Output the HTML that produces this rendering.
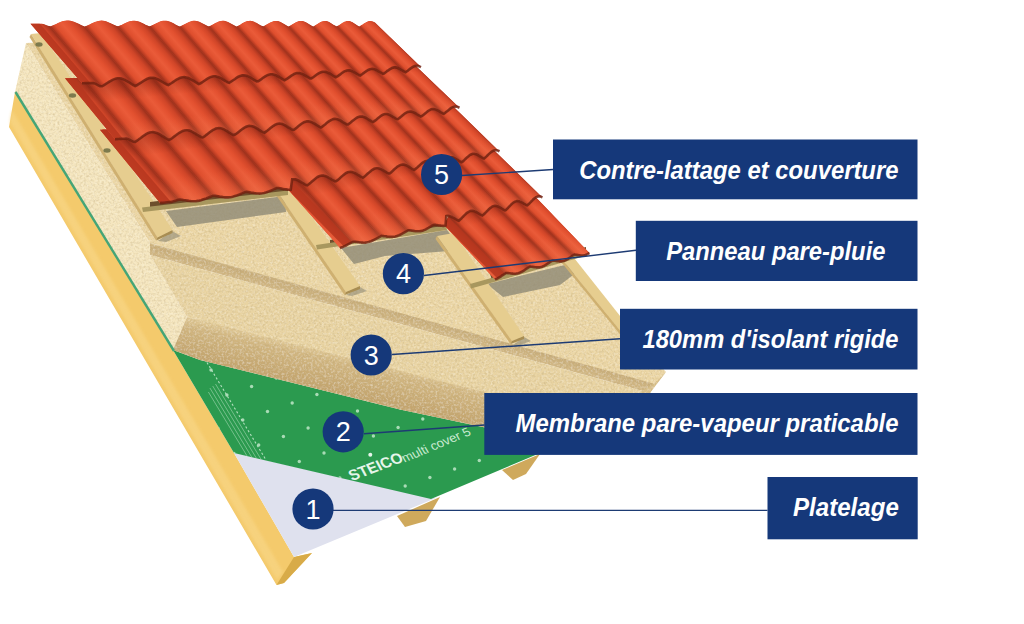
<!DOCTYPE html>
<html lang="fr"><head><meta charset="utf-8"><title>Composition de toiture</title>
<style>html,body{margin:0;padding:0;background:#fff}body{width:1024px;height:624px;overflow:hidden}svg{display:block}</style>
</head><body>
<svg width="1024" height="624" viewBox="0 0 1024 624">
<defs>
<linearGradient id="gw" x1="0" y1="0" x2="1" y2="0" gradientUnits="objectBoundingBox"><stop offset="0" stop-color="#f2c96c"/><stop offset="1" stop-color="#efc260"/></linearGradient>
<clipPath id="cg"><polygon points="173,350 234,453 431,499 545,451 545,440 485,427.5 400,409.5 200,360"/></clipPath>
<linearGradient id="gs" gradientUnits="userSpaceOnUse" x1="400" y1="311" x2="397" y2="322"><stop offset="0" stop-color="#d8c08c"/><stop offset="0.25" stop-color="#c8ad7a"/><stop offset="1" stop-color="#d2b885"/></linearGradient>
<linearGradient id="gf" gradientUnits="userSpaceOnUse" x1="300" y1="346" x2="292" y2="380"><stop offset="0" stop-color="#dfc794"/><stop offset="0.2" stop-color="#d2b782"/><stop offset="1" stop-color="#c4a56e"/></linearGradient>
<clipPath id="c4"><polygon points="444.0,225.0 458.2,197.9 458.6,198.1 459.0,198.4 459.5,198.5 459.9,198.7 460.3,198.9 460.7,199.1 461.1,199.1 461.6,198.8 462.0,198.5 462.4,198.2 462.8,197.9 463.2,197.5 463.6,197.2 464.1,196.8 464.5,196.5 464.9,196.1 465.3,195.7 465.7,195.4 466.2,195.0 466.6,194.6 467.0,194.3 467.4,193.9 467.8,193.6 468.2,193.3 468.6,193.0 469.1,192.7 469.5,192.4 469.9,192.2 470.3,191.9 470.7,191.7 471.1,191.5 471.5,191.4 472.0,191.2 472.4,191.1 472.8,191.0 473.2,190.9 473.6,190.9 474.0,190.8 474.4,190.8 474.8,190.9 475.2,190.9 475.6,191.0 476.1,191.1 476.5,191.2 476.9,191.3 477.3,191.5 477.7,191.6 478.1,191.8 478.5,192.0 478.9,192.2 479.3,192.4 479.7,192.6 480.1,192.8 480.5,193.0 481.0,193.3 481.4,193.5 481.8,193.7 482.2,193.9 482.6,194.1 483.0,194.3 483.4,194.5 483.8,194.7 484.2,194.8 484.6,195.0 485.0,194.8 485.4,194.5 485.8,194.2 486.2,193.9 486.6,193.5 487.0,193.2 487.4,192.8 487.8,192.5 488.2,192.1 488.6,191.8 489.0,191.4 489.4,191.1 489.8,190.7 490.2,190.4 490.6,190.0 491.0,189.7 491.4,189.4 491.8,189.1 492.2,188.8 492.6,188.5 493.0,188.2 493.4,188.0 493.8,187.8 494.2,187.6 494.6,187.4 495.0,187.2 495.4,187.1 495.8,187.0 496.2,186.9 496.6,186.9 497.0,186.8 497.4,186.8 497.8,186.9 498.2,186.9 498.6,187.0 498.9,187.0 499.3,187.1 499.7,187.3 500.1,187.4 500.5,187.6 500.9,187.7 501.3,187.9 501.7,188.1 502.1,188.3 502.5,188.5 502.9,188.7 503.3,189.0 503.7,189.2 504.0,189.4 504.4,189.6 504.8,189.8 505.2,190.0 505.6,190.2 506.0,190.4 506.4,190.6 506.8,190.8 507.2,190.9 507.5,190.9 507.9,190.6 508.3,190.3 508.7,190.0 509.1,189.7 509.5,189.4 509.9,189.0 510.3,188.7 510.6,188.3 511.0,188.0 511.4,187.6 511.8,187.3 512.2,186.9 512.6,186.6 513.0,186.2 513.3,185.9 513.7,185.6 514.1,185.3 514.5,185.0 514.9,184.7 515.3,184.4 515.6,184.2 516.0,184.0 516.4,183.8 516.8,183.6 517.2,183.4 517.6,183.3 517.9,183.2 518.3,183.1 518.7,183.0 519.1,183.0 519.5,183.0 519.8,183.0 520.2,183.0 520.6,183.1 521.0,183.2 521.4,183.3 521.7,183.4 522.1,183.5 522.5,183.7 522.9,183.8 523.2,184.0 589.5,253.0 589.1,253.2 588.8,253.5 588.4,253.7 588.0,253.9 587.7,254.1 587.3,254.3 587.0,254.5 586.6,254.6 586.2,254.8 585.9,254.9 585.5,255.1 585.1,255.2 584.8,255.3 584.4,255.4 584.0,255.4 583.7,255.5 583.3,255.5 582.9,255.6 582.6,255.6 582.2,255.6 581.8,255.6 581.5,255.6 581.1,255.6 580.7,255.5 580.4,255.5 580.0,255.4 579.6,255.4 579.2,255.3 578.9,255.3 578.5,255.2 578.1,255.1 577.8,255.1 577.4,255.0 577.0,254.9 576.7,254.9 576.3,254.8 575.9,254.8 575.5,254.7 575.2,254.7 574.8,254.6 574.4,254.6 574.1,254.8 573.7,255.0 573.3,255.2 572.9,255.5 572.6,255.7 572.2,256.0 571.8,256.2 571.4,256.5 571.1,256.8 570.7,257.0 570.3,257.3 569.9,257.6 569.6,257.8 569.2,258.1 568.8,258.4 568.4,258.6 568.1,258.9 567.7,259.1 567.3,259.3 566.9,259.5 566.5,259.8 566.2,260.0 565.8,260.1 565.4,260.3 565.0,260.5 564.6,260.6 564.3,260.8 563.9,260.9 563.5,261.0 563.1,261.1 562.7,261.2 562.4,261.3 562.0,261.3 561.6,261.4 561.2,261.4 560.8,261.4 560.5,261.4 560.1,261.4 559.7,261.4 559.3,261.4 558.9,261.3 558.5,261.3 558.2,261.2 557.8,261.2 557.4,261.1 557.0,261.1 556.6,261.0 556.2,260.9 555.9,260.9 555.5,260.8 555.1,260.8 554.7,260.7 554.3,260.7 553.9,260.6 553.5,260.6 553.2,260.5 552.8,260.5 552.4,260.5 552.0,260.8 551.6,261.0 551.2,261.3 550.8,261.5 550.4,261.8 550.1,262.0 549.7,262.3 549.3,262.6 548.9,262.9 548.5,263.1 548.1,263.4 547.7,263.7 547.3,263.9 546.9,264.2 546.5,264.4 546.1,264.7 545.8,264.9 545.4,265.2 545.0,265.4 544.6,265.6 544.2,265.8 543.8,266.0 543.4,266.2 543.0,266.4 542.6,266.6 542.2,266.7 541.8,266.9 541.4,267.0 541.0,267.1 540.6,267.2 540.2,267.2 539.8,267.3 539.4,267.4 539.1,267.4 538.7,267.4 538.3,267.4 537.9,267.4 537.5,267.4 537.1,267.4 536.7,267.4 536.3,267.4 535.9,267.3 535.5,267.3 535.1,267.2 534.7,267.2 534.3,267.1 533.9,267.1 533.5,267.0 533.1,266.9 532.7,266.9 532.3,266.8 531.9,266.8 531.5,266.7 531.1,266.7 530.7,266.7 530.3,266.6 529.9,266.6 529.5,266.8 529.1,267.1 528.6,267.3 528.2,267.6 527.8,267.8 527.4,268.1 527.0,268.4 526.6,268.6 526.2,268.9 525.8,269.2 525.4,269.4 525.0,269.7 524.6,270.0 524.2,270.3 523.8,270.5 523.4,270.8 523.0,271.0 522.6,271.3 522.2,271.5 521.7,271.8 521.3,272.0 520.9,272.2 520.5,272.4 520.1,272.6 519.7,272.7 519.3,272.9 518.9,273.0 518.5,273.2 518.1,273.3 517.6,273.4 517.2,273.5 516.8,273.5 516.4,273.6 516.0,273.7 515.6,273.7 515.2,273.7 514.8,273.7 514.3,273.7 513.9,273.7 513.5,273.7 513.1,273.7 512.7,273.6 512.3,273.6 511.9,273.6 511.4,273.5 511.0,273.5 510.6,273.4 510.2,273.3 509.8,273.3 509.4,273.2 508.9,273.2 508.5,273.1 508.1,273.1 507.7,273.1 507.3,273.0 506.8,273.0 506.4,273.0 506.0,273.1 505.6,273.3 505.2,273.6 504.7,273.8 504.3,274.1 503.9,274.4 503.5,274.6 503.1,274.9 502.6,275.2 502.2,275.5 501.8,275.7 501.4,276.0 501.0,276.3 500.5,276.6 500.1,276.9 499.7,277.1 499.3,277.4 498.8,277.6 498.4,277.9 498.0,278.1 497.6,278.3 497.1,278.6 496.7,278.8 496.3,279.0 495.9,279.1 495.4,279.3 495.0,279.5"/></clipPath>
<linearGradient id="t1" gradientUnits="userSpaceOnUse" x1="420.1" y1="250.4" x2="436.7" y2="234.6"><stop offset="0" stop-color="#98301b"/><stop offset="0.06" stop-color="#b83b22"/><stop offset="0.18" stop-color="#de4e2d"/><stop offset="0.42" stop-color="#ea5b39"/><stop offset="0.62" stop-color="#e2502f"/><stop offset="0.8" stop-color="#cf4528"/><stop offset="0.93" stop-color="#b03821"/><stop offset="1" stop-color="#98301b"/></linearGradient>
<linearGradient id="t2" gradientUnits="userSpaceOnUse" x1="446.2" y1="244.6" x2="462.0" y2="229.3"><stop offset="0" stop-color="#98301b"/><stop offset="0.06" stop-color="#b83b22"/><stop offset="0.18" stop-color="#de4e2d"/><stop offset="0.42" stop-color="#ea5b39"/><stop offset="0.62" stop-color="#e2502f"/><stop offset="0.8" stop-color="#cf4528"/><stop offset="0.93" stop-color="#b03821"/><stop offset="1" stop-color="#98301b"/></linearGradient>
<linearGradient id="t3" gradientUnits="userSpaceOnUse" x1="471.3" y1="239.0" x2="486.3" y2="224.3"><stop offset="0" stop-color="#98301b"/><stop offset="0.06" stop-color="#b83b22"/><stop offset="0.18" stop-color="#de4e2d"/><stop offset="0.42" stop-color="#ea5b39"/><stop offset="0.62" stop-color="#e2502f"/><stop offset="0.8" stop-color="#cf4528"/><stop offset="0.93" stop-color="#b03821"/><stop offset="1" stop-color="#98301b"/></linearGradient>
<linearGradient id="t4" gradientUnits="userSpaceOnUse" x1="495.4" y1="233.7" x2="509.6" y2="219.5"><stop offset="0" stop-color="#98301b"/><stop offset="0.06" stop-color="#b83b22"/><stop offset="0.18" stop-color="#de4e2d"/><stop offset="0.42" stop-color="#ea5b39"/><stop offset="0.62" stop-color="#e2502f"/><stop offset="0.8" stop-color="#cf4528"/><stop offset="0.93" stop-color="#b03821"/><stop offset="1" stop-color="#98301b"/></linearGradient>
<linearGradient id="t5" gradientUnits="userSpaceOnUse" x1="518.6" y1="228.5" x2="532.1" y2="214.9"><stop offset="0" stop-color="#98301b"/><stop offset="0.06" stop-color="#b83b22"/><stop offset="0.18" stop-color="#de4e2d"/><stop offset="0.42" stop-color="#ea5b39"/><stop offset="0.62" stop-color="#e2502f"/><stop offset="0.8" stop-color="#cf4528"/><stop offset="0.93" stop-color="#b03821"/><stop offset="1" stop-color="#98301b"/></linearGradient>
<linearGradient id="t6" gradientUnits="userSpaceOnUse" x1="540.9" y1="223.6" x2="553.7" y2="210.4"><stop offset="0" stop-color="#98301b"/><stop offset="0.06" stop-color="#b83b22"/><stop offset="0.18" stop-color="#de4e2d"/><stop offset="0.42" stop-color="#ea5b39"/><stop offset="0.62" stop-color="#e2502f"/><stop offset="0.8" stop-color="#cf4528"/><stop offset="0.93" stop-color="#b03821"/><stop offset="1" stop-color="#98301b"/></linearGradient>
<linearGradient id="t7" gradientUnits="userSpaceOnUse" x1="350.4" y1="218.7" x2="375.0" y2="309.9"><stop offset="0" stop-color="#5a1208" stop-opacity="0.3"/><stop offset="0.2" stop-color="#5a1208" stop-opacity="0.22"/><stop offset="0.4" stop-color="#5a1208" stop-opacity="0.0"/><stop offset="0.7" stop-color="#ff9060" stop-opacity="0.0"/><stop offset="1" stop-color="#ffa070" stop-opacity="0.16"/></linearGradient>
<clipPath id="c3"><polygon points="287.5,189.0 302.0,156.0 302.9,156.4 303.9,156.8 304.9,157.2 305.9,157.7 306.9,158.2 307.9,158.7 308.9,159.1 309.8,159.6 310.8,160.0 311.8,160.2 312.8,159.6 313.7,159.0 314.7,158.3 315.7,157.6 316.7,156.9 317.6,156.2 318.6,155.5 319.6,154.8 320.5,154.2 321.5,153.7 322.5,153.2 323.4,152.8 324.4,152.5 325.3,152.3 326.3,152.2 327.3,152.2 328.2,152.2 329.2,152.4 330.1,152.7 331.1,153.0 332.0,153.4 333.0,153.8 333.9,154.3 334.8,154.8 335.8,155.3 336.7,155.7 337.7,156.2 338.6,156.6 339.5,157.0 340.5,156.6 341.4,155.9 342.4,155.3 343.3,154.6 344.2,153.9 345.1,153.2 346.1,152.5 347.0,151.9 347.9,151.3 348.9,150.7 349.8,150.2 350.7,149.8 351.6,149.4 352.5,149.2 353.5,149.1 354.4,149.0 355.3,149.1 356.2,149.2 357.1,149.5 358.0,149.8 358.9,150.2 359.8,150.6 360.7,151.0 361.7,151.5 362.6,152.0 363.5,152.5 364.4,152.9 365.3,153.3 366.2,153.7 367.1,153.6 368.0,153.0 368.9,152.4 369.8,151.8 370.6,151.1 371.5,150.4 372.4,149.7 373.3,149.0 374.2,148.4 375.1,147.9 376.0,147.3 376.9,146.9 377.7,146.6 378.6,146.3 379.5,146.1 380.4,146.1 381.3,146.1 382.1,146.2 383.0,146.4 383.9,146.7 384.8,147.0 385.6,147.4 386.5,147.9 387.4,148.4 388.3,148.8 389.1,149.3 390.0,149.8 390.9,150.2 391.7,150.6 392.6,150.8 393.4,150.3 394.3,149.7 395.2,149.0 396.0,148.4 396.9,147.7 397.7,147.0 398.6,146.3 399.4,145.7 400.3,145.1 401.1,144.6 402.0,144.2 402.8,143.8 403.7,143.5 404.5,143.3 405.4,143.2 406.2,143.2 407.1,143.3 407.9,143.5 408.8,143.7 409.6,144.1 410.4,144.4 411.3,144.9 412.1,145.3 412.9,145.8 413.8,146.3 414.6,146.7 415.4,147.2 416.3,147.6 417.1,148.0 417.9,147.6 418.8,147.0 419.6,146.4 420.4,145.7 421.2,145.1 422.1,144.4 422.9,143.8 423.7,143.1 424.5,142.5 425.3,142.0 426.1,141.5 427.0,141.1 427.8,140.8 428.6,140.6 429.4,140.5 430.2,140.4 431.0,140.5 431.8,140.7 432.6,140.9 433.5,141.2 434.3,141.6 435.1,142.0 435.9,142.4 436.7,142.9 437.5,143.4 438.3,143.8 439.1,144.3 439.9,144.7 440.7,145.1 441.5,145.0 442.3,144.5 443.1,143.9 443.9,143.2 444.6,142.6 445.4,141.9 446.2,141.3 447.0,140.6 447.8,140.0 448.6,139.5 449.4,139.0 450.2,138.6 450.9,138.3 451.7,138.0 452.5,137.9 453.3,137.8 454.1,137.8 454.9,138.0 455.6,138.2 456.4,138.4 457.2,138.8 458.0,139.2 458.7,139.6 459.5,140.1 460.3,140.5 461.0,141.0 461.8,141.5 462.6,141.9 463.4,142.3 464.1,142.5 464.9,142.0 465.7,141.4 466.4,140.8 467.2,140.2 467.9,139.5 468.7,138.9 469.5,138.3 470.2,137.7 471.0,137.1 471.7,136.6 472.5,136.2 473.2,135.8 474.0,135.5 474.8,135.4 475.5,135.3 476.3,135.3 477.0,135.4 477.8,135.5 478.5,135.8 479.3,136.1 480.0,136.5 542.5,197.4 541.8,197.1 541.1,196.8 540.4,196.6 539.6,196.4 538.9,196.4 538.2,196.5 537.5,196.6 536.8,196.9 536.0,197.2 535.3,197.7 534.6,198.2 533.9,198.9 533.1,199.5 532.4,200.3 531.7,201.0 531.0,201.8 530.2,202.6 529.5,203.3 528.8,204.1 528.0,204.8 527.3,205.4 526.6,205.2 525.8,204.9 525.1,204.5 524.4,204.0 523.6,203.6 522.9,203.1 522.1,202.7 521.4,202.3 520.7,201.9 519.9,201.6 519.2,201.3 518.4,201.2 517.7,201.1 516.9,201.1 516.2,201.3 515.4,201.5 514.7,201.8 513.9,202.3 513.2,202.8 512.4,203.4 511.7,204.1 510.9,204.8 510.2,205.6 509.4,206.4 508.7,207.2 507.9,208.0 507.1,208.8 506.4,209.5 505.6,210.2 504.9,210.3 504.1,210.0 503.3,209.6 502.6,209.1 501.8,208.7 501.0,208.2 500.3,207.7 499.5,207.3 498.7,206.9 498.0,206.5 497.2,206.2 496.4,206.0 495.6,205.9 494.9,205.9 494.1,206.0 493.3,206.2 492.5,206.5 491.7,207.0 491.0,207.5 490.2,208.1 489.4,208.8 488.6,209.5 487.8,210.3 487.0,211.1 486.3,211.9 485.5,212.7 484.7,213.6 483.9,214.3 483.1,215.1 482.3,215.6 481.5,215.2 480.7,214.8 479.9,214.4 479.1,213.9 478.3,213.4 477.5,212.9 476.7,212.4 475.9,212.0 475.1,211.6 474.3,211.3 473.5,211.1 472.7,210.9 471.9,210.9 471.1,210.9 470.3,211.1 469.5,211.4 468.7,211.8 467.9,212.3 467.0,212.9 466.2,213.5 465.4,214.3 464.6,215.1 463.8,215.9 463.0,216.8 462.1,217.6 461.3,218.5 460.5,219.3 459.7,220.0 458.8,220.8 458.0,220.6 457.2,220.2 456.4,219.7 455.5,219.2 454.7,218.7 453.9,218.2 453.0,217.7 452.2,217.3 451.4,216.8 450.5,216.5 449.7,216.2 448.9,216.0 448.0,215.9 447.2,215.9 446.3,216.1 445.5,225.7 444.6,225.8 443.8,225.9 443.0,225.9 442.1,225.8 441.3,225.7 440.4,225.6 439.6,225.5 438.7,225.4 437.8,225.2 437.0,225.1 436.1,225.0 435.3,224.9 434.4,224.8 433.6,225.0 432.7,225.4 431.8,225.9 431.0,226.4 430.1,226.9 429.2,227.4 428.4,227.9 427.5,228.4 426.6,228.9 425.8,229.4 424.9,229.8 424.0,230.1 423.1,230.5 422.3,230.7 421.4,231.0 420.5,231.1 419.6,231.3 418.8,231.3 417.9,231.3 417.0,231.3 416.1,231.2 415.2,231.2 414.3,231.0 413.4,230.9 412.6,230.8 411.7,230.6 410.8,230.5 409.9,230.4 409.0,230.3 408.1,230.3 407.2,230.8 406.3,231.3 405.4,231.8 404.5,232.3 403.6,232.8 402.7,233.3 401.8,233.8 400.9,234.3 400.0,234.8 399.1,235.2 398.1,235.6 397.2,235.9 396.3,236.2 395.4,236.5 394.5,236.7 393.6,236.8 392.7,236.9 391.7,236.9 390.8,236.9 389.9,236.9 389.0,236.8 388.0,236.7 387.1,236.6 386.2,236.4 385.3,236.3 384.3,236.2 383.4,236.1 382.5,236.0 381.5,235.9 380.6,236.3 379.7,236.8 378.7,237.3 377.8,237.8 376.8,238.3 375.9,238.8 374.9,239.3 374.0,239.8 373.1,240.3 372.1,240.7 371.2,241.2 370.2,241.5 369.3,241.8 368.3,242.1 367.3,242.3 366.4,242.5 365.4,242.6 364.5,242.7 363.5,242.7 362.5,242.6 361.6,242.6 360.6,242.5 359.6,242.4 358.7,242.2 357.7,242.1 356.7,242.0 355.8,241.9 354.8,241.8 353.8,241.7 352.8,241.9 351.9,242.4 350.9,242.9 349.9,243.4 348.9,243.9 347.9,244.4 346.9,245.0 346.0,245.5 345.0,246.0 344.0,246.4 343.0,246.9 342.0,247.2 341.0,247.6 340.0,247.9"/></clipPath>
<linearGradient id="t8" gradientUnits="userSpaceOnUse" x1="256.5" y1="213.1" x2="276.7" y2="195.4"><stop offset="0" stop-color="#98301b"/><stop offset="0.06" stop-color="#b83b22"/><stop offset="0.18" stop-color="#de4e2d"/><stop offset="0.42" stop-color="#ea5b39"/><stop offset="0.62" stop-color="#e2502f"/><stop offset="0.8" stop-color="#cf4528"/><stop offset="0.93" stop-color="#b03821"/><stop offset="1" stop-color="#98301b"/></linearGradient>
<linearGradient id="t9" gradientUnits="userSpaceOnUse" x1="287.8" y1="208.2" x2="307.0" y2="191.2"><stop offset="0" stop-color="#98301b"/><stop offset="0.06" stop-color="#b83b22"/><stop offset="0.18" stop-color="#de4e2d"/><stop offset="0.42" stop-color="#ea5b39"/><stop offset="0.62" stop-color="#e2502f"/><stop offset="0.8" stop-color="#cf4528"/><stop offset="0.93" stop-color="#b03821"/><stop offset="1" stop-color="#98301b"/></linearGradient>
<linearGradient id="t10" gradientUnits="userSpaceOnUse" x1="317.8" y1="203.4" x2="336.1" y2="187.2"><stop offset="0" stop-color="#98301b"/><stop offset="0.06" stop-color="#b83b22"/><stop offset="0.18" stop-color="#de4e2d"/><stop offset="0.42" stop-color="#ea5b39"/><stop offset="0.62" stop-color="#e2502f"/><stop offset="0.8" stop-color="#cf4528"/><stop offset="0.93" stop-color="#b03821"/><stop offset="1" stop-color="#98301b"/></linearGradient>
<linearGradient id="t11" gradientUnits="userSpaceOnUse" x1="346.5" y1="198.9" x2="363.8" y2="183.2"><stop offset="0" stop-color="#98301b"/><stop offset="0.06" stop-color="#b83b22"/><stop offset="0.18" stop-color="#de4e2d"/><stop offset="0.42" stop-color="#ea5b39"/><stop offset="0.62" stop-color="#e2502f"/><stop offset="0.8" stop-color="#cf4528"/><stop offset="0.93" stop-color="#b03821"/><stop offset="1" stop-color="#98301b"/></linearGradient>
<linearGradient id="t12" gradientUnits="userSpaceOnUse" x1="374.0" y1="194.4" x2="390.4" y2="179.3"><stop offset="0" stop-color="#98301b"/><stop offset="0.06" stop-color="#b83b22"/><stop offset="0.18" stop-color="#de4e2d"/><stop offset="0.42" stop-color="#ea5b39"/><stop offset="0.62" stop-color="#e2502f"/><stop offset="0.8" stop-color="#cf4528"/><stop offset="0.93" stop-color="#b03821"/><stop offset="1" stop-color="#98301b"/></linearGradient>
<linearGradient id="t13" gradientUnits="userSpaceOnUse" x1="400.3" y1="190.1" x2="415.9" y2="175.5"><stop offset="0" stop-color="#98301b"/><stop offset="0.06" stop-color="#b83b22"/><stop offset="0.18" stop-color="#de4e2d"/><stop offset="0.42" stop-color="#ea5b39"/><stop offset="0.62" stop-color="#e2502f"/><stop offset="0.8" stop-color="#cf4528"/><stop offset="0.93" stop-color="#b03821"/><stop offset="1" stop-color="#98301b"/></linearGradient>
<linearGradient id="t14" gradientUnits="userSpaceOnUse" x1="425.6" y1="185.9" x2="440.4" y2="171.9"><stop offset="0" stop-color="#98301b"/><stop offset="0.06" stop-color="#b83b22"/><stop offset="0.18" stop-color="#de4e2d"/><stop offset="0.42" stop-color="#ea5b39"/><stop offset="0.62" stop-color="#e2502f"/><stop offset="0.8" stop-color="#cf4528"/><stop offset="0.93" stop-color="#b03821"/><stop offset="1" stop-color="#98301b"/></linearGradient>
<linearGradient id="t15" gradientUnits="userSpaceOnUse" x1="449.9" y1="181.8" x2="463.9" y2="168.3"><stop offset="0" stop-color="#98301b"/><stop offset="0.06" stop-color="#b83b22"/><stop offset="0.18" stop-color="#de4e2d"/><stop offset="0.42" stop-color="#ea5b39"/><stop offset="0.62" stop-color="#e2502f"/><stop offset="0.8" stop-color="#cf4528"/><stop offset="0.93" stop-color="#b03821"/><stop offset="1" stop-color="#98301b"/></linearGradient>
<linearGradient id="t16" gradientUnits="userSpaceOnUse" x1="473.2" y1="177.9" x2="486.5" y2="164.8"><stop offset="0" stop-color="#98301b"/><stop offset="0.06" stop-color="#b83b22"/><stop offset="0.18" stop-color="#de4e2d"/><stop offset="0.42" stop-color="#ea5b39"/><stop offset="0.62" stop-color="#e2502f"/><stop offset="0.8" stop-color="#cf4528"/><stop offset="0.93" stop-color="#b03821"/><stop offset="1" stop-color="#98301b"/></linearGradient>
<linearGradient id="t17" gradientUnits="userSpaceOnUse" x1="495.6" y1="174.1" x2="508.2" y2="161.4"><stop offset="0" stop-color="#98301b"/><stop offset="0.06" stop-color="#b83b22"/><stop offset="0.18" stop-color="#de4e2d"/><stop offset="0.42" stop-color="#ea5b39"/><stop offset="0.62" stop-color="#e2502f"/><stop offset="0.8" stop-color="#cf4528"/><stop offset="0.93" stop-color="#b03821"/><stop offset="1" stop-color="#98301b"/></linearGradient>
<linearGradient id="t18" gradientUnits="userSpaceOnUse" x1="305.6" y1="161.0" x2="323.5" y2="247.4"><stop offset="0" stop-color="#5a1208" stop-opacity="0.3"/><stop offset="0.2" stop-color="#5a1208" stop-opacity="0.22"/><stop offset="0.4" stop-color="#5a1208" stop-opacity="0.0"/><stop offset="0.7" stop-color="#ff9060" stop-opacity="0.0"/><stop offset="1" stop-color="#ffa070" stop-opacity="0.16"/></linearGradient>
<clipPath id="c2"><polygon points="100.0,129.8 101.6,129.7 103.2,129.6 104.8,129.5 106.4,129.4 108.0,129.3 109.5,129.2 111.1,129.1 112.7,129.1 114.3,129.6 115.8,130.2 117.4,130.7 119.0,131.3 120.5,131.3 122.1,130.6 123.6,129.7 125.2,128.8 126.7,127.9 128.3,127.0 129.8,126.1 131.3,125.4 138.7,111.8 140.5,112.5 142.3,111.9 144.1,111.0 145.9,109.9 147.6,108.9 149.4,107.9 151.2,107.0 152.9,106.2 154.7,105.5 156.4,105.1 158.2,104.9 159.9,105.0 161.6,105.3 163.4,105.7 165.1,106.4 166.8,107.1 168.5,108.0 170.2,108.8 172.0,109.6 173.7,110.4 175.4,110.6 177.1,109.8 178.8,108.8 180.4,107.8 182.1,106.8 183.8,105.8 185.5,105.0 187.2,104.2 188.8,103.7 190.5,103.4 192.2,103.3 193.8,103.5 195.5,103.8 197.1,104.4 198.8,105.1 200.4,105.9 202.1,106.7 203.7,107.5 205.3,108.3 207.0,109.0 208.6,108.6 210.2,107.7 211.8,106.7 213.5,105.7 215.1,104.8 216.7,103.8 218.3,103.1 219.9,102.4 221.5,102.0 223.1,101.8 224.7,101.8 226.2,102.0 227.8,102.5 229.4,103.1 231.0,103.8 232.5,104.6 234.1,105.5 235.7,106.3 237.2,107.0 238.8,107.5 240.3,106.7 241.9,105.7 243.4,104.8 245.0,103.8 246.5,102.8 248.1,102.0 249.6,101.3 251.1,100.7 252.6,100.4 254.2,100.3 255.7,100.4 257.2,100.7 258.7,101.2 260.2,101.9 261.7,102.7 263.2,103.5 264.7,104.3 266.2,105.1 267.7,105.8 269.2,105.6 270.7,104.8 272.2,103.8 273.7,102.9 275.1,101.9 276.6,101.0 278.1,100.2 279.5,99.6 281.0,99.1 282.5,98.9 283.9,98.9 285.4,99.1 286.8,99.5 288.3,100.1 289.7,100.8 291.2,101.6 292.6,102.4 294.0,103.2 295.5,103.9 296.9,104.6 298.3,103.8 299.7,102.9 301.2,102.0 302.6,101.0 304.0,100.1 305.4,99.3 306.8,98.5 308.2,98.0 309.6,97.6 311.0,97.5 312.4,97.6 313.8,97.9 315.2,98.4 316.6,99.0 317.9,99.7 319.3,100.5 320.7,101.3 322.1,102.1 323.5,102.8 324.8,102.9 326.2,102.1 327.6,101.2 328.9,100.2 330.3,99.3 331.6,98.4 333.0,97.6 334.3,97.0 335.7,96.5 337.0,96.3 338.4,96.2 339.7,96.4 341.0,96.8 342.4,97.3 343.7,98.0 345.0,98.7 346.3,99.5 347.7,100.3 349.0,101.1 350.3,101.7 351.6,101.2 352.9,100.4 354.2,99.4 355.5,98.5 356.8,97.6 358.1,96.8 359.4,96.1 360.7,95.5 362.0,95.1 363.3,95.0 364.6,95.0 365.9,95.3 367.2,95.7 368.4,96.3 369.7,97.0 371.0,97.8 372.3,98.6 373.5,99.4 374.8,100.1 376.0,100.4 377.3,99.6 378.6,98.7 379.8,97.8 381.1,96.9 382.3,96.0 383.6,95.2 384.8,94.6 386.1,94.1 387.3,93.8 388.5,93.8 389.8,93.9 391.0,94.2 392.2,94.7 393.5,95.4 394.7,96.1 395.9,96.9 397.1,97.7 398.3,98.4 399.6,99.1 400.8,98.8 402.0,98.0 403.2,97.1 404.4,96.2 405.6,95.3 406.8,94.5 408.0,93.8 409.2,93.2 410.4,92.8 411.6,92.6 412.8,92.6 414.0,92.9 415.1,93.3 416.3,93.8 417.5,94.5 418.7,95.3 419.9,96.1 421.0,96.8 422.2,97.5 423.4,98.0 424.5,97.3 425.7,96.4 426.9,95.6 428.0,94.7 429.2,93.8 430.3,93.0 431.5,92.4 432.6,91.9 433.8,91.6 434.9,91.5 436.1,91.6 437.2,91.9 438.4,92.4 439.5,93.0 499.5,151.4 498.4,150.8 497.3,150.4 496.2,150.2 495.1,150.2 494.0,150.5 492.9,150.9 491.8,151.6 490.7,152.4 489.6,153.4 488.5,154.4 487.4,155.5 486.3,156.6 485.2,157.6 484.1,158.6 482.9,158.2 481.8,157.5 480.7,156.8 479.6,156.1 478.4,155.4 477.3,154.7 476.2,154.2 475.0,153.9 473.9,153.7 472.8,153.8 471.6,154.2 470.5,154.7 469.3,155.5 468.2,156.4 467.0,157.4 465.9,158.5 464.7,159.7 463.6,160.8 462.4,161.8 461.3,162.3 460.1,161.6 458.9,160.9 457.8,160.2 456.6,159.4 455.4,158.7 454.2,158.1 453.1,157.6 451.9,157.4 450.7,157.3 449.5,157.5 448.3,158.0 447.1,158.6 445.9,159.5 444.7,160.5 443.5,161.6 442.3,162.7 441.1,163.9 439.9,165.0 438.7,166.0 437.5,165.8 436.3,165.1 435.1,164.3 433.9,163.6 432.7,162.8 431.4,162.1 430.2,161.5 429.0,161.1 427.8,160.9 426.5,161.0 425.3,161.3 424.1,161.8 422.8,162.6 421.6,163.5 420.3,164.6 419.1,165.8 417.8,167.0 416.6,168.1 415.3,169.2 414.1,170.0 412.8,169.3 411.5,168.6 410.3,167.8 409.0,166.9 407.7,166.2 406.5,165.5 405.2,165.0 403.9,164.6 402.6,164.5 401.4,164.7 400.1,165.1 398.8,165.8 397.5,166.6 396.2,167.7 394.9,168.8 393.6,170.0 392.3,171.3 391.0,172.4 389.7,173.5 388.4,173.5 387.1,172.8 385.7,172.0 384.4,171.2 383.1,170.3 381.8,169.6 380.4,168.9 379.1,168.5 377.8,168.2 376.4,168.2 375.1,168.5 373.8,169.0 372.4,169.8 371.1,170.8 369.7,171.9 368.4,173.1 367.0,174.3 365.6,175.6 364.3,176.8 362.9,177.8 361.6,177.1 360.2,176.3 358.8,175.4 357.4,174.6 356.0,173.7 354.7,173.0 353.3,172.4 351.9,172.0 350.5,171.8 349.1,172.0 347.7,172.3 346.3,173.0 344.9,173.9 343.5,174.9 342.1,176.1 340.7,177.4 339.3,178.7 337.8,179.9 336.4,181.1 335.0,181.4 333.6,180.6 332.1,179.8 330.7,178.9 329.2,178.0 327.8,177.1 326.4,176.4 324.9,175.9 323.5,175.6 322.0,175.5 320.6,175.7 319.1,176.3 317.6,177.0 316.2,178.0 314.7,179.2 313.2,180.4 311.7,181.7 310.3,183.1 308.8,184.3 307.3,185.4 305.8,185.0 304.3,184.1 302.8,183.2 301.3,182.3 299.8,181.3 298.3,180.5 296.8,179.8 295.3,179.4 293.7,179.2 292.2,179.2 290.7,189.7 289.2,189.7 287.6,189.6 286.1,189.4 284.6,189.2 283.0,188.9 281.5,188.6 279.9,188.3 278.4,188.1 276.8,188.1 275.3,188.8 273.7,189.4 272.1,190.1 270.6,190.8 269.0,191.4 267.4,192.0 265.8,192.6 264.2,193.0 262.6,193.3 261.0,193.5 259.4,193.6 257.8,193.5 256.2,193.4 254.6,193.2 253.0,192.9 251.4,192.7 249.8,192.4 248.2,192.1 246.5,191.9 244.9,192.3 243.3,192.9 241.6,193.6 240.0,194.3 238.3,194.9 236.7,195.6 235.0,196.1 233.4,196.6 231.7,197.0 230.1,197.3 228.4,197.4 226.7,197.4 225.0,197.4 223.4,197.2 221.7,196.9 220.0,196.7 218.3,196.4 216.6,196.1 214.9,195.9 213.2,195.8 211.5,196.4 209.7,197.0 208.0,197.7 206.3,198.4 204.6,199.0 202.8,199.6 201.1,200.2 199.4,200.6 197.6,200.9 195.9,201.2 194.1,201.2 192.4,201.2 190.6,201.1 188.8,200.9 187.1,200.6 185.3,200.3 183.5,200.1 181.7,199.8 180.0,199.6 178.2,199.8 176.4,200.4 174.6,201.0 172.8,201.6 171.0,201.9 169.1,202.1 167.3,202.3 165.5,202.5 163.7,202.7 161.8,202.9 160.0,203.1"/></clipPath>
<linearGradient id="t19" gradientUnits="userSpaceOnUse" x1="105.4" y1="160.5" x2="127.9" y2="141.2"><stop offset="0" stop-color="#98301b"/><stop offset="0.06" stop-color="#b83b22"/><stop offset="0.18" stop-color="#de4e2d"/><stop offset="0.42" stop-color="#ea5b39"/><stop offset="0.62" stop-color="#e2502f"/><stop offset="0.8" stop-color="#cf4528"/><stop offset="0.93" stop-color="#b03821"/><stop offset="1" stop-color="#98301b"/></linearGradient>
<linearGradient id="t20" gradientUnits="userSpaceOnUse" x1="142.1" y1="157.7" x2="163.7" y2="139.2"><stop offset="0" stop-color="#98301b"/><stop offset="0.06" stop-color="#b83b22"/><stop offset="0.18" stop-color="#de4e2d"/><stop offset="0.42" stop-color="#ea5b39"/><stop offset="0.62" stop-color="#e2502f"/><stop offset="0.8" stop-color="#cf4528"/><stop offset="0.93" stop-color="#b03821"/><stop offset="1" stop-color="#98301b"/></linearGradient>
<linearGradient id="t21" gradientUnits="userSpaceOnUse" x1="177.1" y1="154.9" x2="197.7" y2="137.2"><stop offset="0" stop-color="#98301b"/><stop offset="0.06" stop-color="#b83b22"/><stop offset="0.18" stop-color="#de4e2d"/><stop offset="0.42" stop-color="#ea5b39"/><stop offset="0.62" stop-color="#e2502f"/><stop offset="0.8" stop-color="#cf4528"/><stop offset="0.93" stop-color="#b03821"/><stop offset="1" stop-color="#98301b"/></linearGradient>
<linearGradient id="t22" gradientUnits="userSpaceOnUse" x1="210.5" y1="152.1" x2="230.1" y2="135.2"><stop offset="0" stop-color="#98301b"/><stop offset="0.06" stop-color="#b83b22"/><stop offset="0.18" stop-color="#de4e2d"/><stop offset="0.42" stop-color="#ea5b39"/><stop offset="0.62" stop-color="#e2502f"/><stop offset="0.8" stop-color="#cf4528"/><stop offset="0.93" stop-color="#b03821"/><stop offset="1" stop-color="#98301b"/></linearGradient>
<linearGradient id="t23" gradientUnits="userSpaceOnUse" x1="242.4" y1="149.3" x2="261.1" y2="133.1"><stop offset="0" stop-color="#98301b"/><stop offset="0.06" stop-color="#b83b22"/><stop offset="0.18" stop-color="#de4e2d"/><stop offset="0.42" stop-color="#ea5b39"/><stop offset="0.62" stop-color="#e2502f"/><stop offset="0.8" stop-color="#cf4528"/><stop offset="0.93" stop-color="#b03821"/><stop offset="1" stop-color="#98301b"/></linearGradient>
<linearGradient id="t24" gradientUnits="userSpaceOnUse" x1="272.8" y1="146.6" x2="290.7" y2="130.9"><stop offset="0" stop-color="#98301b"/><stop offset="0.06" stop-color="#b83b22"/><stop offset="0.18" stop-color="#de4e2d"/><stop offset="0.42" stop-color="#ea5b39"/><stop offset="0.62" stop-color="#e2502f"/><stop offset="0.8" stop-color="#cf4528"/><stop offset="0.93" stop-color="#b03821"/><stop offset="1" stop-color="#98301b"/></linearGradient>
<linearGradient id="t25" gradientUnits="userSpaceOnUse" x1="302.0" y1="143.9" x2="318.9" y2="128.8"><stop offset="0" stop-color="#98301b"/><stop offset="0.06" stop-color="#b83b22"/><stop offset="0.18" stop-color="#de4e2d"/><stop offset="0.42" stop-color="#ea5b39"/><stop offset="0.62" stop-color="#e2502f"/><stop offset="0.8" stop-color="#cf4528"/><stop offset="0.93" stop-color="#b03821"/><stop offset="1" stop-color="#98301b"/></linearGradient>
<linearGradient id="t26" gradientUnits="userSpaceOnUse" x1="329.9" y1="141.2" x2="346.0" y2="126.7"><stop offset="0" stop-color="#98301b"/><stop offset="0.06" stop-color="#b83b22"/><stop offset="0.18" stop-color="#de4e2d"/><stop offset="0.42" stop-color="#ea5b39"/><stop offset="0.62" stop-color="#e2502f"/><stop offset="0.8" stop-color="#cf4528"/><stop offset="0.93" stop-color="#b03821"/><stop offset="1" stop-color="#98301b"/></linearGradient>
<linearGradient id="t27" gradientUnits="userSpaceOnUse" x1="356.7" y1="138.5" x2="372.0" y2="124.6"><stop offset="0" stop-color="#98301b"/><stop offset="0.06" stop-color="#b83b22"/><stop offset="0.18" stop-color="#de4e2d"/><stop offset="0.42" stop-color="#ea5b39"/><stop offset="0.62" stop-color="#e2502f"/><stop offset="0.8" stop-color="#cf4528"/><stop offset="0.93" stop-color="#b03821"/><stop offset="1" stop-color="#98301b"/></linearGradient>
<linearGradient id="t28" gradientUnits="userSpaceOnUse" x1="382.4" y1="135.9" x2="396.9" y2="122.4"><stop offset="0" stop-color="#98301b"/><stop offset="0.06" stop-color="#b83b22"/><stop offset="0.18" stop-color="#de4e2d"/><stop offset="0.42" stop-color="#ea5b39"/><stop offset="0.62" stop-color="#e2502f"/><stop offset="0.8" stop-color="#cf4528"/><stop offset="0.93" stop-color="#b03821"/><stop offset="1" stop-color="#98301b"/></linearGradient>
<linearGradient id="t29" gradientUnits="userSpaceOnUse" x1="407.1" y1="133.4" x2="420.8" y2="120.3"><stop offset="0" stop-color="#98301b"/><stop offset="0.06" stop-color="#b83b22"/><stop offset="0.18" stop-color="#de4e2d"/><stop offset="0.42" stop-color="#ea5b39"/><stop offset="0.62" stop-color="#e2502f"/><stop offset="0.8" stop-color="#cf4528"/><stop offset="0.93" stop-color="#b03821"/><stop offset="1" stop-color="#98301b"/></linearGradient>
<linearGradient id="t30" gradientUnits="userSpaceOnUse" x1="430.8" y1="130.9" x2="443.7" y2="118.2"><stop offset="0" stop-color="#98301b"/><stop offset="0.06" stop-color="#b83b22"/><stop offset="0.18" stop-color="#de4e2d"/><stop offset="0.42" stop-color="#ea5b39"/><stop offset="0.62" stop-color="#e2502f"/><stop offset="0.8" stop-color="#cf4528"/><stop offset="0.93" stop-color="#b03821"/><stop offset="1" stop-color="#98301b"/></linearGradient>
<linearGradient id="t31" gradientUnits="userSpaceOnUse" x1="453.6" y1="128.4" x2="465.8" y2="116.2"><stop offset="0" stop-color="#98301b"/><stop offset="0.06" stop-color="#b83b22"/><stop offset="0.18" stop-color="#de4e2d"/><stop offset="0.42" stop-color="#ea5b39"/><stop offset="0.62" stop-color="#e2502f"/><stop offset="0.8" stop-color="#cf4528"/><stop offset="0.93" stop-color="#b03821"/><stop offset="1" stop-color="#98301b"/></linearGradient>
<linearGradient id="t32" gradientUnits="userSpaceOnUse" x1="262.2" y1="106.4" x2="273.5" y2="187.3"><stop offset="0" stop-color="#5a1208" stop-opacity="0.3"/><stop offset="0.2" stop-color="#5a1208" stop-opacity="0.22"/><stop offset="0.4" stop-color="#5a1208" stop-opacity="0.0"/><stop offset="0.7" stop-color="#ff9060" stop-opacity="0.0"/><stop offset="1" stop-color="#ffa070" stop-opacity="0.16"/></linearGradient>
<clipPath id="c1"><polygon points="65.0,78.3 66.6,78.3 68.2,78.2 69.7,78.2 71.3,78.1 72.9,78.0 74.4,78.0 76.0,77.9 77.5,77.9 79.1,78.5 80.6,79.1 82.2,79.7 83.7,80.3 85.3,80.4 86.8,79.6 88.3,78.8 89.9,78.0 91.4,77.1 92.9,76.3 94.5,75.4 96.0,74.7 103.5,62.7 105.3,63.6 107.0,64.3 108.8,63.7 110.5,62.8 112.3,61.8 114.0,60.8 115.8,59.8 117.5,59.0 119.2,58.2 120.9,57.6 122.6,57.2 124.4,57.1 126.1,57.2 127.8,57.5 129.5,58.0 131.2,58.7 132.9,59.5 134.6,60.4 136.2,61.3 137.9,62.1 139.6,62.9 141.3,63.2 142.9,62.3 144.6,61.4 146.3,60.5 147.9,59.5 149.6,58.5 151.2,57.7 152.9,57.0 154.5,56.6 156.2,56.3 157.8,56.2 159.4,56.4 161.0,56.8 162.7,57.4 164.3,58.1 165.9,59.0 167.5,59.8 169.1,60.7 170.7,61.5 172.3,62.3 173.9,61.9 175.5,61.0 177.1,60.1 178.7,59.1 180.3,58.2 181.8,57.3 183.4,56.6 185.0,56.0 186.6,55.6 188.1,55.4 189.7,55.5 191.2,55.7 192.8,56.2 194.4,56.8 195.9,57.6 197.4,58.5 199.0,59.3 200.5,60.2 202.0,61.0 203.6,61.5 205.1,60.7 206.6,59.8 208.1,58.8 209.7,57.9 211.2,57.0 212.7,56.2 214.2,55.5 215.7,55.0 217.2,54.7 218.7,54.6 220.2,54.7 221.7,55.1 223.2,55.7 224.6,56.3 226.1,57.1 227.6,58.0 229.1,58.9 230.5,59.7 232.0,60.4 233.5,60.3 234.9,59.5 236.4,58.6 237.8,57.6 239.3,56.7 240.7,55.8 242.2,55.1 243.6,54.5 245.0,54.1 246.5,53.9 247.9,53.9 249.3,54.1 250.8,54.6 252.2,55.2 253.6,55.9 255.0,56.7 256.4,57.6 257.8,58.4 259.2,59.2 260.6,59.9 262.0,59.1 263.4,58.3 264.8,57.4 266.2,56.4 267.6,55.6 269.0,54.7 270.4,54.1 271.8,53.5 273.1,53.2 274.5,53.1 275.9,53.2 277.3,53.5 278.6,54.1 280.0,54.7 281.3,55.5 282.7,56.3 284.1,57.2 285.4,58.0 286.8,58.7 288.1,58.8 289.4,58.0 290.8,57.1 292.1,56.2 293.4,55.3 294.8,54.5 296.1,53.7 297.4,53.1 298.8,52.7 300.1,52.4 301.4,52.4 302.7,52.6 304.0,53.0 305.3,53.6 306.6,54.3 307.9,55.1 309.2,55.9 310.5,56.8 311.8,57.5 313.1,58.2 314.4,57.7 315.7,56.9 317.0,56.0 318.3,55.1 319.5,54.2 320.8,53.4 322.1,52.7 323.4,52.2 324.6,51.9 325.9,51.7 327.2,51.8 328.4,52.1 329.7,52.6 330.9,53.2 332.2,53.9 333.4,54.8 334.7,55.6 335.9,56.4 337.2,57.1 338.4,57.4 339.7,56.7 340.9,55.8 342.1,54.9 343.4,54.1 344.6,53.2 345.8,52.5 347.0,51.8 348.3,51.4 349.5,51.1 350.7,51.1 351.9,51.3 353.1,51.6 354.3,52.2 355.5,52.9 356.7,53.6 357.9,54.4 359.1,55.2 360.3,56.0 361.5,56.7 362.7,56.4 363.9,55.6 365.1,54.8 366.3,53.9 367.5,53.0 368.6,52.2 369.8,51.5 371.0,51.0 372.2,50.6 373.3,50.5 374.5,50.5 375.7,50.8 376.8,51.2 378.0,51.8 379.1,52.5 380.3,53.3 381.5,54.1 382.6,54.9 383.8,55.6 384.9,56.2 386.1,55.4 387.2,54.6 388.3,53.8 389.5,52.9 390.6,52.1 391.8,51.3 392.9,50.7 394.0,50.2 395.1,49.9 396.3,49.9 397.4,50.0 398.5,50.3 399.6,50.9 400.8,51.5 459.5,107.7 458.4,107.2 457.3,106.8 456.2,106.6 455.1,106.5 454.0,106.7 452.8,107.1 451.7,107.6 450.6,108.4 449.5,109.2 448.4,110.2 447.2,111.2 446.1,112.1 445.0,113.0 443.8,113.9 442.7,113.5 441.6,112.8 440.4,112.1 439.3,111.4 438.1,110.7 437.0,110.1 435.8,109.6 434.7,109.2 433.5,109.0 432.4,109.1 431.2,109.3 430.1,109.8 428.9,110.5 427.7,111.3 426.6,112.2 425.4,113.2 424.2,114.2 423.0,115.2 421.9,116.1 420.7,116.5 419.5,115.9 418.3,115.2 417.1,114.5 416.0,113.7 414.8,113.0 413.6,112.4 412.4,111.9 411.2,111.6 410.0,111.5 408.8,111.7 407.6,112.0 406.4,112.6 405.1,113.3 403.9,114.2 402.7,115.2 401.5,116.3 400.3,117.3 399.1,118.3 397.8,119.2 396.6,119.0 395.4,118.3 394.1,117.5 392.9,116.8 391.7,116.0 390.4,115.3 389.2,114.7 387.9,114.3 386.7,114.0 385.5,114.0 384.2,114.3 382.9,114.7 381.7,115.4 380.4,116.3 379.2,117.2 377.9,118.3 376.6,119.4 375.4,120.4 374.1,121.4 372.8,122.1 371.5,121.4 370.3,120.6 369.0,119.8 367.7,119.0 366.4,118.2 365.1,117.5 363.8,117.0 362.5,116.6 361.2,116.5 359.9,116.6 358.6,116.9 357.3,117.5 356.0,118.3 354.7,119.2 353.4,120.2 352.0,121.3 350.7,122.5 349.4,123.5 348.1,124.5 346.7,124.5 345.4,123.7 344.1,122.9 342.7,122.1 341.4,121.2 340.0,120.4 338.7,119.8 337.3,119.3 336.0,119.0 334.6,118.9 333.3,119.1 331.9,119.6 330.5,120.3 329.2,121.1 327.8,122.1 326.4,123.3 325.1,124.4 323.7,125.5 322.3,126.6 320.9,127.5 319.5,126.8 318.1,126.0 316.7,125.1 315.3,124.2 313.9,123.4 312.5,122.6 311.1,122.0 309.7,121.5 308.3,121.3 306.9,121.4 305.5,121.7 304.0,122.2 302.6,123.0 301.2,124.0 299.8,125.1 298.3,126.3 296.9,127.5 295.5,128.6 294.0,129.7 292.6,129.9 291.1,129.1 289.7,128.2 288.2,127.3 286.7,126.3 285.3,125.5 283.8,124.7 282.3,124.1 280.9,123.8 279.4,123.6 277.9,123.8 276.4,124.2 274.9,124.9 273.5,125.8 272.0,126.9 270.5,128.0 269.0,129.3 267.5,130.5 266.0,131.6 264.5,132.7 262.9,132.1 261.4,131.3 259.9,130.3 258.4,129.3 256.9,128.3 255.3,127.5 253.8,126.7 252.3,126.2 250.7,126.0 249.2,125.9 247.6,126.2 246.1,126.8 244.5,127.6 243.0,128.6 241.4,129.7 239.8,131.0 238.3,132.2 236.7,133.5 235.1,134.6 233.5,135.1 232.0,134.3 230.4,133.3 228.8,132.3 227.2,131.2 225.6,130.3 224.0,129.4 222.4,128.7 220.8,128.3 219.2,128.1 217.5,128.2 215.9,128.6 214.3,129.3 212.7,130.2 211.0,131.3 209.4,132.5 207.8,133.8 206.1,135.1 204.5,136.4 202.8,137.5 201.2,137.2 199.5,136.2 197.8,135.2 196.2,134.1 194.5,133.0 192.8,132.1 191.1,131.2 189.5,130.6 187.8,130.3 186.1,130.2 184.4,130.4 182.7,131.0 181.0,131.8 179.3,132.8 177.6,134.0 175.9,135.3 174.1,136.6 172.4,138.0 170.7,139.2 169.0,140.0 167.2,139.1 165.5,138.1 163.7,136.9 162.0,135.8 160.2,134.7 158.5,133.7 156.7,132.9 155.0,132.4 153.2,132.1 151.4,132.2 149.6,132.6 147.8,133.2 146.1,134.2 144.3,135.3 142.5,136.6 140.7,138.0 138.9,139.3 137.1,140.7 135.2,141.9 133.4,141.8 131.6,140.8 129.8,139.9 127.9,138.9 126.1,138.6 124.3,138.7 122.4,138.8 120.6,138.9 118.7,139.0 116.9,139.1 115.0,139.2"/></clipPath>
<linearGradient id="t33" gradientUnits="userSpaceOnUse" x1="66.7" y1="105.5" x2="89.7" y2="86.9"><stop offset="0" stop-color="#98301b"/><stop offset="0.06" stop-color="#b83b22"/><stop offset="0.18" stop-color="#de4e2d"/><stop offset="0.42" stop-color="#ea5b39"/><stop offset="0.62" stop-color="#e2502f"/><stop offset="0.8" stop-color="#cf4528"/><stop offset="0.93" stop-color="#b03821"/><stop offset="1" stop-color="#98301b"/></linearGradient>
<linearGradient id="t34" gradientUnits="userSpaceOnUse" x1="103.3" y1="103.9" x2="125.2" y2="86.2"><stop offset="0" stop-color="#98301b"/><stop offset="0.06" stop-color="#b83b22"/><stop offset="0.18" stop-color="#de4e2d"/><stop offset="0.42" stop-color="#ea5b39"/><stop offset="0.62" stop-color="#e2502f"/><stop offset="0.8" stop-color="#cf4528"/><stop offset="0.93" stop-color="#b03821"/><stop offset="1" stop-color="#98301b"/></linearGradient>
<linearGradient id="t35" gradientUnits="userSpaceOnUse" x1="138.3" y1="102.3" x2="159.1" y2="85.3"><stop offset="0" stop-color="#98301b"/><stop offset="0.06" stop-color="#b83b22"/><stop offset="0.18" stop-color="#de4e2d"/><stop offset="0.42" stop-color="#ea5b39"/><stop offset="0.62" stop-color="#e2502f"/><stop offset="0.8" stop-color="#cf4528"/><stop offset="0.93" stop-color="#b03821"/><stop offset="1" stop-color="#98301b"/></linearGradient>
<linearGradient id="t36" gradientUnits="userSpaceOnUse" x1="171.6" y1="100.6" x2="191.3" y2="84.3"><stop offset="0" stop-color="#98301b"/><stop offset="0.06" stop-color="#b83b22"/><stop offset="0.18" stop-color="#de4e2d"/><stop offset="0.42" stop-color="#ea5b39"/><stop offset="0.62" stop-color="#e2502f"/><stop offset="0.8" stop-color="#cf4528"/><stop offset="0.93" stop-color="#b03821"/><stop offset="1" stop-color="#98301b"/></linearGradient>
<linearGradient id="t37" gradientUnits="userSpaceOnUse" x1="203.4" y1="98.9" x2="222.1" y2="83.2"><stop offset="0" stop-color="#98301b"/><stop offset="0.06" stop-color="#b83b22"/><stop offset="0.18" stop-color="#de4e2d"/><stop offset="0.42" stop-color="#ea5b39"/><stop offset="0.62" stop-color="#e2502f"/><stop offset="0.8" stop-color="#cf4528"/><stop offset="0.93" stop-color="#b03821"/><stop offset="1" stop-color="#98301b"/></linearGradient>
<linearGradient id="t38" gradientUnits="userSpaceOnUse" x1="233.8" y1="97.2" x2="251.5" y2="82.1"><stop offset="0" stop-color="#98301b"/><stop offset="0.06" stop-color="#b83b22"/><stop offset="0.18" stop-color="#de4e2d"/><stop offset="0.42" stop-color="#ea5b39"/><stop offset="0.62" stop-color="#e2502f"/><stop offset="0.8" stop-color="#cf4528"/><stop offset="0.93" stop-color="#b03821"/><stop offset="1" stop-color="#98301b"/></linearGradient>
<linearGradient id="t39" gradientUnits="userSpaceOnUse" x1="262.9" y1="95.4" x2="279.6" y2="80.9"><stop offset="0" stop-color="#98301b"/><stop offset="0.06" stop-color="#b83b22"/><stop offset="0.18" stop-color="#de4e2d"/><stop offset="0.42" stop-color="#ea5b39"/><stop offset="0.62" stop-color="#e2502f"/><stop offset="0.8" stop-color="#cf4528"/><stop offset="0.93" stop-color="#b03821"/><stop offset="1" stop-color="#98301b"/></linearGradient>
<linearGradient id="t40" gradientUnits="userSpaceOnUse" x1="290.8" y1="93.7" x2="306.6" y2="79.7"><stop offset="0" stop-color="#98301b"/><stop offset="0.06" stop-color="#b83b22"/><stop offset="0.18" stop-color="#de4e2d"/><stop offset="0.42" stop-color="#ea5b39"/><stop offset="0.62" stop-color="#e2502f"/><stop offset="0.8" stop-color="#cf4528"/><stop offset="0.93" stop-color="#b03821"/><stop offset="1" stop-color="#98301b"/></linearGradient>
<linearGradient id="t41" gradientUnits="userSpaceOnUse" x1="317.5" y1="92.0" x2="332.4" y2="78.4"><stop offset="0" stop-color="#98301b"/><stop offset="0.06" stop-color="#b83b22"/><stop offset="0.18" stop-color="#de4e2d"/><stop offset="0.42" stop-color="#ea5b39"/><stop offset="0.62" stop-color="#e2502f"/><stop offset="0.8" stop-color="#cf4528"/><stop offset="0.93" stop-color="#b03821"/><stop offset="1" stop-color="#98301b"/></linearGradient>
<linearGradient id="t42" gradientUnits="userSpaceOnUse" x1="343.2" y1="90.2" x2="357.2" y2="77.1"><stop offset="0" stop-color="#98301b"/><stop offset="0.06" stop-color="#b83b22"/><stop offset="0.18" stop-color="#de4e2d"/><stop offset="0.42" stop-color="#ea5b39"/><stop offset="0.62" stop-color="#e2502f"/><stop offset="0.8" stop-color="#cf4528"/><stop offset="0.93" stop-color="#b03821"/><stop offset="1" stop-color="#98301b"/></linearGradient>
<linearGradient id="t43" gradientUnits="userSpaceOnUse" x1="367.8" y1="88.5" x2="381.0" y2="75.9"><stop offset="0" stop-color="#98301b"/><stop offset="0.06" stop-color="#b83b22"/><stop offset="0.18" stop-color="#de4e2d"/><stop offset="0.42" stop-color="#ea5b39"/><stop offset="0.62" stop-color="#e2502f"/><stop offset="0.8" stop-color="#cf4528"/><stop offset="0.93" stop-color="#b03821"/><stop offset="1" stop-color="#98301b"/></linearGradient>
<linearGradient id="t44" gradientUnits="userSpaceOnUse" x1="391.5" y1="86.8" x2="403.9" y2="74.6"><stop offset="0" stop-color="#98301b"/><stop offset="0.06" stop-color="#b83b22"/><stop offset="0.18" stop-color="#de4e2d"/><stop offset="0.42" stop-color="#ea5b39"/><stop offset="0.62" stop-color="#e2502f"/><stop offset="0.8" stop-color="#cf4528"/><stop offset="0.93" stop-color="#b03821"/><stop offset="1" stop-color="#98301b"/></linearGradient>
<linearGradient id="t45" gradientUnits="userSpaceOnUse" x1="414.3" y1="85.1" x2="425.8" y2="73.3"><stop offset="0" stop-color="#98301b"/><stop offset="0.06" stop-color="#b83b22"/><stop offset="0.18" stop-color="#de4e2d"/><stop offset="0.42" stop-color="#ea5b39"/><stop offset="0.62" stop-color="#e2502f"/><stop offset="0.8" stop-color="#cf4528"/><stop offset="0.93" stop-color="#b03821"/><stop offset="1" stop-color="#98301b"/></linearGradient>
<linearGradient id="t46" gradientUnits="userSpaceOnUse" x1="226.6" y1="60.9" x2="233.2" y2="132.7"><stop offset="0" stop-color="#5a1208" stop-opacity="0.3"/><stop offset="0.2" stop-color="#5a1208" stop-opacity="0.22"/><stop offset="0.4" stop-color="#5a1208" stop-opacity="0.0"/><stop offset="0.7" stop-color="#ff9060" stop-opacity="0.0"/><stop offset="1" stop-color="#ffa070" stop-opacity="0.16"/></linearGradient>
<clipPath id="c0"><polygon points="30.5,23.8 32.4,23.8 34.2,23.8 36.1,23.8 37.9,23.8 39.8,23.8 41.6,23.8 43.4,24.0 45.3,24.7 47.1,25.4 48.9,26.1 50.7,26.2 52.6,25.5 54.4,24.7 56.2,23.9 58.0,23.1 59.8,22.3 61.6,21.6 63.3,21.1 65.1,20.7 66.9,20.6 68.7,20.6 70.5,20.8 72.2,21.3 74.0,21.8 75.7,22.5 77.5,23.3 79.2,24.1 81.0,25.0 82.7,25.7 84.5,26.4 86.2,25.9 87.9,25.2 89.6,24.4 91.4,23.6 93.1,22.8 94.8,22.1 96.5,21.4 98.2,21.0 99.9,20.7 101.6,20.6 103.3,20.7 105.0,21.0 106.6,21.5 108.3,22.2 110.0,22.9 111.7,23.7 113.3,24.5 115.0,25.3 116.7,26.0 118.3,26.3 120.0,25.6 121.6,24.9 123.3,24.1 124.9,23.3 126.5,22.5 128.2,21.8 129.8,21.3 131.4,20.9 133.0,20.7 134.7,20.7 136.3,20.9 137.9,21.3 139.5,21.8 141.1,22.5 142.7,23.3 144.3,24.1 145.9,24.9 147.5,25.6 149.0,26.3 150.6,26.0 152.2,25.3 153.8,24.6 155.3,23.7 156.9,23.0 158.5,22.2 160.0,21.6 161.6,21.1 163.1,20.8 164.7,20.7 166.2,20.8 167.8,21.1 169.3,21.5 170.8,22.1 172.4,22.8 173.9,23.6 175.4,24.4 176.9,25.2 178.4,25.9 180.0,26.4 181.5,25.8 183.0,25.0 184.5,24.2 186.0,23.4 187.5,22.7 189.0,22.0 190.4,21.4 191.9,21.0 193.4,20.8 194.9,20.8 196.4,20.9 197.8,21.3 199.3,21.8 200.8,22.4 202.2,23.2 203.7,24.0 205.2,24.8 206.6,25.5 208.1,26.2 209.5,26.2 211.0,25.5 212.4,24.7 213.8,23.9 215.3,23.1 216.7,22.4 218.1,21.8 219.5,21.3 221.0,20.9 222.4,20.8 223.8,20.8 225.2,21.1 226.6,21.5 228.0,22.1 229.4,22.8 230.8,23.5 232.2,24.3 233.6,25.1 235.0,25.8 236.4,26.5 237.8,25.9 239.2,25.2 240.6,24.4 241.9,23.6 243.3,22.8 244.7,22.1 246.0,21.6 247.4,21.1 248.8,20.9 250.1,20.8 251.5,21.0 252.8,21.3 254.2,21.8 255.5,22.4 256.9,23.1 258.2,23.9 259.6,24.7 260.9,25.4 262.2,26.1 263.6,26.3 264.9,25.6 266.2,24.8 267.5,24.1 268.9,23.3 270.2,22.6 271.5,21.9 272.8,21.4 274.1,21.0 275.4,20.9 276.7,20.9 278.0,21.1 279.3,21.5 280.6,22.1 281.9,22.7 283.2,23.5 284.5,24.2 285.8,25.0 287.0,25.7 288.3,26.4 289.6,26.0 290.9,25.3 292.1,24.5 293.4,23.7 294.7,23.0 295.9,22.3 297.2,21.7 298.4,21.3 299.7,21.0 301.0,20.9 302.2,21.0 303.4,21.3 304.7,21.8 305.9,22.3 307.2,23.0 308.4,23.8 309.6,24.6 310.9,25.3 312.1,26.0 313.3,26.4 314.6,25.7 315.8,25.0 317.0,24.2 318.2,23.4 319.4,22.7 320.6,22.1 321.9,21.5 323.1,21.2 324.3,21.0 325.5,20.9 326.7,21.1 327.9,21.5 329.1,22.0 330.3,22.7 331.5,23.4 332.6,24.2 333.8,24.9 335.0,25.6 336.2,26.3 337.4,26.1 338.5,25.4 339.7,24.7 340.9,23.9 342.1,23.1 343.2,22.4 344.4,21.8 345.6,21.4 346.7,21.1 347.9,21.0 349.0,21.0 350.2,21.3 351.3,21.7 352.5,22.3 353.6,23.0 354.8,23.7 355.9,24.5 357.1,25.2 358.2,25.9 359.3,26.4 360.5,25.8 361.6,25.1 362.7,24.4 363.9,23.6 365.0,22.9 366.1,22.2 367.2,21.7 368.3,21.3 369.5,21.0 370.6,21.0 371.7,21.2 372.8,21.5 373.9,22.0 375.0,22.6 421.0,67.1 419.9,66.6 418.8,66.2 417.7,65.9 416.6,65.8 415.5,65.9 414.4,66.3 413.3,66.7 412.2,67.4 411.1,68.1 410.0,68.9 408.9,69.8 407.8,70.7 406.7,71.5 405.6,72.2 404.5,71.8 403.3,71.1 402.2,70.5 401.1,69.8 400.0,69.1 398.8,68.5 397.7,67.9 396.6,67.6 395.4,67.4 394.3,67.4 393.2,67.6 392.0,68.0 390.9,68.6 389.7,69.3 388.6,70.1 387.4,70.9 386.3,71.8 385.1,72.7 384.0,73.5 382.8,73.8 381.6,73.2 380.5,72.5 379.3,71.8 378.1,71.1 377.0,70.4 375.8,69.8 374.6,69.3 373.4,69.0 372.3,68.9 371.1,69.0 369.9,69.2 368.7,69.7 367.5,70.4 366.3,71.1 365.1,72.0 363.9,72.9 362.7,73.8 361.5,74.7 360.3,75.5 359.1,75.2 357.9,74.5 356.7,73.8 355.5,73.0 354.3,72.3 353.0,71.6 351.8,71.0 350.6,70.6 349.4,70.4 348.1,70.3 346.9,70.5 345.7,70.9 344.4,71.4 343.2,72.2 341.9,73.0 340.7,73.9 339.5,74.9 338.2,75.8 337.0,76.6 335.7,77.2 334.4,76.5 333.2,75.8 331.9,75.0 330.6,74.2 329.4,73.5 328.1,72.8 326.8,72.2 325.6,71.9 324.3,71.7 323.0,71.7 321.7,72.0 320.4,72.5 319.1,73.1 317.8,73.9 316.5,74.8 315.2,75.8 313.9,76.8 312.6,77.7 311.3,78.5 310.0,78.5 308.7,77.7 307.4,76.9 306.1,76.1 304.8,75.3 303.4,74.5 302.1,73.9 300.8,73.4 299.5,73.1 298.1,73.0 296.8,73.1 295.4,73.5 294.1,74.0 292.8,74.8 291.4,75.7 290.1,76.6 288.7,77.6 287.3,78.6 286.0,79.5 284.6,80.3 283.3,79.6 281.9,78.8 280.5,78.0 279.1,77.1 277.8,76.3 276.4,75.5 275.0,74.9 273.6,74.5 272.2,74.2 270.8,74.2 269.4,74.5 268.0,74.9 266.6,75.6 265.2,76.4 263.8,77.3 262.4,78.3 261.0,79.4 259.6,80.4 258.2,81.3 256.7,81.4 255.3,80.6 253.9,79.8 252.4,78.9 251.0,78.0 249.6,77.1 248.1,76.4 246.7,75.8 245.2,75.5 243.8,75.3 242.3,75.4 240.9,75.7 239.4,76.3 237.9,77.0 236.5,77.9 235.0,79.0 233.5,80.0 232.0,81.0 230.6,82.0 229.1,82.9 227.6,82.4 226.1,81.5 224.6,80.6 223.1,79.7 221.6,78.7 220.1,77.9 218.6,77.2 217.1,76.7 215.5,76.3 214.0,76.3 212.5,76.5 211.0,76.9 209.4,77.6 207.9,78.4 206.4,79.4 204.8,80.5 203.3,81.5 201.7,82.6 200.2,83.6 198.6,84.0 197.1,83.1 195.5,82.2 194.0,81.2 192.4,80.2 190.8,79.3 189.2,78.5 187.7,77.8 186.1,77.4 184.5,77.1 182.9,77.2 181.3,77.5 179.7,78.0 178.1,78.8 176.5,79.7 174.9,80.8 173.3,81.9 171.7,83.0 170.0,84.0 168.4,85.0 166.8,84.6 165.2,83.7 163.5,82.7 161.9,81.7 160.2,80.7 158.6,79.7 156.9,78.9 155.3,78.3 153.6,77.9 152.0,77.8 150.3,77.9 148.6,78.3 146.9,79.0 145.3,79.9 143.6,80.9 141.9,82.0 140.2,83.1 138.5,84.2 136.8,85.3 135.1,86.0 133.4,85.1 131.7,84.1 130.0,83.0 128.2,81.9 126.5,80.9 124.8,79.9 123.1,79.2 121.3,78.6 119.6,78.3 117.8,78.3 116.1,78.5 114.3,79.1 112.6,79.8 110.8,80.8 109.0,81.9 107.3,83.0 105.5,84.2 103.7,85.3 101.9,86.3 100.1,86.2 98.3,85.3 96.5,84.3 94.7,83.4 92.9,83.1 91.1,83.1 89.3,83.1 87.5,83.1 85.7,83.1 83.8,83.2 82.0,83.2"/></clipPath>
<linearGradient id="t47" gradientUnits="userSpaceOnUse" x1="39.4" y1="56.8" x2="60.4" y2="38.9"><stop offset="0" stop-color="#98301b"/><stop offset="0.06" stop-color="#b83b22"/><stop offset="0.18" stop-color="#de4e2d"/><stop offset="0.42" stop-color="#ea5b39"/><stop offset="0.62" stop-color="#e2502f"/><stop offset="0.8" stop-color="#cf4528"/><stop offset="0.93" stop-color="#b03821"/><stop offset="1" stop-color="#98301b"/></linearGradient>
<linearGradient id="t48" gradientUnits="userSpaceOnUse" x1="75.6" y1="56.6" x2="95.7" y2="39.5"><stop offset="0" stop-color="#98301b"/><stop offset="0.06" stop-color="#b83b22"/><stop offset="0.18" stop-color="#de4e2d"/><stop offset="0.42" stop-color="#ea5b39"/><stop offset="0.62" stop-color="#e2502f"/><stop offset="0.8" stop-color="#cf4528"/><stop offset="0.93" stop-color="#b03821"/><stop offset="1" stop-color="#98301b"/></linearGradient>
<linearGradient id="t49" gradientUnits="userSpaceOnUse" x1="110.0" y1="56.3" x2="129.3" y2="39.9"><stop offset="0" stop-color="#98301b"/><stop offset="0.06" stop-color="#b83b22"/><stop offset="0.18" stop-color="#de4e2d"/><stop offset="0.42" stop-color="#ea5b39"/><stop offset="0.62" stop-color="#e2502f"/><stop offset="0.8" stop-color="#cf4528"/><stop offset="0.93" stop-color="#b03821"/><stop offset="1" stop-color="#98301b"/></linearGradient>
<linearGradient id="t50" gradientUnits="userSpaceOnUse" x1="142.9" y1="55.9" x2="161.3" y2="40.1"><stop offset="0" stop-color="#98301b"/><stop offset="0.06" stop-color="#b83b22"/><stop offset="0.18" stop-color="#de4e2d"/><stop offset="0.42" stop-color="#ea5b39"/><stop offset="0.62" stop-color="#e2502f"/><stop offset="0.8" stop-color="#cf4528"/><stop offset="0.93" stop-color="#b03821"/><stop offset="1" stop-color="#98301b"/></linearGradient>
<linearGradient id="t51" gradientUnits="userSpaceOnUse" x1="174.3" y1="55.3" x2="191.9" y2="40.3"><stop offset="0" stop-color="#98301b"/><stop offset="0.06" stop-color="#b83b22"/><stop offset="0.18" stop-color="#de4e2d"/><stop offset="0.42" stop-color="#ea5b39"/><stop offset="0.62" stop-color="#e2502f"/><stop offset="0.8" stop-color="#cf4528"/><stop offset="0.93" stop-color="#b03821"/><stop offset="1" stop-color="#98301b"/></linearGradient>
<linearGradient id="t52" gradientUnits="userSpaceOnUse" x1="204.3" y1="54.8" x2="221.0" y2="40.3"><stop offset="0" stop-color="#98301b"/><stop offset="0.06" stop-color="#b83b22"/><stop offset="0.18" stop-color="#de4e2d"/><stop offset="0.42" stop-color="#ea5b39"/><stop offset="0.62" stop-color="#e2502f"/><stop offset="0.8" stop-color="#cf4528"/><stop offset="0.93" stop-color="#b03821"/><stop offset="1" stop-color="#98301b"/></linearGradient>
<linearGradient id="t53" gradientUnits="userSpaceOnUse" x1="233.0" y1="54.1" x2="248.9" y2="40.2"><stop offset="0" stop-color="#98301b"/><stop offset="0.06" stop-color="#b83b22"/><stop offset="0.18" stop-color="#de4e2d"/><stop offset="0.42" stop-color="#ea5b39"/><stop offset="0.62" stop-color="#e2502f"/><stop offset="0.8" stop-color="#cf4528"/><stop offset="0.93" stop-color="#b03821"/><stop offset="1" stop-color="#98301b"/></linearGradient>
<linearGradient id="t54" gradientUnits="userSpaceOnUse" x1="260.6" y1="53.4" x2="275.6" y2="40.0"><stop offset="0" stop-color="#98301b"/><stop offset="0.06" stop-color="#b83b22"/><stop offset="0.18" stop-color="#de4e2d"/><stop offset="0.42" stop-color="#ea5b39"/><stop offset="0.62" stop-color="#e2502f"/><stop offset="0.8" stop-color="#cf4528"/><stop offset="0.93" stop-color="#b03821"/><stop offset="1" stop-color="#98301b"/></linearGradient>
<linearGradient id="t55" gradientUnits="userSpaceOnUse" x1="286.9" y1="52.7" x2="301.1" y2="39.7"><stop offset="0" stop-color="#98301b"/><stop offset="0.06" stop-color="#b83b22"/><stop offset="0.18" stop-color="#de4e2d"/><stop offset="0.42" stop-color="#ea5b39"/><stop offset="0.62" stop-color="#e2502f"/><stop offset="0.8" stop-color="#cf4528"/><stop offset="0.93" stop-color="#b03821"/><stop offset="1" stop-color="#98301b"/></linearGradient>
<linearGradient id="t56" gradientUnits="userSpaceOnUse" x1="312.2" y1="51.9" x2="325.6" y2="39.4"><stop offset="0" stop-color="#98301b"/><stop offset="0.06" stop-color="#b83b22"/><stop offset="0.18" stop-color="#de4e2d"/><stop offset="0.42" stop-color="#ea5b39"/><stop offset="0.62" stop-color="#e2502f"/><stop offset="0.8" stop-color="#cf4528"/><stop offset="0.93" stop-color="#b03821"/><stop offset="1" stop-color="#98301b"/></linearGradient>
<linearGradient id="t57" gradientUnits="userSpaceOnUse" x1="336.5" y1="51.1" x2="349.1" y2="39.0"><stop offset="0" stop-color="#98301b"/><stop offset="0.06" stop-color="#b83b22"/><stop offset="0.18" stop-color="#de4e2d"/><stop offset="0.42" stop-color="#ea5b39"/><stop offset="0.62" stop-color="#e2502f"/><stop offset="0.8" stop-color="#cf4528"/><stop offset="0.93" stop-color="#b03821"/><stop offset="1" stop-color="#98301b"/></linearGradient>
<linearGradient id="t58" gradientUnits="userSpaceOnUse" x1="359.9" y1="50.2" x2="371.8" y2="38.6"><stop offset="0" stop-color="#98301b"/><stop offset="0.06" stop-color="#b83b22"/><stop offset="0.18" stop-color="#de4e2d"/><stop offset="0.42" stop-color="#ea5b39"/><stop offset="0.62" stop-color="#e2502f"/><stop offset="0.8" stop-color="#cf4528"/><stop offset="0.93" stop-color="#b03821"/><stop offset="1" stop-color="#98301b"/></linearGradient>
<linearGradient id="t59" gradientUnits="userSpaceOnUse" x1="382.3" y1="49.4" x2="393.5" y2="38.1"><stop offset="0" stop-color="#98301b"/><stop offset="0.06" stop-color="#b83b22"/><stop offset="0.18" stop-color="#de4e2d"/><stop offset="0.42" stop-color="#ea5b39"/><stop offset="0.62" stop-color="#e2502f"/><stop offset="0.8" stop-color="#cf4528"/><stop offset="0.93" stop-color="#b03821"/><stop offset="1" stop-color="#98301b"/></linearGradient>
<linearGradient id="t60" gradientUnits="userSpaceOnUse" x1="202.8" y1="26.5" x2="205.3" y2="81.2"><stop offset="0" stop-color="#5a1208" stop-opacity="0.3"/><stop offset="0.2" stop-color="#5a1208" stop-opacity="0.22"/><stop offset="0.4" stop-color="#5a1208" stop-opacity="0.0"/><stop offset="0.7" stop-color="#ff9060" stop-opacity="0.0"/><stop offset="1" stop-color="#ffa070" stop-opacity="0.16"/></linearGradient>
<filter id="tx" filterUnits="userSpaceOnUse" x="0" y="0" width="1024" height="624"><feTurbulence type="fractalNoise" baseFrequency="0.45" numOctaves="2" seed="7" result="n"/><feColorMatrix in="n" type="matrix" values="0 0 0 0 0.50  0 0 0 0 0.38  0 0 0 0 0.18  1.0 0 0 0 -0.42" result="c"/><feGaussianBlur in="c" stdDeviation="0.7" result="cb"/><feComposite in="cb" in2="SourceGraphic" operator="in" result="m"/><feColorMatrix in="n" type="matrix" values="0 0 0 0 1  0 0 0 0 0.97  0 0 0 0 0.85  0 0.8 0 0 -0.36" result="l"/><feGaussianBlur in="l" stdDeviation="0.7" result="lb"/><feComposite in="lb" in2="SourceGraphic" operator="in" result="m2"/><feMerge><feMergeNode in="SourceGraphic"/><feMergeNode in="m"/><feMergeNode in="m2"/></feMerge></filter>
<filter id="b1" x="-5%" y="-5%" width="110%" height="110%"><feGaussianBlur stdDeviation="0.7"/></filter>
<filter id="b2" x="-10%" y="-10%" width="120%" height="120%"><feGaussianBlur stdDeviation="1.5"/></filter>
</defs>
<g id="base">
<polygon points="15.0,92.0 9.0,127.0 276.5,585.0 284.0,583.0 312.0,553.0 294.0,557.0 234.0,453.0 173.0,350.0" fill="#f4ca6c" />
<polygon points="12.0,110.0 10.0,122.0 277.0,580.0 283.0,572.0" fill="#f8d685" opacity="0.7" filter="url(#b2)"/>
<polygon points="294.0,557.0 312.0,553.0 284.0,583.0 276.5,585.0" fill="#d8ab48" />
<polygon points="234.0,453.0 294.0,557.0 437.0,497.5 430.0,498.0" fill="#dfe1ee" />
<polygon points="397.0,516.0 440.0,497.0 426.0,521.0 405.0,527.0" fill="#cfa95c" />
<polygon points="502.0,470.0 540.0,454.0 526.0,474.0 513.0,480.0" fill="#cfa95c" />
<polygon points="173.0,350.0 234.0,453.0 431.0,499.0 545.0,451.0 545.0,440.0 485.0,427.5 400.0,409.5 200.0,360.0" fill="#2b9a4f" />
<g clip-path="url(#cg)">
<circle cx="184.6" cy="470.5" r="1.7" fill="#bfe6c8" opacity="0.85"/>
<circle cx="200.5" cy="495.5" r="1.7" fill="#bfe6c8" opacity="0.85"/>
<circle cx="177.5" cy="412.0" r="1.7" fill="#bfe6c8" opacity="0.85"/>
<circle cx="193.4" cy="437.0" r="1.7" fill="#bfe6c8" opacity="0.85"/>
<circle cx="209.3" cy="462.0" r="1.7" fill="#bfe6c8" opacity="0.85"/>
<circle cx="225.2" cy="487.0" r="1.7" fill="#bfe6c8" opacity="0.85"/>
<circle cx="170.4" cy="353.5" r="1.7" fill="#bfe6c8" opacity="0.85"/>
<circle cx="186.3" cy="378.5" r="1.7" fill="#bfe6c8" opacity="0.85"/>
<circle cx="202.2" cy="403.5" r="1.7" fill="#bfe6c8" opacity="0.85"/>
<circle cx="218.1" cy="428.5" r="1.7" fill="#bfe6c8" opacity="0.85"/>
<circle cx="234.0" cy="453.5" r="1.7" fill="#bfe6c8" opacity="0.85"/>
<circle cx="249.9" cy="478.5" r="1.7" fill="#bfe6c8" opacity="0.85"/>
<circle cx="265.8" cy="503.5" r="1.7" fill="#bfe6c8" opacity="0.85"/>
<circle cx="211.0" cy="370.0" r="1.7" fill="#bfe6c8" opacity="0.85"/>
<circle cx="226.9" cy="395.0" r="1.7" fill="#bfe6c8" opacity="0.85"/>
<circle cx="242.8" cy="420.0" r="1.7" fill="#bfe6c8" opacity="0.85"/>
<circle cx="258.7" cy="445.0" r="1.7" fill="#bfe6c8" opacity="0.85"/>
<circle cx="274.6" cy="470.0" r="1.7" fill="#bfe6c8" opacity="0.85"/>
<circle cx="290.5" cy="495.0" r="1.7" fill="#bfe6c8" opacity="0.85"/>
<circle cx="235.7" cy="361.5" r="1.7" fill="#bfe6c8" opacity="0.85"/>
<circle cx="251.6" cy="386.5" r="1.7" fill="#bfe6c8" opacity="0.85"/>
<circle cx="267.5" cy="411.5" r="1.7" fill="#bfe6c8" opacity="0.85"/>
<circle cx="283.4" cy="436.5" r="1.7" fill="#bfe6c8" opacity="0.85"/>
<circle cx="299.3" cy="461.5" r="1.7" fill="#bfe6c8" opacity="0.85"/>
<circle cx="315.2" cy="486.5" r="1.7" fill="#bfe6c8" opacity="0.85"/>
<circle cx="260.4" cy="353.0" r="1.7" fill="#bfe6c8" opacity="0.85"/>
<circle cx="276.3" cy="378.0" r="1.7" fill="#bfe6c8" opacity="0.85"/>
<circle cx="292.2" cy="403.0" r="1.7" fill="#bfe6c8" opacity="0.85"/>
<circle cx="308.1" cy="428.0" r="1.7" fill="#bfe6c8" opacity="0.85"/>
<circle cx="324.0" cy="453.0" r="1.7" fill="#bfe6c8" opacity="0.85"/>
<circle cx="339.9" cy="478.0" r="1.7" fill="#bfe6c8" opacity="0.85"/>
<circle cx="355.8" cy="503.0" r="1.7" fill="#bfe6c8" opacity="0.85"/>
<circle cx="301.0" cy="369.5" r="1.7" fill="#bfe6c8" opacity="0.85"/>
<circle cx="316.9" cy="394.5" r="1.7" fill="#bfe6c8" opacity="0.85"/>
<circle cx="332.8" cy="419.5" r="1.7" fill="#bfe6c8" opacity="0.85"/>
<circle cx="348.7" cy="444.5" r="1.7" fill="#bfe6c8" opacity="0.85"/>
<circle cx="380.5" cy="494.5" r="1.7" fill="#bfe6c8" opacity="0.85"/>
<circle cx="325.7" cy="361.0" r="1.7" fill="#bfe6c8" opacity="0.85"/>
<circle cx="341.6" cy="386.0" r="1.7" fill="#bfe6c8" opacity="0.85"/>
<circle cx="357.5" cy="411.0" r="1.7" fill="#bfe6c8" opacity="0.85"/>
<circle cx="373.4" cy="436.0" r="1.7" fill="#bfe6c8" opacity="0.85"/>
<circle cx="405.2" cy="486.0" r="1.7" fill="#bfe6c8" opacity="0.85"/>
<circle cx="350.4" cy="352.5" r="1.7" fill="#bfe6c8" opacity="0.85"/>
<circle cx="366.3" cy="377.5" r="1.7" fill="#bfe6c8" opacity="0.85"/>
<circle cx="382.2" cy="402.5" r="1.7" fill="#bfe6c8" opacity="0.85"/>
<circle cx="398.1" cy="427.5" r="1.7" fill="#bfe6c8" opacity="0.85"/>
<circle cx="429.9" cy="477.5" r="1.7" fill="#bfe6c8" opacity="0.85"/>
<circle cx="445.8" cy="502.5" r="1.7" fill="#bfe6c8" opacity="0.85"/>
<circle cx="391.0" cy="369.0" r="1.7" fill="#bfe6c8" opacity="0.85"/>
<circle cx="406.9" cy="394.0" r="1.7" fill="#bfe6c8" opacity="0.85"/>
<circle cx="422.8" cy="419.0" r="1.7" fill="#bfe6c8" opacity="0.85"/>
<circle cx="454.6" cy="469.0" r="1.7" fill="#bfe6c8" opacity="0.85"/>
<circle cx="470.5" cy="494.0" r="1.7" fill="#bfe6c8" opacity="0.85"/>
<circle cx="415.7" cy="360.5" r="1.7" fill="#bfe6c8" opacity="0.85"/>
<circle cx="431.6" cy="385.5" r="1.7" fill="#bfe6c8" opacity="0.85"/>
<circle cx="447.5" cy="410.5" r="1.7" fill="#bfe6c8" opacity="0.85"/>
<circle cx="479.3" cy="460.5" r="1.7" fill="#bfe6c8" opacity="0.85"/>
<circle cx="495.2" cy="485.5" r="1.7" fill="#bfe6c8" opacity="0.85"/>
<circle cx="440.4" cy="352.0" r="1.7" fill="#bfe6c8" opacity="0.85"/>
<circle cx="456.3" cy="377.0" r="1.7" fill="#bfe6c8" opacity="0.85"/>
<circle cx="472.2" cy="402.0" r="1.7" fill="#bfe6c8" opacity="0.85"/>
<circle cx="488.1" cy="427.0" r="1.7" fill="#bfe6c8" opacity="0.85"/>
<circle cx="504.0" cy="452.0" r="1.7" fill="#bfe6c8" opacity="0.85"/>
<circle cx="519.9" cy="477.0" r="1.7" fill="#bfe6c8" opacity="0.85"/>
<circle cx="535.8" cy="502.0" r="1.7" fill="#bfe6c8" opacity="0.85"/>
<circle cx="481.0" cy="368.5" r="1.7" fill="#bfe6c8" opacity="0.85"/>
<circle cx="496.9" cy="393.5" r="1.7" fill="#bfe6c8" opacity="0.85"/>
<circle cx="512.8" cy="418.5" r="1.7" fill="#bfe6c8" opacity="0.85"/>
<circle cx="528.7" cy="443.5" r="1.7" fill="#bfe6c8" opacity="0.85"/>
<circle cx="544.6" cy="468.5" r="1.7" fill="#bfe6c8" opacity="0.85"/>
<circle cx="521.6" cy="385.0" r="1.7" fill="#bfe6c8" opacity="0.85"/>
<circle cx="537.5" cy="410.0" r="1.7" fill="#bfe6c8" opacity="0.85"/>
<circle cx="553.4" cy="435.0" r="1.7" fill="#bfe6c8" opacity="0.85"/>
<line x1="204.7" y1="358.7" x2="266" y2="460" stroke="#bfe6c8" stroke-width="1.1" stroke-dasharray="2.2 2.2" opacity="0.9"/>
<line x1="215.5" y1="384" x2="262.7" y2="462" stroke="#bfe6c8" stroke-width="0.9" opacity="0.55"/>
<line x1="212.7" y1="386" x2="258.7" y2="462" stroke="#bfe6c8" stroke-width="0.9" opacity="0.55"/>
<line x1="209.9" y1="388" x2="254.7" y2="462" stroke="#bfe6c8" stroke-width="0.9" opacity="0.55"/>
<line x1="208.4" y1="392" x2="250.7" y2="462" stroke="#bfe6c8" stroke-width="0.9" opacity="0.55"/>
<text transform="translate(352,481) rotate(-20.5) skewX(8)" font-family="'Liberation Sans', sans-serif" font-weight="700" font-size="15.5" fill="#e6f5ea" textLength="56" lengthAdjust="spacingAndGlyphs">STEICO</text>
<circle cx="370.3" cy="454.8" r="2" fill="#e6f5ea"/>
<text transform="translate(404.5,462.5) rotate(-22.5) skewX(8)" font-family="'Liberation Sans', sans-serif" font-size="12.5" fill="#c9ead2" textLength="73" lengthAdjust="spacingAndGlyphs">multi cover 5</text>
</g>
<g filter="url(#tx)">
<polygon points="26.0,43.0 15.0,92.0 173.0,350.0 187.0,317.0 150.0,255.0 150.0,243.0" fill="#f5e6bf" />
<polygon points="26.0,43.0 100.0,40.0 380.0,40.0 572.0,267.0 666.0,372.0 655.0,385.0 150.0,243.0" fill="#ecd7a6" />
<polygon points="150.0,243.0 655.0,384.0 650.0,393.0 150.0,255.0" fill="url(#gs)" />
<polygon points="150.0,255.0 650.0,393.0 648.0,396.0 560.0,420.0 187.0,317.0" fill="#e9d4a3" />
<polygon points="187.0,317.0 560.0,411.0 560.0,448.0 485.0,427.5 400.0,409.5 200.0,360.0 173.0,350.0" fill="url(#gf)" />
<polygon points="666.0,372.0 650.0,393.0 640.0,393.0 657.0,381.0" fill="#d9c08a" />
</g>
</g>
<g id="mid">
<line x1="15.5" y1="92" x2="174" y2="351" stroke="#45a577" stroke-width="2.4"/>
<polygon points="166.0,211.0 285.0,196.0 286.0,212.0 177.0,227.0" fill="#8f8a76" opacity="0.8" filter="url(#b1)"/>
<polygon points="341.0,248.0 447.0,230.0 462.0,250.0 385.0,256.0 354.0,264.0" fill="#8f8a76" opacity="0.8" filter="url(#b1)"/>
<polygon points="487.0,284.0 577.0,262.0 577.0,272.0 560.0,285.0 503.0,297.0" fill="#8f8a76" opacity="0.8" filter="url(#b1)"/>
<polygon points="172.0,231.0 181.0,236.0 166.0,242.0 158.0,241.0" fill="#8f8a76" opacity="0.6" filter="url(#b1)"/>
<polygon points="360.0,287.0 367.0,291.0 352.0,296.0 346.0,295.0" fill="#8f8a76" opacity="0.6" filter="url(#b1)"/>
<polygon points="524.0,337.0 531.0,341.0 518.0,346.0 513.0,345.0" fill="#8f8a76" opacity="0.6" filter="url(#b1)"/>
<polygon points="31.0,34.0 41.0,33.0 172.5,230.0 157.5,237.5" fill="#e6cd8f" />
<polygon points="31.0,34.0 29.5,37.0 156.0,240.5 157.5,237.5" fill="#cfb070" />
<polygon points="157.5,237.5 172.5,230.0 172.5,233.0 156.0,240.5" fill="#a88d52" />
<polygon points="270.0,181.0 285.0,179.0 360.0,286.0 346.0,292.0" fill="#e6cd8f" />
<polygon points="270.0,181.0 268.5,184.0 344.5,295.0 346.0,292.0" fill="#cfb070" />
<polygon points="346.0,292.0 360.0,286.0 360.0,289.0 344.5,295.0" fill="#a88d52" />
<polygon points="437.0,236.0 454.0,233.0 524.0,336.0 512.0,341.0" fill="#e6cd8f" />
<polygon points="437.0,236.0 435.5,239.0 510.5,344.0 512.0,341.0" fill="#cfb070" />
<polygon points="512.0,341.0 524.0,336.0 524.0,339.0 510.5,344.0" fill="#a88d52" />
<polygon points="552.0,247.0 563.0,244.0 651.0,355.0 640.0,355.0" fill="#e6cd8f" />
<polygon points="552.0,247.0 550.5,249.0 638.5,357.0 640.0,355.0" fill="#cfb070" />
<polygon points="640.0,355.0 651.0,355.0 651.0,355.0 638.5,357.0" fill="#a88d52" />
<ellipse cx="39" cy="44.5" rx="3.6" ry="2.2" fill="#7d7a4e" filter="url(#b1)"/>
<ellipse cx="72.5" cy="95.5" rx="3.6" ry="2.2" fill="#7d7a4e" filter="url(#b1)"/>
<ellipse cx="107" cy="150.5" rx="3.6" ry="2.2" fill="#7d7a4e" filter="url(#b1)"/>
<polygon points="150.0,202.0 288.0,185.0 288.0,192.0 150.0,208.0" fill="#6d4f2c" />
<polygon points="330.0,240.0 446.0,221.0 447.0,228.0 330.0,247.0" fill="#6d4f2c" />
<polygon points="490.0,274.0 586.0,247.0 586.0,253.0 492.0,280.0" fill="#6d4f2c" />
<polygon points="142.0,207.5 288.0,190.5 288.0,195.0 143.0,212.0" fill="#a8975e" />
<polygon points="316.0,245.0 446.0,225.5 447.0,230.0 317.0,249.5" fill="#a8975e" />
<polygon points="470.0,284.0 587.0,251.0 587.0,255.5 471.0,288.5" fill="#a8975e" />
</g>
<g id="tiles">
<g clip-path="url(#c4)">
<polygon points="444.0,225.0 458.2,197.9 458.6,198.1 459.0,198.4 459.5,198.5 459.9,198.7 460.3,198.9 460.7,199.1 461.1,199.1 461.6,198.8 462.0,198.5 462.4,198.2 462.8,197.9 463.2,197.5 463.6,197.2 464.1,196.8 464.5,196.5 464.9,196.1 465.3,195.7 465.7,195.4 466.2,195.0 466.6,194.6 467.0,194.3 467.4,193.9 467.8,193.6 468.2,193.3 468.6,193.0 469.1,192.7 469.5,192.4 469.9,192.2 470.3,191.9 470.7,191.7 471.1,191.5 471.5,191.4 472.0,191.2 472.4,191.1 472.8,191.0 473.2,190.9 473.6,190.9 474.0,190.8 474.4,190.8 474.8,190.9 475.2,190.9 475.6,191.0 476.1,191.1 476.5,191.2 476.9,191.3 477.3,191.5 477.7,191.6 478.1,191.8 478.5,192.0 478.9,192.2 479.3,192.4 479.7,192.6 480.1,192.8 480.5,193.0 481.0,193.3 481.4,193.5 481.8,193.7 482.2,193.9 482.6,194.1 483.0,194.3 483.4,194.5 483.8,194.7 484.2,194.8 484.6,195.0 485.0,194.8 485.4,194.5 485.8,194.2 486.2,193.9 486.6,193.5 487.0,193.2 487.4,192.8 487.8,192.5 488.2,192.1 488.6,191.8 489.0,191.4 489.4,191.1 489.8,190.7 490.2,190.4 490.6,190.0 491.0,189.7 491.4,189.4 491.8,189.1 492.2,188.8 492.6,188.5 493.0,188.2 493.4,188.0 493.8,187.8 494.2,187.6 494.6,187.4 495.0,187.2 495.4,187.1 495.8,187.0 496.2,186.9 496.6,186.9 497.0,186.8 497.4,186.8 497.8,186.9 498.2,186.9 498.6,187.0 498.9,187.0 499.3,187.1 499.7,187.3 500.1,187.4 500.5,187.6 500.9,187.7 501.3,187.9 501.7,188.1 502.1,188.3 502.5,188.5 502.9,188.7 503.3,189.0 503.7,189.2 504.0,189.4 504.4,189.6 504.8,189.8 505.2,190.0 505.6,190.2 506.0,190.4 506.4,190.6 506.8,190.8 507.2,190.9 507.5,190.9 507.9,190.6 508.3,190.3 508.7,190.0 509.1,189.7 509.5,189.4 509.9,189.0 510.3,188.7 510.6,188.3 511.0,188.0 511.4,187.6 511.8,187.3 512.2,186.9 512.6,186.6 513.0,186.2 513.3,185.9 513.7,185.6 514.1,185.3 514.5,185.0 514.9,184.7 515.3,184.4 515.6,184.2 516.0,184.0 516.4,183.8 516.8,183.6 517.2,183.4 517.6,183.3 517.9,183.2 518.3,183.1 518.7,183.0 519.1,183.0 519.5,183.0 519.8,183.0 520.2,183.0 520.6,183.1 521.0,183.2 521.4,183.3 521.7,183.4 522.1,183.5 522.5,183.7 522.9,183.8 523.2,184.0 589.5,253.0 589.1,253.2 588.8,253.5 588.4,253.7 588.0,253.9 587.7,254.1 587.3,254.3 587.0,254.5 586.6,254.6 586.2,254.8 585.9,254.9 585.5,255.1 585.1,255.2 584.8,255.3 584.4,255.4 584.0,255.4 583.7,255.5 583.3,255.5 582.9,255.6 582.6,255.6 582.2,255.6 581.8,255.6 581.5,255.6 581.1,255.6 580.7,255.5 580.4,255.5 580.0,255.4 579.6,255.4 579.2,255.3 578.9,255.3 578.5,255.2 578.1,255.1 577.8,255.1 577.4,255.0 577.0,254.9 576.7,254.9 576.3,254.8 575.9,254.8 575.5,254.7 575.2,254.7 574.8,254.6 574.4,254.6 574.1,254.8 573.7,255.0 573.3,255.2 572.9,255.5 572.6,255.7 572.2,256.0 571.8,256.2 571.4,256.5 571.1,256.8 570.7,257.0 570.3,257.3 569.9,257.6 569.6,257.8 569.2,258.1 568.8,258.4 568.4,258.6 568.1,258.9 567.7,259.1 567.3,259.3 566.9,259.5 566.5,259.8 566.2,260.0 565.8,260.1 565.4,260.3 565.0,260.5 564.6,260.6 564.3,260.8 563.9,260.9 563.5,261.0 563.1,261.1 562.7,261.2 562.4,261.3 562.0,261.3 561.6,261.4 561.2,261.4 560.8,261.4 560.5,261.4 560.1,261.4 559.7,261.4 559.3,261.4 558.9,261.3 558.5,261.3 558.2,261.2 557.8,261.2 557.4,261.1 557.0,261.1 556.6,261.0 556.2,260.9 555.9,260.9 555.5,260.8 555.1,260.8 554.7,260.7 554.3,260.7 553.9,260.6 553.5,260.6 553.2,260.5 552.8,260.5 552.4,260.5 552.0,260.8 551.6,261.0 551.2,261.3 550.8,261.5 550.4,261.8 550.1,262.0 549.7,262.3 549.3,262.6 548.9,262.9 548.5,263.1 548.1,263.4 547.7,263.7 547.3,263.9 546.9,264.2 546.5,264.4 546.1,264.7 545.8,264.9 545.4,265.2 545.0,265.4 544.6,265.6 544.2,265.8 543.8,266.0 543.4,266.2 543.0,266.4 542.6,266.6 542.2,266.7 541.8,266.9 541.4,267.0 541.0,267.1 540.6,267.2 540.2,267.2 539.8,267.3 539.4,267.4 539.1,267.4 538.7,267.4 538.3,267.4 537.9,267.4 537.5,267.4 537.1,267.4 536.7,267.4 536.3,267.4 535.9,267.3 535.5,267.3 535.1,267.2 534.7,267.2 534.3,267.1 533.9,267.1 533.5,267.0 533.1,266.9 532.7,266.9 532.3,266.8 531.9,266.8 531.5,266.7 531.1,266.7 530.7,266.7 530.3,266.6 529.9,266.6 529.5,266.8 529.1,267.1 528.6,267.3 528.2,267.6 527.8,267.8 527.4,268.1 527.0,268.4 526.6,268.6 526.2,268.9 525.8,269.2 525.4,269.4 525.0,269.7 524.6,270.0 524.2,270.3 523.8,270.5 523.4,270.8 523.0,271.0 522.6,271.3 522.2,271.5 521.7,271.8 521.3,272.0 520.9,272.2 520.5,272.4 520.1,272.6 519.7,272.7 519.3,272.9 518.9,273.0 518.5,273.2 518.1,273.3 517.6,273.4 517.2,273.5 516.8,273.5 516.4,273.6 516.0,273.7 515.6,273.7 515.2,273.7 514.8,273.7 514.3,273.7 513.9,273.7 513.5,273.7 513.1,273.7 512.7,273.6 512.3,273.6 511.9,273.6 511.4,273.5 511.0,273.5 510.6,273.4 510.2,273.3 509.8,273.3 509.4,273.2 508.9,273.2 508.5,273.1 508.1,273.1 507.7,273.1 507.3,273.0 506.8,273.0 506.4,273.0 506.0,273.1 505.6,273.3 505.2,273.6 504.7,273.8 504.3,274.1 503.9,274.4 503.5,274.6 503.1,274.9 502.6,275.2 502.2,275.5 501.8,275.7 501.4,276.0 501.0,276.3 500.5,276.6 500.1,276.9 499.7,277.1 499.3,277.4 498.8,277.6 498.4,277.9 498.0,278.1 497.6,278.3 497.1,278.6 496.7,278.8 496.3,279.0 495.9,279.1 495.4,279.3 495.0,279.5" fill="#d8462a"/>
<polygon points="366.3,193.9 393.2,189.7 499.3,299.4 473.9,306.9" fill="url(#t1)"/>
<polygon points="393.2,189.7 419.1,185.8 523.6,292.2 499.3,299.4" fill="url(#t2)"/>
<polygon points="419.1,185.8 443.9,182.0 547.0,285.3 523.6,292.2" fill="url(#t3)"/>
<polygon points="443.9,182.0 467.7,178.3 569.4,278.7 547.0,285.3" fill="url(#t4)"/>
<polygon points="467.7,178.3 490.7,174.8 591.0,272.4 569.4,278.7" fill="url(#t5)"/>
<polygon points="490.7,174.8 512.8,171.4 611.8,266.2 591.0,272.4" fill="url(#t6)"/>
<polygon points="444.0,225.0 458.2,197.9 458.6,198.1 459.0,198.4 459.5,198.5 459.9,198.7 460.3,198.9 460.7,199.1 461.1,199.1 461.6,198.8 462.0,198.5 462.4,198.2 462.8,197.9 463.2,197.5 463.6,197.2 464.1,196.8 464.5,196.5 464.9,196.1 465.3,195.7 465.7,195.4 466.2,195.0 466.6,194.6 467.0,194.3 467.4,193.9 467.8,193.6 468.2,193.3 468.6,193.0 469.1,192.7 469.5,192.4 469.9,192.2 470.3,191.9 470.7,191.7 471.1,191.5 471.5,191.4 472.0,191.2 472.4,191.1 472.8,191.0 473.2,190.9 473.6,190.9 474.0,190.8 474.4,190.8 474.8,190.9 475.2,190.9 475.6,191.0 476.1,191.1 476.5,191.2 476.9,191.3 477.3,191.5 477.7,191.6 478.1,191.8 478.5,192.0 478.9,192.2 479.3,192.4 479.7,192.6 480.1,192.8 480.5,193.0 481.0,193.3 481.4,193.5 481.8,193.7 482.2,193.9 482.6,194.1 483.0,194.3 483.4,194.5 483.8,194.7 484.2,194.8 484.6,195.0 485.0,194.8 485.4,194.5 485.8,194.2 486.2,193.9 486.6,193.5 487.0,193.2 487.4,192.8 487.8,192.5 488.2,192.1 488.6,191.8 489.0,191.4 489.4,191.1 489.8,190.7 490.2,190.4 490.6,190.0 491.0,189.7 491.4,189.4 491.8,189.1 492.2,188.8 492.6,188.5 493.0,188.2 493.4,188.0 493.8,187.8 494.2,187.6 494.6,187.4 495.0,187.2 495.4,187.1 495.8,187.0 496.2,186.9 496.6,186.9 497.0,186.8 497.4,186.8 497.8,186.9 498.2,186.9 498.6,187.0 498.9,187.0 499.3,187.1 499.7,187.3 500.1,187.4 500.5,187.6 500.9,187.7 501.3,187.9 501.7,188.1 502.1,188.3 502.5,188.5 502.9,188.7 503.3,189.0 503.7,189.2 504.0,189.4 504.4,189.6 504.8,189.8 505.2,190.0 505.6,190.2 506.0,190.4 506.4,190.6 506.8,190.8 507.2,190.9 507.5,190.9 507.9,190.6 508.3,190.3 508.7,190.0 509.1,189.7 509.5,189.4 509.9,189.0 510.3,188.7 510.6,188.3 511.0,188.0 511.4,187.6 511.8,187.3 512.2,186.9 512.6,186.6 513.0,186.2 513.3,185.9 513.7,185.6 514.1,185.3 514.5,185.0 514.9,184.7 515.3,184.4 515.6,184.2 516.0,184.0 516.4,183.8 516.8,183.6 517.2,183.4 517.6,183.3 517.9,183.2 518.3,183.1 518.7,183.0 519.1,183.0 519.5,183.0 519.8,183.0 520.2,183.0 520.6,183.1 521.0,183.2 521.4,183.3 521.7,183.4 522.1,183.5 522.5,183.7 522.9,183.8 523.2,184.0 589.5,253.0 589.1,253.2 588.8,253.5 588.4,253.7 588.0,253.9 587.7,254.1 587.3,254.3 587.0,254.5 586.6,254.6 586.2,254.8 585.9,254.9 585.5,255.1 585.1,255.2 584.8,255.3 584.4,255.4 584.0,255.4 583.7,255.5 583.3,255.5 582.9,255.6 582.6,255.6 582.2,255.6 581.8,255.6 581.5,255.6 581.1,255.6 580.7,255.5 580.4,255.5 580.0,255.4 579.6,255.4 579.2,255.3 578.9,255.3 578.5,255.2 578.1,255.1 577.8,255.1 577.4,255.0 577.0,254.9 576.7,254.9 576.3,254.8 575.9,254.8 575.5,254.7 575.2,254.7 574.8,254.6 574.4,254.6 574.1,254.8 573.7,255.0 573.3,255.2 572.9,255.5 572.6,255.7 572.2,256.0 571.8,256.2 571.4,256.5 571.1,256.8 570.7,257.0 570.3,257.3 569.9,257.6 569.6,257.8 569.2,258.1 568.8,258.4 568.4,258.6 568.1,258.9 567.7,259.1 567.3,259.3 566.9,259.5 566.5,259.8 566.2,260.0 565.8,260.1 565.4,260.3 565.0,260.5 564.6,260.6 564.3,260.8 563.9,260.9 563.5,261.0 563.1,261.1 562.7,261.2 562.4,261.3 562.0,261.3 561.6,261.4 561.2,261.4 560.8,261.4 560.5,261.4 560.1,261.4 559.7,261.4 559.3,261.4 558.9,261.3 558.5,261.3 558.2,261.2 557.8,261.2 557.4,261.1 557.0,261.1 556.6,261.0 556.2,260.9 555.9,260.9 555.5,260.8 555.1,260.8 554.7,260.7 554.3,260.7 553.9,260.6 553.5,260.6 553.2,260.5 552.8,260.5 552.4,260.5 552.0,260.8 551.6,261.0 551.2,261.3 550.8,261.5 550.4,261.8 550.1,262.0 549.7,262.3 549.3,262.6 548.9,262.9 548.5,263.1 548.1,263.4 547.7,263.7 547.3,263.9 546.9,264.2 546.5,264.4 546.1,264.7 545.8,264.9 545.4,265.2 545.0,265.4 544.6,265.6 544.2,265.8 543.8,266.0 543.4,266.2 543.0,266.4 542.6,266.6 542.2,266.7 541.8,266.9 541.4,267.0 541.0,267.1 540.6,267.2 540.2,267.2 539.8,267.3 539.4,267.4 539.1,267.4 538.7,267.4 538.3,267.4 537.9,267.4 537.5,267.4 537.1,267.4 536.7,267.4 536.3,267.4 535.9,267.3 535.5,267.3 535.1,267.2 534.7,267.2 534.3,267.1 533.9,267.1 533.5,267.0 533.1,266.9 532.7,266.9 532.3,266.8 531.9,266.8 531.5,266.7 531.1,266.7 530.7,266.7 530.3,266.6 529.9,266.6 529.5,266.8 529.1,267.1 528.6,267.3 528.2,267.6 527.8,267.8 527.4,268.1 527.0,268.4 526.6,268.6 526.2,268.9 525.8,269.2 525.4,269.4 525.0,269.7 524.6,270.0 524.2,270.3 523.8,270.5 523.4,270.8 523.0,271.0 522.6,271.3 522.2,271.5 521.7,271.8 521.3,272.0 520.9,272.2 520.5,272.4 520.1,272.6 519.7,272.7 519.3,272.9 518.9,273.0 518.5,273.2 518.1,273.3 517.6,273.4 517.2,273.5 516.8,273.5 516.4,273.6 516.0,273.7 515.6,273.7 515.2,273.7 514.8,273.7 514.3,273.7 513.9,273.7 513.5,273.7 513.1,273.7 512.7,273.6 512.3,273.6 511.9,273.6 511.4,273.5 511.0,273.5 510.6,273.4 510.2,273.3 509.8,273.3 509.4,273.2 508.9,273.2 508.5,273.1 508.1,273.1 507.7,273.1 507.3,273.0 506.8,273.0 506.4,273.0 506.0,273.1 505.6,273.3 505.2,273.6 504.7,273.8 504.3,274.1 503.9,274.4 503.5,274.6 503.1,274.9 502.6,275.2 502.2,275.5 501.8,275.7 501.4,276.0 501.0,276.3 500.5,276.6 500.1,276.9 499.7,277.1 499.3,277.4 498.8,277.6 498.4,277.9 498.0,278.1 497.6,278.3 497.1,278.6 496.7,278.8 496.3,279.0 495.9,279.1 495.4,279.3 495.0,279.5" fill="url(#t7)"/>
<polygon points="428.7,209.7 439.7,208.7 521.3,290.3 510.3,291.3" fill="#b5361f" opacity="0.85"/>
</g>
<polyline points="495.0,279.5 495.4,279.3 495.9,279.1 496.3,279.0 496.7,278.8 497.1,278.6 497.6,278.3 498.0,278.1 498.4,277.9 498.8,277.6 499.3,277.4 499.7,277.1 500.1,276.9 500.5,276.6 501.0,276.3 501.4,276.0 501.8,275.7 502.2,275.5 502.6,275.2 503.1,274.9 503.5,274.6 503.9,274.4 504.3,274.1 504.7,273.8 505.2,273.6 505.6,273.3 506.0,273.1 506.4,273.0 506.8,273.0 507.3,273.0 507.7,273.1 508.1,273.1 508.5,273.1 508.9,273.2 509.4,273.2 509.8,273.3 510.2,273.3 510.6,273.4 511.0,273.5 511.4,273.5 511.9,273.6 512.3,273.6 512.7,273.6 513.1,273.7 513.5,273.7 513.9,273.7 514.3,273.7 514.8,273.7 515.2,273.7 515.6,273.7 516.0,273.7 516.4,273.6 516.8,273.5 517.2,273.5 517.6,273.4 518.1,273.3 518.5,273.2 518.9,273.0 519.3,272.9 519.7,272.7 520.1,272.6 520.5,272.4 520.9,272.2 521.3,272.0 521.7,271.8 522.2,271.5 522.6,271.3 523.0,271.0 523.4,270.8 523.8,270.5 524.2,270.3 524.6,270.0 525.0,269.7 525.4,269.4 525.8,269.2 526.2,268.9 526.6,268.6 527.0,268.4 527.4,268.1 527.8,267.8 528.2,267.6 528.6,267.3 529.1,267.1 529.5,266.8 529.9,266.6 530.3,266.6 530.7,266.7 531.1,266.7 531.5,266.7 531.9,266.8 532.3,266.8 532.7,266.9 533.1,266.9 533.5,267.0 533.9,267.1 534.3,267.1 534.7,267.2 535.1,267.2 535.5,267.3 535.9,267.3 536.3,267.4 536.7,267.4 537.1,267.4 537.5,267.4 537.9,267.4 538.3,267.4 538.7,267.4 539.1,267.4 539.4,267.4 539.8,267.3 540.2,267.2 540.6,267.2 541.0,267.1 541.4,267.0 541.8,266.9 542.2,266.7 542.6,266.6 543.0,266.4 543.4,266.2 543.8,266.0 544.2,265.8 544.6,265.6 545.0,265.4 545.4,265.2 545.8,264.9 546.1,264.7 546.5,264.4 546.9,264.2 547.3,263.9 547.7,263.7 548.1,263.4 548.5,263.1 548.9,262.9 549.3,262.6 549.7,262.3 550.1,262.0 550.4,261.8 550.8,261.5 551.2,261.3 551.6,261.0 552.0,260.8 552.4,260.5 552.8,260.5 553.2,260.5 553.5,260.6 553.9,260.6 554.3,260.7 554.7,260.7 555.1,260.8 555.5,260.8 555.9,260.9 556.2,260.9 556.6,261.0 557.0,261.1 557.4,261.1 557.8,261.2 558.2,261.2 558.5,261.3 558.9,261.3 559.3,261.4 559.7,261.4 560.1,261.4 560.5,261.4 560.8,261.4 561.2,261.4 561.6,261.4 562.0,261.3 562.4,261.3 562.7,261.2 563.1,261.1 563.5,261.0 563.9,260.9 564.3,260.8 564.6,260.6 565.0,260.5 565.4,260.3 565.8,260.1 566.2,260.0 566.5,259.8 566.9,259.5 567.3,259.3 567.7,259.1 568.1,258.9 568.4,258.6 568.8,258.4 569.2,258.1 569.6,257.8 569.9,257.6 570.3,257.3 570.7,257.0 571.1,256.8 571.4,256.5 571.8,256.2 572.2,256.0 572.6,255.7 572.9,255.5 573.3,255.2 573.7,255.0 574.1,254.8 574.4,254.6 574.8,254.6 575.2,254.7 575.5,254.7 575.9,254.8 576.3,254.8 576.7,254.9 577.0,254.9 577.4,255.0 577.8,255.1 578.1,255.1 578.5,255.2 578.9,255.3 579.2,255.3 579.6,255.4 580.0,255.4 580.4,255.5 580.7,255.5 581.1,255.6 581.5,255.6 581.8,255.6 582.2,255.6 582.6,255.6 582.9,255.6 583.3,255.5 583.7,255.5 584.0,255.4 584.4,255.4 584.8,255.3 585.1,255.2 585.5,255.1 585.9,254.9 586.2,254.8 586.6,254.6 587.0,254.5 587.3,254.3 587.7,254.1 588.0,253.9 588.4,253.7 588.8,253.5 589.1,253.2 589.5,253.0" fill="none" stroke="#6e2214" stroke-width="2.6" stroke-opacity="0.8" filter="url(#b1)"/>
<g clip-path="url(#c3)">
<polygon points="287.5,189.0 302.0,156.0 302.9,156.4 303.9,156.8 304.9,157.2 305.9,157.7 306.9,158.2 307.9,158.7 308.9,159.1 309.8,159.6 310.8,160.0 311.8,160.2 312.8,159.6 313.7,159.0 314.7,158.3 315.7,157.6 316.7,156.9 317.6,156.2 318.6,155.5 319.6,154.8 320.5,154.2 321.5,153.7 322.5,153.2 323.4,152.8 324.4,152.5 325.3,152.3 326.3,152.2 327.3,152.2 328.2,152.2 329.2,152.4 330.1,152.7 331.1,153.0 332.0,153.4 333.0,153.8 333.9,154.3 334.8,154.8 335.8,155.3 336.7,155.7 337.7,156.2 338.6,156.6 339.5,157.0 340.5,156.6 341.4,155.9 342.4,155.3 343.3,154.6 344.2,153.9 345.1,153.2 346.1,152.5 347.0,151.9 347.9,151.3 348.9,150.7 349.8,150.2 350.7,149.8 351.6,149.4 352.5,149.2 353.5,149.1 354.4,149.0 355.3,149.1 356.2,149.2 357.1,149.5 358.0,149.8 358.9,150.2 359.8,150.6 360.7,151.0 361.7,151.5 362.6,152.0 363.5,152.5 364.4,152.9 365.3,153.3 366.2,153.7 367.1,153.6 368.0,153.0 368.9,152.4 369.8,151.8 370.6,151.1 371.5,150.4 372.4,149.7 373.3,149.0 374.2,148.4 375.1,147.9 376.0,147.3 376.9,146.9 377.7,146.6 378.6,146.3 379.5,146.1 380.4,146.1 381.3,146.1 382.1,146.2 383.0,146.4 383.9,146.7 384.8,147.0 385.6,147.4 386.5,147.9 387.4,148.4 388.3,148.8 389.1,149.3 390.0,149.8 390.9,150.2 391.7,150.6 392.6,150.8 393.4,150.3 394.3,149.7 395.2,149.0 396.0,148.4 396.9,147.7 397.7,147.0 398.6,146.3 399.4,145.7 400.3,145.1 401.1,144.6 402.0,144.2 402.8,143.8 403.7,143.5 404.5,143.3 405.4,143.2 406.2,143.2 407.1,143.3 407.9,143.5 408.8,143.7 409.6,144.1 410.4,144.4 411.3,144.9 412.1,145.3 412.9,145.8 413.8,146.3 414.6,146.7 415.4,147.2 416.3,147.6 417.1,148.0 417.9,147.6 418.8,147.0 419.6,146.4 420.4,145.7 421.2,145.1 422.1,144.4 422.9,143.8 423.7,143.1 424.5,142.5 425.3,142.0 426.1,141.5 427.0,141.1 427.8,140.8 428.6,140.6 429.4,140.5 430.2,140.4 431.0,140.5 431.8,140.7 432.6,140.9 433.5,141.2 434.3,141.6 435.1,142.0 435.9,142.4 436.7,142.9 437.5,143.4 438.3,143.8 439.1,144.3 439.9,144.7 440.7,145.1 441.5,145.0 442.3,144.5 443.1,143.9 443.9,143.2 444.6,142.6 445.4,141.9 446.2,141.3 447.0,140.6 447.8,140.0 448.6,139.5 449.4,139.0 450.2,138.6 450.9,138.3 451.7,138.0 452.5,137.9 453.3,137.8 454.1,137.8 454.9,138.0 455.6,138.2 456.4,138.4 457.2,138.8 458.0,139.2 458.7,139.6 459.5,140.1 460.3,140.5 461.0,141.0 461.8,141.5 462.6,141.9 463.4,142.3 464.1,142.5 464.9,142.0 465.7,141.4 466.4,140.8 467.2,140.2 467.9,139.5 468.7,138.9 469.5,138.3 470.2,137.7 471.0,137.1 471.7,136.6 472.5,136.2 473.2,135.8 474.0,135.5 474.8,135.4 475.5,135.3 476.3,135.3 477.0,135.4 477.8,135.5 478.5,135.8 479.3,136.1 480.0,136.5 542.5,197.4 541.8,197.1 541.1,196.8 540.4,196.6 539.6,196.4 538.9,196.4 538.2,196.5 537.5,196.6 536.8,196.9 536.0,197.2 535.3,197.7 534.6,198.2 533.9,198.9 533.1,199.5 532.4,200.3 531.7,201.0 531.0,201.8 530.2,202.6 529.5,203.3 528.8,204.1 528.0,204.8 527.3,205.4 526.6,205.2 525.8,204.9 525.1,204.5 524.4,204.0 523.6,203.6 522.9,203.1 522.1,202.7 521.4,202.3 520.7,201.9 519.9,201.6 519.2,201.3 518.4,201.2 517.7,201.1 516.9,201.1 516.2,201.3 515.4,201.5 514.7,201.8 513.9,202.3 513.2,202.8 512.4,203.4 511.7,204.1 510.9,204.8 510.2,205.6 509.4,206.4 508.7,207.2 507.9,208.0 507.1,208.8 506.4,209.5 505.6,210.2 504.9,210.3 504.1,210.0 503.3,209.6 502.6,209.1 501.8,208.7 501.0,208.2 500.3,207.7 499.5,207.3 498.7,206.9 498.0,206.5 497.2,206.2 496.4,206.0 495.6,205.9 494.9,205.9 494.1,206.0 493.3,206.2 492.5,206.5 491.7,207.0 491.0,207.5 490.2,208.1 489.4,208.8 488.6,209.5 487.8,210.3 487.0,211.1 486.3,211.9 485.5,212.7 484.7,213.6 483.9,214.3 483.1,215.1 482.3,215.6 481.5,215.2 480.7,214.8 479.9,214.4 479.1,213.9 478.3,213.4 477.5,212.9 476.7,212.4 475.9,212.0 475.1,211.6 474.3,211.3 473.5,211.1 472.7,210.9 471.9,210.9 471.1,210.9 470.3,211.1 469.5,211.4 468.7,211.8 467.9,212.3 467.0,212.9 466.2,213.5 465.4,214.3 464.6,215.1 463.8,215.9 463.0,216.8 462.1,217.6 461.3,218.5 460.5,219.3 459.7,220.0 458.8,220.8 458.0,220.6 457.2,220.2 456.4,219.7 455.5,219.2 454.7,218.7 453.9,218.2 453.0,217.7 452.2,217.3 451.4,216.8 450.5,216.5 449.7,216.2 448.9,216.0 448.0,215.9 447.2,215.9 446.3,216.1 445.5,225.7 444.6,225.8 443.8,225.9 443.0,225.9 442.1,225.8 441.3,225.7 440.4,225.6 439.6,225.5 438.7,225.4 437.8,225.2 437.0,225.1 436.1,225.0 435.3,224.9 434.4,224.8 433.6,225.0 432.7,225.4 431.8,225.9 431.0,226.4 430.1,226.9 429.2,227.4 428.4,227.9 427.5,228.4 426.6,228.9 425.8,229.4 424.9,229.8 424.0,230.1 423.1,230.5 422.3,230.7 421.4,231.0 420.5,231.1 419.6,231.3 418.8,231.3 417.9,231.3 417.0,231.3 416.1,231.2 415.2,231.2 414.3,231.0 413.4,230.9 412.6,230.8 411.7,230.6 410.8,230.5 409.9,230.4 409.0,230.3 408.1,230.3 407.2,230.8 406.3,231.3 405.4,231.8 404.5,232.3 403.6,232.8 402.7,233.3 401.8,233.8 400.9,234.3 400.0,234.8 399.1,235.2 398.1,235.6 397.2,235.9 396.3,236.2 395.4,236.5 394.5,236.7 393.6,236.8 392.7,236.9 391.7,236.9 390.8,236.9 389.9,236.9 389.0,236.8 388.0,236.7 387.1,236.6 386.2,236.4 385.3,236.3 384.3,236.2 383.4,236.1 382.5,236.0 381.5,235.9 380.6,236.3 379.7,236.8 378.7,237.3 377.8,237.8 376.8,238.3 375.9,238.8 374.9,239.3 374.0,239.8 373.1,240.3 372.1,240.7 371.2,241.2 370.2,241.5 369.3,241.8 368.3,242.1 367.3,242.3 366.4,242.5 365.4,242.6 364.5,242.7 363.5,242.7 362.5,242.6 361.6,242.6 360.6,242.5 359.6,242.4 358.7,242.2 357.7,242.1 356.7,242.0 355.8,241.9 354.8,241.8 353.8,241.7 352.8,241.9 351.9,242.4 350.9,242.9 349.9,243.4 348.9,243.9 347.9,244.4 346.9,245.0 346.0,245.5 345.0,246.0 344.0,246.4 343.0,246.9 342.0,247.2 341.0,247.6 340.0,247.9" fill="#d8462a"/>
<polygon points="201.2,149.9 233.6,146.8 342.1,269.6 311.8,276.2" fill="url(#t8)"/>
<polygon points="233.6,146.8 264.6,143.8 371.1,263.1 342.1,269.6" fill="url(#t9)"/>
<polygon points="264.6,143.8 294.2,141.0 398.8,256.7 371.1,263.1" fill="url(#t10)"/>
<polygon points="294.2,141.0 322.6,138.3 425.4,250.5 398.8,256.7" fill="url(#t11)"/>
<polygon points="322.6,138.3 349.8,135.8 450.8,244.3 425.4,250.5" fill="url(#t12)"/>
<polygon points="349.8,135.8 375.9,133.4 475.3,238.4 450.8,244.3" fill="url(#t13)"/>
<polygon points="375.9,133.4 401.0,131.1 498.8,232.5 475.3,238.4" fill="url(#t14)"/>
<polygon points="401.0,131.1 425.1,129.0 521.3,226.8 498.8,232.5" fill="url(#t15)"/>
<polygon points="425.1,129.0 448.2,126.9 543.0,221.2 521.3,226.8" fill="url(#t16)"/>
<polygon points="448.2,126.9 470.5,124.9 563.9,215.8 543.0,221.2" fill="url(#t17)"/>
<polygon points="287.5,189.0 302.0,156.0 302.9,156.4 303.9,156.8 304.9,157.2 305.9,157.7 306.9,158.2 307.9,158.7 308.9,159.1 309.8,159.6 310.8,160.0 311.8,160.2 312.8,159.6 313.7,159.0 314.7,158.3 315.7,157.6 316.7,156.9 317.6,156.2 318.6,155.5 319.6,154.8 320.5,154.2 321.5,153.7 322.5,153.2 323.4,152.8 324.4,152.5 325.3,152.3 326.3,152.2 327.3,152.2 328.2,152.2 329.2,152.4 330.1,152.7 331.1,153.0 332.0,153.4 333.0,153.8 333.9,154.3 334.8,154.8 335.8,155.3 336.7,155.7 337.7,156.2 338.6,156.6 339.5,157.0 340.5,156.6 341.4,155.9 342.4,155.3 343.3,154.6 344.2,153.9 345.1,153.2 346.1,152.5 347.0,151.9 347.9,151.3 348.9,150.7 349.8,150.2 350.7,149.8 351.6,149.4 352.5,149.2 353.5,149.1 354.4,149.0 355.3,149.1 356.2,149.2 357.1,149.5 358.0,149.8 358.9,150.2 359.8,150.6 360.7,151.0 361.7,151.5 362.6,152.0 363.5,152.5 364.4,152.9 365.3,153.3 366.2,153.7 367.1,153.6 368.0,153.0 368.9,152.4 369.8,151.8 370.6,151.1 371.5,150.4 372.4,149.7 373.3,149.0 374.2,148.4 375.1,147.9 376.0,147.3 376.9,146.9 377.7,146.6 378.6,146.3 379.5,146.1 380.4,146.1 381.3,146.1 382.1,146.2 383.0,146.4 383.9,146.7 384.8,147.0 385.6,147.4 386.5,147.9 387.4,148.4 388.3,148.8 389.1,149.3 390.0,149.8 390.9,150.2 391.7,150.6 392.6,150.8 393.4,150.3 394.3,149.7 395.2,149.0 396.0,148.4 396.9,147.7 397.7,147.0 398.6,146.3 399.4,145.7 400.3,145.1 401.1,144.6 402.0,144.2 402.8,143.8 403.7,143.5 404.5,143.3 405.4,143.2 406.2,143.2 407.1,143.3 407.9,143.5 408.8,143.7 409.6,144.1 410.4,144.4 411.3,144.9 412.1,145.3 412.9,145.8 413.8,146.3 414.6,146.7 415.4,147.2 416.3,147.6 417.1,148.0 417.9,147.6 418.8,147.0 419.6,146.4 420.4,145.7 421.2,145.1 422.1,144.4 422.9,143.8 423.7,143.1 424.5,142.5 425.3,142.0 426.1,141.5 427.0,141.1 427.8,140.8 428.6,140.6 429.4,140.5 430.2,140.4 431.0,140.5 431.8,140.7 432.6,140.9 433.5,141.2 434.3,141.6 435.1,142.0 435.9,142.4 436.7,142.9 437.5,143.4 438.3,143.8 439.1,144.3 439.9,144.7 440.7,145.1 441.5,145.0 442.3,144.5 443.1,143.9 443.9,143.2 444.6,142.6 445.4,141.9 446.2,141.3 447.0,140.6 447.8,140.0 448.6,139.5 449.4,139.0 450.2,138.6 450.9,138.3 451.7,138.0 452.5,137.9 453.3,137.8 454.1,137.8 454.9,138.0 455.6,138.2 456.4,138.4 457.2,138.8 458.0,139.2 458.7,139.6 459.5,140.1 460.3,140.5 461.0,141.0 461.8,141.5 462.6,141.9 463.4,142.3 464.1,142.5 464.9,142.0 465.7,141.4 466.4,140.8 467.2,140.2 467.9,139.5 468.7,138.9 469.5,138.3 470.2,137.7 471.0,137.1 471.7,136.6 472.5,136.2 473.2,135.8 474.0,135.5 474.8,135.4 475.5,135.3 476.3,135.3 477.0,135.4 477.8,135.5 478.5,135.8 479.3,136.1 480.0,136.5 542.5,197.4 541.8,197.1 541.1,196.8 540.4,196.6 539.6,196.4 538.9,196.4 538.2,196.5 537.5,196.6 536.8,196.9 536.0,197.2 535.3,197.7 534.6,198.2 533.9,198.9 533.1,199.5 532.4,200.3 531.7,201.0 531.0,201.8 530.2,202.6 529.5,203.3 528.8,204.1 528.0,204.8 527.3,205.4 526.6,205.2 525.8,204.9 525.1,204.5 524.4,204.0 523.6,203.6 522.9,203.1 522.1,202.7 521.4,202.3 520.7,201.9 519.9,201.6 519.2,201.3 518.4,201.2 517.7,201.1 516.9,201.1 516.2,201.3 515.4,201.5 514.7,201.8 513.9,202.3 513.2,202.8 512.4,203.4 511.7,204.1 510.9,204.8 510.2,205.6 509.4,206.4 508.7,207.2 507.9,208.0 507.1,208.8 506.4,209.5 505.6,210.2 504.9,210.3 504.1,210.0 503.3,209.6 502.6,209.1 501.8,208.7 501.0,208.2 500.3,207.7 499.5,207.3 498.7,206.9 498.0,206.5 497.2,206.2 496.4,206.0 495.6,205.9 494.9,205.9 494.1,206.0 493.3,206.2 492.5,206.5 491.7,207.0 491.0,207.5 490.2,208.1 489.4,208.8 488.6,209.5 487.8,210.3 487.0,211.1 486.3,211.9 485.5,212.7 484.7,213.6 483.9,214.3 483.1,215.1 482.3,215.6 481.5,215.2 480.7,214.8 479.9,214.4 479.1,213.9 478.3,213.4 477.5,212.9 476.7,212.4 475.9,212.0 475.1,211.6 474.3,211.3 473.5,211.1 472.7,210.9 471.9,210.9 471.1,210.9 470.3,211.1 469.5,211.4 468.7,211.8 467.9,212.3 467.0,212.9 466.2,213.5 465.4,214.3 464.6,215.1 463.8,215.9 463.0,216.8 462.1,217.6 461.3,218.5 460.5,219.3 459.7,220.0 458.8,220.8 458.0,220.6 457.2,220.2 456.4,219.7 455.5,219.2 454.7,218.7 453.9,218.2 453.0,217.7 452.2,217.3 451.4,216.8 450.5,216.5 449.7,216.2 448.9,216.0 448.0,215.9 447.2,215.9 446.3,216.1 445.5,225.7 444.6,225.8 443.8,225.9 443.0,225.9 442.1,225.8 441.3,225.7 440.4,225.6 439.6,225.5 438.7,225.4 437.8,225.2 437.0,225.1 436.1,225.0 435.3,224.9 434.4,224.8 433.6,225.0 432.7,225.4 431.8,225.9 431.0,226.4 430.1,226.9 429.2,227.4 428.4,227.9 427.5,228.4 426.6,228.9 425.8,229.4 424.9,229.8 424.0,230.1 423.1,230.5 422.3,230.7 421.4,231.0 420.5,231.1 419.6,231.3 418.8,231.3 417.9,231.3 417.0,231.3 416.1,231.2 415.2,231.2 414.3,231.0 413.4,230.9 412.6,230.8 411.7,230.6 410.8,230.5 409.9,230.4 409.0,230.3 408.1,230.3 407.2,230.8 406.3,231.3 405.4,231.8 404.5,232.3 403.6,232.8 402.7,233.3 401.8,233.8 400.9,234.3 400.0,234.8 399.1,235.2 398.1,235.6 397.2,235.9 396.3,236.2 395.4,236.5 394.5,236.7 393.6,236.8 392.7,236.9 391.7,236.9 390.8,236.9 389.9,236.9 389.0,236.8 388.0,236.7 387.1,236.6 386.2,236.4 385.3,236.3 384.3,236.2 383.4,236.1 382.5,236.0 381.5,235.9 380.6,236.3 379.7,236.8 378.7,237.3 377.8,237.8 376.8,238.3 375.9,238.8 374.9,239.3 374.0,239.8 373.1,240.3 372.1,240.7 371.2,241.2 370.2,241.5 369.3,241.8 368.3,242.1 367.3,242.3 366.4,242.5 365.4,242.6 364.5,242.7 363.5,242.7 362.5,242.6 361.6,242.6 360.6,242.5 359.6,242.4 358.7,242.2 357.7,242.1 356.7,242.0 355.8,241.9 354.8,241.8 353.8,241.7 352.8,241.9 351.9,242.4 350.9,242.9 349.9,243.4 348.9,243.9 347.9,244.4 346.9,245.0 346.0,245.5 345.0,246.0 344.0,246.4 343.0,246.9 342.0,247.2 341.0,247.6 340.0,247.9" fill="url(#t18)"/>
<polygon points="271.8,172.9 282.8,171.9 366.8,257.6 355.8,258.6" fill="#b5361f" opacity="0.85"/>
</g>
<polyline points="340.0,247.9 341.0,247.6 342.0,247.2 343.0,246.9 344.0,246.4 345.0,246.0 346.0,245.5 346.9,245.0 347.9,244.4 348.9,243.9 349.9,243.4 350.9,242.9 351.9,242.4 352.8,241.9 353.8,241.7 354.8,241.8 355.8,241.9 356.7,242.0 357.7,242.1 358.7,242.2 359.6,242.4 360.6,242.5 361.6,242.6 362.5,242.6 363.5,242.7 364.5,242.7 365.4,242.6 366.4,242.5 367.3,242.3 368.3,242.1 369.3,241.8 370.2,241.5 371.2,241.2 372.1,240.7 373.1,240.3 374.0,239.8 374.9,239.3 375.9,238.8 376.8,238.3 377.8,237.8 378.7,237.3 379.7,236.8 380.6,236.3 381.5,235.9 382.5,236.0 383.4,236.1 384.3,236.2 385.3,236.3 386.2,236.4 387.1,236.6 388.0,236.7 389.0,236.8 389.9,236.9 390.8,236.9 391.7,236.9 392.7,236.9 393.6,236.8 394.5,236.7 395.4,236.5 396.3,236.2 397.2,235.9 398.1,235.6 399.1,235.2 400.0,234.8 400.9,234.3 401.8,233.8 402.7,233.3 403.6,232.8 404.5,232.3 405.4,231.8 406.3,231.3 407.2,230.8 408.1,230.3 409.0,230.3 409.9,230.4 410.8,230.5 411.7,230.6 412.6,230.8 413.4,230.9 414.3,231.0 415.2,231.2 416.1,231.2 417.0,231.3 417.9,231.3 418.8,231.3 419.6,231.3 420.5,231.1 421.4,231.0 422.3,230.7 423.1,230.5 424.0,230.1 424.9,229.8 425.8,229.4 426.6,228.9 427.5,228.4 428.4,227.9 429.2,227.4 430.1,226.9 431.0,226.4 431.8,225.9 432.7,225.4 433.6,225.0 434.4,224.8 435.3,224.9 436.1,225.0 437.0,225.1 437.8,225.2 438.7,225.4 439.6,225.5 440.4,225.6 441.3,225.7 442.1,225.8 443.0,225.9 443.8,225.9 444.6,225.8 445.5,225.7 446.3,216.1 447.2,215.9 448.0,215.9 448.9,216.0 449.7,216.2 450.5,216.5 451.4,216.8 452.2,217.3 453.0,217.7 453.9,218.2 454.7,218.7 455.5,219.2 456.4,219.7 457.2,220.2 458.0,220.6 458.8,220.8 459.7,220.0 460.5,219.3 461.3,218.5 462.1,217.6 463.0,216.8 463.8,215.9 464.6,215.1 465.4,214.3 466.2,213.5 467.0,212.9 467.9,212.3 468.7,211.8 469.5,211.4 470.3,211.1 471.1,210.9 471.9,210.9 472.7,210.9 473.5,211.1 474.3,211.3 475.1,211.6 475.9,212.0 476.7,212.4 477.5,212.9 478.3,213.4 479.1,213.9 479.9,214.4 480.7,214.8 481.5,215.2 482.3,215.6 483.1,215.1 483.9,214.3 484.7,213.6 485.5,212.7 486.3,211.9 487.0,211.1 487.8,210.3 488.6,209.5 489.4,208.8 490.2,208.1 491.0,207.5 491.7,207.0 492.5,206.5 493.3,206.2 494.1,206.0 494.9,205.9 495.6,205.9 496.4,206.0 497.2,206.2 498.0,206.5 498.7,206.9 499.5,207.3 500.3,207.7 501.0,208.2 501.8,208.7 502.6,209.1 503.3,209.6 504.1,210.0 504.9,210.3 505.6,210.2 506.4,209.5 507.1,208.8 507.9,208.0 508.7,207.2 509.4,206.4 510.2,205.6 510.9,204.8 511.7,204.1 512.4,203.4 513.2,202.8 513.9,202.3 514.7,201.8 515.4,201.5 516.2,201.3 516.9,201.1 517.7,201.1 518.4,201.2 519.2,201.3 519.9,201.6 520.7,201.9 521.4,202.3 522.1,202.7 522.9,203.1 523.6,203.6 524.4,204.0 525.1,204.5 525.8,204.9 526.6,205.2 527.3,205.4 528.0,204.8 528.8,204.1 529.5,203.3 530.2,202.6 531.0,201.8 531.7,201.0 532.4,200.3 533.1,199.5 533.9,198.9 534.6,198.2 535.3,197.7 536.0,197.2 536.8,196.9 537.5,196.6 538.2,196.5 538.9,196.4 539.6,196.4 540.4,196.6 541.1,196.8 541.8,197.1 542.5,197.4" fill="none" stroke="#6e2214" stroke-width="2.6" stroke-opacity="0.8" filter="url(#b1)"/>
<g clip-path="url(#c2)">
<polygon points="100.0,129.8 101.6,129.7 103.2,129.6 104.8,129.5 106.4,129.4 108.0,129.3 109.5,129.2 111.1,129.1 112.7,129.1 114.3,129.6 115.8,130.2 117.4,130.7 119.0,131.3 120.5,131.3 122.1,130.6 123.6,129.7 125.2,128.8 126.7,127.9 128.3,127.0 129.8,126.1 131.3,125.4 138.7,111.8 140.5,112.5 142.3,111.9 144.1,111.0 145.9,109.9 147.6,108.9 149.4,107.9 151.2,107.0 152.9,106.2 154.7,105.5 156.4,105.1 158.2,104.9 159.9,105.0 161.6,105.3 163.4,105.7 165.1,106.4 166.8,107.1 168.5,108.0 170.2,108.8 172.0,109.6 173.7,110.4 175.4,110.6 177.1,109.8 178.8,108.8 180.4,107.8 182.1,106.8 183.8,105.8 185.5,105.0 187.2,104.2 188.8,103.7 190.5,103.4 192.2,103.3 193.8,103.5 195.5,103.8 197.1,104.4 198.8,105.1 200.4,105.9 202.1,106.7 203.7,107.5 205.3,108.3 207.0,109.0 208.6,108.6 210.2,107.7 211.8,106.7 213.5,105.7 215.1,104.8 216.7,103.8 218.3,103.1 219.9,102.4 221.5,102.0 223.1,101.8 224.7,101.8 226.2,102.0 227.8,102.5 229.4,103.1 231.0,103.8 232.5,104.6 234.1,105.5 235.7,106.3 237.2,107.0 238.8,107.5 240.3,106.7 241.9,105.7 243.4,104.8 245.0,103.8 246.5,102.8 248.1,102.0 249.6,101.3 251.1,100.7 252.6,100.4 254.2,100.3 255.7,100.4 257.2,100.7 258.7,101.2 260.2,101.9 261.7,102.7 263.2,103.5 264.7,104.3 266.2,105.1 267.7,105.8 269.2,105.6 270.7,104.8 272.2,103.8 273.7,102.9 275.1,101.9 276.6,101.0 278.1,100.2 279.5,99.6 281.0,99.1 282.5,98.9 283.9,98.9 285.4,99.1 286.8,99.5 288.3,100.1 289.7,100.8 291.2,101.6 292.6,102.4 294.0,103.2 295.5,103.9 296.9,104.6 298.3,103.8 299.7,102.9 301.2,102.0 302.6,101.0 304.0,100.1 305.4,99.3 306.8,98.5 308.2,98.0 309.6,97.6 311.0,97.5 312.4,97.6 313.8,97.9 315.2,98.4 316.6,99.0 317.9,99.7 319.3,100.5 320.7,101.3 322.1,102.1 323.5,102.8 324.8,102.9 326.2,102.1 327.6,101.2 328.9,100.2 330.3,99.3 331.6,98.4 333.0,97.6 334.3,97.0 335.7,96.5 337.0,96.3 338.4,96.2 339.7,96.4 341.0,96.8 342.4,97.3 343.7,98.0 345.0,98.7 346.3,99.5 347.7,100.3 349.0,101.1 350.3,101.7 351.6,101.2 352.9,100.4 354.2,99.4 355.5,98.5 356.8,97.6 358.1,96.8 359.4,96.1 360.7,95.5 362.0,95.1 363.3,95.0 364.6,95.0 365.9,95.3 367.2,95.7 368.4,96.3 369.7,97.0 371.0,97.8 372.3,98.6 373.5,99.4 374.8,100.1 376.0,100.4 377.3,99.6 378.6,98.7 379.8,97.8 381.1,96.9 382.3,96.0 383.6,95.2 384.8,94.6 386.1,94.1 387.3,93.8 388.5,93.8 389.8,93.9 391.0,94.2 392.2,94.7 393.5,95.4 394.7,96.1 395.9,96.9 397.1,97.7 398.3,98.4 399.6,99.1 400.8,98.8 402.0,98.0 403.2,97.1 404.4,96.2 405.6,95.3 406.8,94.5 408.0,93.8 409.2,93.2 410.4,92.8 411.6,92.6 412.8,92.6 414.0,92.9 415.1,93.3 416.3,93.8 417.5,94.5 418.7,95.3 419.9,96.1 421.0,96.8 422.2,97.5 423.4,98.0 424.5,97.3 425.7,96.4 426.9,95.6 428.0,94.7 429.2,93.8 430.3,93.0 431.5,92.4 432.6,91.9 433.8,91.6 434.9,91.5 436.1,91.6 437.2,91.9 438.4,92.4 439.5,93.0 499.5,151.4 498.4,150.8 497.3,150.4 496.2,150.2 495.1,150.2 494.0,150.5 492.9,150.9 491.8,151.6 490.7,152.4 489.6,153.4 488.5,154.4 487.4,155.5 486.3,156.6 485.2,157.6 484.1,158.6 482.9,158.2 481.8,157.5 480.7,156.8 479.6,156.1 478.4,155.4 477.3,154.7 476.2,154.2 475.0,153.9 473.9,153.7 472.8,153.8 471.6,154.2 470.5,154.7 469.3,155.5 468.2,156.4 467.0,157.4 465.9,158.5 464.7,159.7 463.6,160.8 462.4,161.8 461.3,162.3 460.1,161.6 458.9,160.9 457.8,160.2 456.6,159.4 455.4,158.7 454.2,158.1 453.1,157.6 451.9,157.4 450.7,157.3 449.5,157.5 448.3,158.0 447.1,158.6 445.9,159.5 444.7,160.5 443.5,161.6 442.3,162.7 441.1,163.9 439.9,165.0 438.7,166.0 437.5,165.8 436.3,165.1 435.1,164.3 433.9,163.6 432.7,162.8 431.4,162.1 430.2,161.5 429.0,161.1 427.8,160.9 426.5,161.0 425.3,161.3 424.1,161.8 422.8,162.6 421.6,163.5 420.3,164.6 419.1,165.8 417.8,167.0 416.6,168.1 415.3,169.2 414.1,170.0 412.8,169.3 411.5,168.6 410.3,167.8 409.0,166.9 407.7,166.2 406.5,165.5 405.2,165.0 403.9,164.6 402.6,164.5 401.4,164.7 400.1,165.1 398.8,165.8 397.5,166.6 396.2,167.7 394.9,168.8 393.6,170.0 392.3,171.3 391.0,172.4 389.7,173.5 388.4,173.5 387.1,172.8 385.7,172.0 384.4,171.2 383.1,170.3 381.8,169.6 380.4,168.9 379.1,168.5 377.8,168.2 376.4,168.2 375.1,168.5 373.8,169.0 372.4,169.8 371.1,170.8 369.7,171.9 368.4,173.1 367.0,174.3 365.6,175.6 364.3,176.8 362.9,177.8 361.6,177.1 360.2,176.3 358.8,175.4 357.4,174.6 356.0,173.7 354.7,173.0 353.3,172.4 351.9,172.0 350.5,171.8 349.1,172.0 347.7,172.3 346.3,173.0 344.9,173.9 343.5,174.9 342.1,176.1 340.7,177.4 339.3,178.7 337.8,179.9 336.4,181.1 335.0,181.4 333.6,180.6 332.1,179.8 330.7,178.9 329.2,178.0 327.8,177.1 326.4,176.4 324.9,175.9 323.5,175.6 322.0,175.5 320.6,175.7 319.1,176.3 317.6,177.0 316.2,178.0 314.7,179.2 313.2,180.4 311.7,181.7 310.3,183.1 308.8,184.3 307.3,185.4 305.8,185.0 304.3,184.1 302.8,183.2 301.3,182.3 299.8,181.3 298.3,180.5 296.8,179.8 295.3,179.4 293.7,179.2 292.2,179.2 290.7,189.7 289.2,189.7 287.6,189.6 286.1,189.4 284.6,189.2 283.0,188.9 281.5,188.6 279.9,188.3 278.4,188.1 276.8,188.1 275.3,188.8 273.7,189.4 272.1,190.1 270.6,190.8 269.0,191.4 267.4,192.0 265.8,192.6 264.2,193.0 262.6,193.3 261.0,193.5 259.4,193.6 257.8,193.5 256.2,193.4 254.6,193.2 253.0,192.9 251.4,192.7 249.8,192.4 248.2,192.1 246.5,191.9 244.9,192.3 243.3,192.9 241.6,193.6 240.0,194.3 238.3,194.9 236.7,195.6 235.0,196.1 233.4,196.6 231.7,197.0 230.1,197.3 228.4,197.4 226.7,197.4 225.0,197.4 223.4,197.2 221.7,196.9 220.0,196.7 218.3,196.4 216.6,196.1 214.9,195.9 213.2,195.8 211.5,196.4 209.7,197.0 208.0,197.7 206.3,198.4 204.6,199.0 202.8,199.6 201.1,200.2 199.4,200.6 197.6,200.9 195.9,201.2 194.1,201.2 192.4,201.2 190.6,201.1 188.8,200.9 187.1,200.6 185.3,200.3 183.5,200.1 181.7,199.8 180.0,199.6 178.2,199.8 176.4,200.4 174.6,201.0 172.8,201.6 171.0,201.9 169.1,202.1 167.3,202.3 165.5,202.5 163.7,202.7 161.8,202.9 160.0,203.1" fill="#d8462a"/>
<polygon points="48.6,94.3 86.5,92.8 197.7,222.6 162.2,226.8" fill="url(#t19)"/>
<polygon points="86.5,92.8 122.6,91.5 231.6,218.3 197.7,222.6" fill="url(#t20)"/>
<polygon points="122.6,91.5 157.1,90.3 263.9,214.0 231.6,218.3" fill="url(#t21)"/>
<polygon points="157.1,90.3 190.0,89.1 294.7,209.5 263.9,214.0" fill="url(#t22)"/>
<polygon points="190.0,89.1 221.5,88.1 324.2,205.1 294.7,209.5" fill="url(#t23)"/>
<polygon points="221.5,88.1 251.6,87.2 352.4,200.6 324.2,205.1" fill="url(#t24)"/>
<polygon points="251.6,87.2 280.4,86.3 379.5,196.1 352.4,200.6" fill="url(#t25)"/>
<polygon points="280.4,86.3 308.1,85.5 405.4,191.6 379.5,196.1" fill="url(#t26)"/>
<polygon points="308.1,85.5 334.6,84.8 430.2,187.1 405.4,191.6" fill="url(#t27)"/>
<polygon points="334.6,84.8 360.1,84.1 454.1,182.6 430.2,187.1" fill="url(#t28)"/>
<polygon points="360.1,84.1 384.5,83.5 477.1,178.2 454.1,182.6" fill="url(#t29)"/>
<polygon points="384.5,83.5 408.1,82.9 499.1,173.8 477.1,178.2" fill="url(#t30)"/>
<polygon points="408.1,82.9 430.8,82.4 520.4,169.5 499.1,173.8" fill="url(#t31)"/>
<polygon points="100.0,129.8 101.6,129.7 103.2,129.6 104.8,129.5 106.4,129.4 108.0,129.3 109.5,129.2 111.1,129.1 112.7,129.1 114.3,129.6 115.8,130.2 117.4,130.7 119.0,131.3 120.5,131.3 122.1,130.6 123.6,129.7 125.2,128.8 126.7,127.9 128.3,127.0 129.8,126.1 131.3,125.4 138.7,111.8 140.5,112.5 142.3,111.9 144.1,111.0 145.9,109.9 147.6,108.9 149.4,107.9 151.2,107.0 152.9,106.2 154.7,105.5 156.4,105.1 158.2,104.9 159.9,105.0 161.6,105.3 163.4,105.7 165.1,106.4 166.8,107.1 168.5,108.0 170.2,108.8 172.0,109.6 173.7,110.4 175.4,110.6 177.1,109.8 178.8,108.8 180.4,107.8 182.1,106.8 183.8,105.8 185.5,105.0 187.2,104.2 188.8,103.7 190.5,103.4 192.2,103.3 193.8,103.5 195.5,103.8 197.1,104.4 198.8,105.1 200.4,105.9 202.1,106.7 203.7,107.5 205.3,108.3 207.0,109.0 208.6,108.6 210.2,107.7 211.8,106.7 213.5,105.7 215.1,104.8 216.7,103.8 218.3,103.1 219.9,102.4 221.5,102.0 223.1,101.8 224.7,101.8 226.2,102.0 227.8,102.5 229.4,103.1 231.0,103.8 232.5,104.6 234.1,105.5 235.7,106.3 237.2,107.0 238.8,107.5 240.3,106.7 241.9,105.7 243.4,104.8 245.0,103.8 246.5,102.8 248.1,102.0 249.6,101.3 251.1,100.7 252.6,100.4 254.2,100.3 255.7,100.4 257.2,100.7 258.7,101.2 260.2,101.9 261.7,102.7 263.2,103.5 264.7,104.3 266.2,105.1 267.7,105.8 269.2,105.6 270.7,104.8 272.2,103.8 273.7,102.9 275.1,101.9 276.6,101.0 278.1,100.2 279.5,99.6 281.0,99.1 282.5,98.9 283.9,98.9 285.4,99.1 286.8,99.5 288.3,100.1 289.7,100.8 291.2,101.6 292.6,102.4 294.0,103.2 295.5,103.9 296.9,104.6 298.3,103.8 299.7,102.9 301.2,102.0 302.6,101.0 304.0,100.1 305.4,99.3 306.8,98.5 308.2,98.0 309.6,97.6 311.0,97.5 312.4,97.6 313.8,97.9 315.2,98.4 316.6,99.0 317.9,99.7 319.3,100.5 320.7,101.3 322.1,102.1 323.5,102.8 324.8,102.9 326.2,102.1 327.6,101.2 328.9,100.2 330.3,99.3 331.6,98.4 333.0,97.6 334.3,97.0 335.7,96.5 337.0,96.3 338.4,96.2 339.7,96.4 341.0,96.8 342.4,97.3 343.7,98.0 345.0,98.7 346.3,99.5 347.7,100.3 349.0,101.1 350.3,101.7 351.6,101.2 352.9,100.4 354.2,99.4 355.5,98.5 356.8,97.6 358.1,96.8 359.4,96.1 360.7,95.5 362.0,95.1 363.3,95.0 364.6,95.0 365.9,95.3 367.2,95.7 368.4,96.3 369.7,97.0 371.0,97.8 372.3,98.6 373.5,99.4 374.8,100.1 376.0,100.4 377.3,99.6 378.6,98.7 379.8,97.8 381.1,96.9 382.3,96.0 383.6,95.2 384.8,94.6 386.1,94.1 387.3,93.8 388.5,93.8 389.8,93.9 391.0,94.2 392.2,94.7 393.5,95.4 394.7,96.1 395.9,96.9 397.1,97.7 398.3,98.4 399.6,99.1 400.8,98.8 402.0,98.0 403.2,97.1 404.4,96.2 405.6,95.3 406.8,94.5 408.0,93.8 409.2,93.2 410.4,92.8 411.6,92.6 412.8,92.6 414.0,92.9 415.1,93.3 416.3,93.8 417.5,94.5 418.7,95.3 419.9,96.1 421.0,96.8 422.2,97.5 423.4,98.0 424.5,97.3 425.7,96.4 426.9,95.6 428.0,94.7 429.2,93.8 430.3,93.0 431.5,92.4 432.6,91.9 433.8,91.6 434.9,91.5 436.1,91.6 437.2,91.9 438.4,92.4 439.5,93.0 499.5,151.4 498.4,150.8 497.3,150.4 496.2,150.2 495.1,150.2 494.0,150.5 492.9,150.9 491.8,151.6 490.7,152.4 489.6,153.4 488.5,154.4 487.4,155.5 486.3,156.6 485.2,157.6 484.1,158.6 482.9,158.2 481.8,157.5 480.7,156.8 479.6,156.1 478.4,155.4 477.3,154.7 476.2,154.2 475.0,153.9 473.9,153.7 472.8,153.8 471.6,154.2 470.5,154.7 469.3,155.5 468.2,156.4 467.0,157.4 465.9,158.5 464.7,159.7 463.6,160.8 462.4,161.8 461.3,162.3 460.1,161.6 458.9,160.9 457.8,160.2 456.6,159.4 455.4,158.7 454.2,158.1 453.1,157.6 451.9,157.4 450.7,157.3 449.5,157.5 448.3,158.0 447.1,158.6 445.9,159.5 444.7,160.5 443.5,161.6 442.3,162.7 441.1,163.9 439.9,165.0 438.7,166.0 437.5,165.8 436.3,165.1 435.1,164.3 433.9,163.6 432.7,162.8 431.4,162.1 430.2,161.5 429.0,161.1 427.8,160.9 426.5,161.0 425.3,161.3 424.1,161.8 422.8,162.6 421.6,163.5 420.3,164.6 419.1,165.8 417.8,167.0 416.6,168.1 415.3,169.2 414.1,170.0 412.8,169.3 411.5,168.6 410.3,167.8 409.0,166.9 407.7,166.2 406.5,165.5 405.2,165.0 403.9,164.6 402.6,164.5 401.4,164.7 400.1,165.1 398.8,165.8 397.5,166.6 396.2,167.7 394.9,168.8 393.6,170.0 392.3,171.3 391.0,172.4 389.7,173.5 388.4,173.5 387.1,172.8 385.7,172.0 384.4,171.2 383.1,170.3 381.8,169.6 380.4,168.9 379.1,168.5 377.8,168.2 376.4,168.2 375.1,168.5 373.8,169.0 372.4,169.8 371.1,170.8 369.7,171.9 368.4,173.1 367.0,174.3 365.6,175.6 364.3,176.8 362.9,177.8 361.6,177.1 360.2,176.3 358.8,175.4 357.4,174.6 356.0,173.7 354.7,173.0 353.3,172.4 351.9,172.0 350.5,171.8 349.1,172.0 347.7,172.3 346.3,173.0 344.9,173.9 343.5,174.9 342.1,176.1 340.7,177.4 339.3,178.7 337.8,179.9 336.4,181.1 335.0,181.4 333.6,180.6 332.1,179.8 330.7,178.9 329.2,178.0 327.8,177.1 326.4,176.4 324.9,175.9 323.5,175.6 322.0,175.5 320.6,175.7 319.1,176.3 317.6,177.0 316.2,178.0 314.7,179.2 313.2,180.4 311.7,181.7 310.3,183.1 308.8,184.3 307.3,185.4 305.8,185.0 304.3,184.1 302.8,183.2 301.3,182.3 299.8,181.3 298.3,180.5 296.8,179.8 295.3,179.4 293.7,179.2 292.2,179.2 290.7,189.7 289.2,189.7 287.6,189.6 286.1,189.4 284.6,189.2 283.0,188.9 281.5,188.6 279.9,188.3 278.4,188.1 276.8,188.1 275.3,188.8 273.7,189.4 272.1,190.1 270.6,190.8 269.0,191.4 267.4,192.0 265.8,192.6 264.2,193.0 262.6,193.3 261.0,193.5 259.4,193.6 257.8,193.5 256.2,193.4 254.6,193.2 253.0,192.9 251.4,192.7 249.8,192.4 248.2,192.1 246.5,191.9 244.9,192.3 243.3,192.9 241.6,193.6 240.0,194.3 238.3,194.9 236.7,195.6 235.0,196.1 233.4,196.6 231.7,197.0 230.1,197.3 228.4,197.4 226.7,197.4 225.0,197.4 223.4,197.2 221.7,196.9 220.0,196.7 218.3,196.4 216.6,196.1 214.9,195.9 213.2,195.8 211.5,196.4 209.7,197.0 208.0,197.7 206.3,198.4 204.6,199.0 202.8,199.6 201.1,200.2 199.4,200.6 197.6,200.9 195.9,201.2 194.1,201.2 192.4,201.2 190.6,201.1 188.8,200.9 187.1,200.6 185.3,200.3 183.5,200.1 181.7,199.8 180.0,199.6 178.2,199.8 176.4,200.4 174.6,201.0 172.8,201.6 171.0,201.9 169.1,202.1 167.3,202.3 165.5,202.5 163.7,202.7 161.8,202.9 160.0,203.1" fill="url(#t32)"/>
<polygon points="62.5,89.2 73.5,88.2 193.5,228.2 182.5,229.2" fill="#b5361f" opacity="0.85"/>
</g>
<polyline points="160.0,203.1 161.8,202.9 163.7,202.7 165.5,202.5 167.3,202.3 169.1,202.1 171.0,201.9 172.8,201.6 174.6,201.0 176.4,200.4 178.2,199.8 180.0,199.6 181.7,199.8 183.5,200.1 185.3,200.3 187.1,200.6 188.8,200.9 190.6,201.1 192.4,201.2 194.1,201.2 195.9,201.2 197.6,200.9 199.4,200.6 201.1,200.2 202.8,199.6 204.6,199.0 206.3,198.4 208.0,197.7 209.7,197.0 211.5,196.4 213.2,195.8 214.9,195.9 216.6,196.1 218.3,196.4 220.0,196.7 221.7,196.9 223.4,197.2 225.0,197.4 226.7,197.4 228.4,197.4 230.1,197.3 231.7,197.0 233.4,196.6 235.0,196.1 236.7,195.6 238.3,194.9 240.0,194.3 241.6,193.6 243.3,192.9 244.9,192.3 246.5,191.9 248.2,192.1 249.8,192.4 251.4,192.7 253.0,192.9 254.6,193.2 256.2,193.4 257.8,193.5 259.4,193.6 261.0,193.5 262.6,193.3 264.2,193.0 265.8,192.6 267.4,192.0 269.0,191.4 270.6,190.8 272.1,190.1 273.7,189.4 275.3,188.8 276.8,188.1 278.4,188.1 279.9,188.3 281.5,188.6 283.0,188.9 284.6,189.2 286.1,189.4 287.6,189.6 289.2,189.7 290.7,189.7 292.2,179.2 293.7,179.2 295.3,179.4 296.8,179.8 298.3,180.5 299.8,181.3 301.3,182.3 302.8,183.2 304.3,184.1 305.8,185.0 307.3,185.4 308.8,184.3 310.3,183.1 311.7,181.7 313.2,180.4 314.7,179.2 316.2,178.0 317.6,177.0 319.1,176.3 320.6,175.7 322.0,175.5 323.5,175.6 324.9,175.9 326.4,176.4 327.8,177.1 329.2,178.0 330.7,178.9 332.1,179.8 333.6,180.6 335.0,181.4 336.4,181.1 337.8,179.9 339.3,178.7 340.7,177.4 342.1,176.1 343.5,174.9 344.9,173.9 346.3,173.0 347.7,172.3 349.1,172.0 350.5,171.8 351.9,172.0 353.3,172.4 354.7,173.0 356.0,173.7 357.4,174.6 358.8,175.4 360.2,176.3 361.6,177.1 362.9,177.8 364.3,176.8 365.6,175.6 367.0,174.3 368.4,173.1 369.7,171.9 371.1,170.8 372.4,169.8 373.8,169.0 375.1,168.5 376.4,168.2 377.8,168.2 379.1,168.5 380.4,168.9 381.8,169.6 383.1,170.3 384.4,171.2 385.7,172.0 387.1,172.8 388.4,173.5 389.7,173.5 391.0,172.4 392.3,171.3 393.6,170.0 394.9,168.8 396.2,167.7 397.5,166.6 398.8,165.8 400.1,165.1 401.4,164.7 402.6,164.5 403.9,164.6 405.2,165.0 406.5,165.5 407.7,166.2 409.0,166.9 410.3,167.8 411.5,168.6 412.8,169.3 414.1,170.0 415.3,169.2 416.6,168.1 417.8,167.0 419.1,165.8 420.3,164.6 421.6,163.5 422.8,162.6 424.1,161.8 425.3,161.3 426.5,161.0 427.8,160.9 429.0,161.1 430.2,161.5 431.4,162.1 432.7,162.8 433.9,163.6 435.1,164.3 436.3,165.1 437.5,165.8 438.7,166.0 439.9,165.0 441.1,163.9 442.3,162.7 443.5,161.6 444.7,160.5 445.9,159.5 447.1,158.6 448.3,158.0 449.5,157.5 450.7,157.3 451.9,157.4 453.1,157.6 454.2,158.1 455.4,158.7 456.6,159.4 457.8,160.2 458.9,160.9 460.1,161.6 461.3,162.3 462.4,161.8 463.6,160.8 464.7,159.7 465.9,158.5 467.0,157.4 468.2,156.4 469.3,155.5 470.5,154.7 471.6,154.2 472.8,153.8 473.9,153.7 475.0,153.9 476.2,154.2 477.3,154.7 478.4,155.4 479.6,156.1 480.7,156.8 481.8,157.5 482.9,158.2 484.1,158.6 485.2,157.6 486.3,156.6 487.4,155.5 488.5,154.4 489.6,153.4 490.7,152.4 491.8,151.6 492.9,150.9 494.0,150.5 495.1,150.2 496.2,150.2 497.3,150.4 498.4,150.8 499.5,151.4" fill="none" stroke="#6e2214" stroke-width="2.6" stroke-opacity="0.8" filter="url(#b1)"/>
<g clip-path="url(#c1)">
<polygon points="65.0,78.3 66.6,78.3 68.2,78.2 69.7,78.2 71.3,78.1 72.9,78.0 74.4,78.0 76.0,77.9 77.5,77.9 79.1,78.5 80.6,79.1 82.2,79.7 83.7,80.3 85.3,80.4 86.8,79.6 88.3,78.8 89.9,78.0 91.4,77.1 92.9,76.3 94.5,75.4 96.0,74.7 103.5,62.7 105.3,63.6 107.0,64.3 108.8,63.7 110.5,62.8 112.3,61.8 114.0,60.8 115.8,59.8 117.5,59.0 119.2,58.2 120.9,57.6 122.6,57.2 124.4,57.1 126.1,57.2 127.8,57.5 129.5,58.0 131.2,58.7 132.9,59.5 134.6,60.4 136.2,61.3 137.9,62.1 139.6,62.9 141.3,63.2 142.9,62.3 144.6,61.4 146.3,60.5 147.9,59.5 149.6,58.5 151.2,57.7 152.9,57.0 154.5,56.6 156.2,56.3 157.8,56.2 159.4,56.4 161.0,56.8 162.7,57.4 164.3,58.1 165.9,59.0 167.5,59.8 169.1,60.7 170.7,61.5 172.3,62.3 173.9,61.9 175.5,61.0 177.1,60.1 178.7,59.1 180.3,58.2 181.8,57.3 183.4,56.6 185.0,56.0 186.6,55.6 188.1,55.4 189.7,55.5 191.2,55.7 192.8,56.2 194.4,56.8 195.9,57.6 197.4,58.5 199.0,59.3 200.5,60.2 202.0,61.0 203.6,61.5 205.1,60.7 206.6,59.8 208.1,58.8 209.7,57.9 211.2,57.0 212.7,56.2 214.2,55.5 215.7,55.0 217.2,54.7 218.7,54.6 220.2,54.7 221.7,55.1 223.2,55.7 224.6,56.3 226.1,57.1 227.6,58.0 229.1,58.9 230.5,59.7 232.0,60.4 233.5,60.3 234.9,59.5 236.4,58.6 237.8,57.6 239.3,56.7 240.7,55.8 242.2,55.1 243.6,54.5 245.0,54.1 246.5,53.9 247.9,53.9 249.3,54.1 250.8,54.6 252.2,55.2 253.6,55.9 255.0,56.7 256.4,57.6 257.8,58.4 259.2,59.2 260.6,59.9 262.0,59.1 263.4,58.3 264.8,57.4 266.2,56.4 267.6,55.6 269.0,54.7 270.4,54.1 271.8,53.5 273.1,53.2 274.5,53.1 275.9,53.2 277.3,53.5 278.6,54.1 280.0,54.7 281.3,55.5 282.7,56.3 284.1,57.2 285.4,58.0 286.8,58.7 288.1,58.8 289.4,58.0 290.8,57.1 292.1,56.2 293.4,55.3 294.8,54.5 296.1,53.7 297.4,53.1 298.8,52.7 300.1,52.4 301.4,52.4 302.7,52.6 304.0,53.0 305.3,53.6 306.6,54.3 307.9,55.1 309.2,55.9 310.5,56.8 311.8,57.5 313.1,58.2 314.4,57.7 315.7,56.9 317.0,56.0 318.3,55.1 319.5,54.2 320.8,53.4 322.1,52.7 323.4,52.2 324.6,51.9 325.9,51.7 327.2,51.8 328.4,52.1 329.7,52.6 330.9,53.2 332.2,53.9 333.4,54.8 334.7,55.6 335.9,56.4 337.2,57.1 338.4,57.4 339.7,56.7 340.9,55.8 342.1,54.9 343.4,54.1 344.6,53.2 345.8,52.5 347.0,51.8 348.3,51.4 349.5,51.1 350.7,51.1 351.9,51.3 353.1,51.6 354.3,52.2 355.5,52.9 356.7,53.6 357.9,54.4 359.1,55.2 360.3,56.0 361.5,56.7 362.7,56.4 363.9,55.6 365.1,54.8 366.3,53.9 367.5,53.0 368.6,52.2 369.8,51.5 371.0,51.0 372.2,50.6 373.3,50.5 374.5,50.5 375.7,50.8 376.8,51.2 378.0,51.8 379.1,52.5 380.3,53.3 381.5,54.1 382.6,54.9 383.8,55.6 384.9,56.2 386.1,55.4 387.2,54.6 388.3,53.8 389.5,52.9 390.6,52.1 391.8,51.3 392.9,50.7 394.0,50.2 395.1,49.9 396.3,49.9 397.4,50.0 398.5,50.3 399.6,50.9 400.8,51.5 459.5,107.7 458.4,107.2 457.3,106.8 456.2,106.6 455.1,106.5 454.0,106.7 452.8,107.1 451.7,107.6 450.6,108.4 449.5,109.2 448.4,110.2 447.2,111.2 446.1,112.1 445.0,113.0 443.8,113.9 442.7,113.5 441.6,112.8 440.4,112.1 439.3,111.4 438.1,110.7 437.0,110.1 435.8,109.6 434.7,109.2 433.5,109.0 432.4,109.1 431.2,109.3 430.1,109.8 428.9,110.5 427.7,111.3 426.6,112.2 425.4,113.2 424.2,114.2 423.0,115.2 421.9,116.1 420.7,116.5 419.5,115.9 418.3,115.2 417.1,114.5 416.0,113.7 414.8,113.0 413.6,112.4 412.4,111.9 411.2,111.6 410.0,111.5 408.8,111.7 407.6,112.0 406.4,112.6 405.1,113.3 403.9,114.2 402.7,115.2 401.5,116.3 400.3,117.3 399.1,118.3 397.8,119.2 396.6,119.0 395.4,118.3 394.1,117.5 392.9,116.8 391.7,116.0 390.4,115.3 389.2,114.7 387.9,114.3 386.7,114.0 385.5,114.0 384.2,114.3 382.9,114.7 381.7,115.4 380.4,116.3 379.2,117.2 377.9,118.3 376.6,119.4 375.4,120.4 374.1,121.4 372.8,122.1 371.5,121.4 370.3,120.6 369.0,119.8 367.7,119.0 366.4,118.2 365.1,117.5 363.8,117.0 362.5,116.6 361.2,116.5 359.9,116.6 358.6,116.9 357.3,117.5 356.0,118.3 354.7,119.2 353.4,120.2 352.0,121.3 350.7,122.5 349.4,123.5 348.1,124.5 346.7,124.5 345.4,123.7 344.1,122.9 342.7,122.1 341.4,121.2 340.0,120.4 338.7,119.8 337.3,119.3 336.0,119.0 334.6,118.9 333.3,119.1 331.9,119.6 330.5,120.3 329.2,121.1 327.8,122.1 326.4,123.3 325.1,124.4 323.7,125.5 322.3,126.6 320.9,127.5 319.5,126.8 318.1,126.0 316.7,125.1 315.3,124.2 313.9,123.4 312.5,122.6 311.1,122.0 309.7,121.5 308.3,121.3 306.9,121.4 305.5,121.7 304.0,122.2 302.6,123.0 301.2,124.0 299.8,125.1 298.3,126.3 296.9,127.5 295.5,128.6 294.0,129.7 292.6,129.9 291.1,129.1 289.7,128.2 288.2,127.3 286.7,126.3 285.3,125.5 283.8,124.7 282.3,124.1 280.9,123.8 279.4,123.6 277.9,123.8 276.4,124.2 274.9,124.9 273.5,125.8 272.0,126.9 270.5,128.0 269.0,129.3 267.5,130.5 266.0,131.6 264.5,132.7 262.9,132.1 261.4,131.3 259.9,130.3 258.4,129.3 256.9,128.3 255.3,127.5 253.8,126.7 252.3,126.2 250.7,126.0 249.2,125.9 247.6,126.2 246.1,126.8 244.5,127.6 243.0,128.6 241.4,129.7 239.8,131.0 238.3,132.2 236.7,133.5 235.1,134.6 233.5,135.1 232.0,134.3 230.4,133.3 228.8,132.3 227.2,131.2 225.6,130.3 224.0,129.4 222.4,128.7 220.8,128.3 219.2,128.1 217.5,128.2 215.9,128.6 214.3,129.3 212.7,130.2 211.0,131.3 209.4,132.5 207.8,133.8 206.1,135.1 204.5,136.4 202.8,137.5 201.2,137.2 199.5,136.2 197.8,135.2 196.2,134.1 194.5,133.0 192.8,132.1 191.1,131.2 189.5,130.6 187.8,130.3 186.1,130.2 184.4,130.4 182.7,131.0 181.0,131.8 179.3,132.8 177.6,134.0 175.9,135.3 174.1,136.6 172.4,138.0 170.7,139.2 169.0,140.0 167.2,139.1 165.5,138.1 163.7,136.9 162.0,135.8 160.2,134.7 158.5,133.7 156.7,132.9 155.0,132.4 153.2,132.1 151.4,132.2 149.6,132.6 147.8,133.2 146.1,134.2 144.3,135.3 142.5,136.6 140.7,138.0 138.9,139.3 137.1,140.7 135.2,141.9 133.4,141.8 131.6,140.8 129.8,139.9 127.9,138.9 126.1,138.6 124.3,138.7 122.4,138.8 120.6,138.9 118.7,139.0 116.9,139.1 115.0,139.2" fill="#d8462a"/>
<polygon points="19.6,47.0 56.6,46.2 150.0,161.6 113.7,163.9" fill="url(#t33)"/>
<polygon points="56.6,46.2 91.8,45.5 184.7,159.1 150.0,161.6" fill="url(#t34)"/>
<polygon points="91.8,45.5 125.4,44.8 217.7,156.4 184.7,159.1" fill="url(#t35)"/>
<polygon points="125.4,44.8 157.5,44.2 249.3,153.6 217.7,156.4" fill="url(#t36)"/>
<polygon points="157.5,44.2 188.2,43.7 279.5,150.6 249.3,153.6" fill="url(#t37)"/>
<polygon points="188.2,43.7 217.5,43.3 308.4,147.6 279.5,150.6" fill="url(#t38)"/>
<polygon points="217.5,43.3 245.6,43.0 336.0,144.5 308.4,147.6" fill="url(#t39)"/>
<polygon points="245.6,43.0 272.6,42.6 362.5,141.3 336.0,144.5" fill="url(#t40)"/>
<polygon points="272.6,42.6 298.4,42.4 388.0,138.1 362.5,141.3" fill="url(#t41)"/>
<polygon points="298.4,42.4 323.3,42.1 412.4,134.9 388.0,138.1" fill="url(#t42)"/>
<polygon points="323.3,42.1 347.1,41.9 435.9,131.7 412.4,134.9" fill="url(#t43)"/>
<polygon points="347.1,41.9 370.1,41.8 458.5,128.4 435.9,131.7" fill="url(#t44)"/>
<polygon points="370.1,41.8 392.2,41.7 480.2,125.2 458.5,128.4" fill="url(#t45)"/>
<polygon points="65.0,78.3 66.6,78.3 68.2,78.2 69.7,78.2 71.3,78.1 72.9,78.0 74.4,78.0 76.0,77.9 77.5,77.9 79.1,78.5 80.6,79.1 82.2,79.7 83.7,80.3 85.3,80.4 86.8,79.6 88.3,78.8 89.9,78.0 91.4,77.1 92.9,76.3 94.5,75.4 96.0,74.7 103.5,62.7 105.3,63.6 107.0,64.3 108.8,63.7 110.5,62.8 112.3,61.8 114.0,60.8 115.8,59.8 117.5,59.0 119.2,58.2 120.9,57.6 122.6,57.2 124.4,57.1 126.1,57.2 127.8,57.5 129.5,58.0 131.2,58.7 132.9,59.5 134.6,60.4 136.2,61.3 137.9,62.1 139.6,62.9 141.3,63.2 142.9,62.3 144.6,61.4 146.3,60.5 147.9,59.5 149.6,58.5 151.2,57.7 152.9,57.0 154.5,56.6 156.2,56.3 157.8,56.2 159.4,56.4 161.0,56.8 162.7,57.4 164.3,58.1 165.9,59.0 167.5,59.8 169.1,60.7 170.7,61.5 172.3,62.3 173.9,61.9 175.5,61.0 177.1,60.1 178.7,59.1 180.3,58.2 181.8,57.3 183.4,56.6 185.0,56.0 186.6,55.6 188.1,55.4 189.7,55.5 191.2,55.7 192.8,56.2 194.4,56.8 195.9,57.6 197.4,58.5 199.0,59.3 200.5,60.2 202.0,61.0 203.6,61.5 205.1,60.7 206.6,59.8 208.1,58.8 209.7,57.9 211.2,57.0 212.7,56.2 214.2,55.5 215.7,55.0 217.2,54.7 218.7,54.6 220.2,54.7 221.7,55.1 223.2,55.7 224.6,56.3 226.1,57.1 227.6,58.0 229.1,58.9 230.5,59.7 232.0,60.4 233.5,60.3 234.9,59.5 236.4,58.6 237.8,57.6 239.3,56.7 240.7,55.8 242.2,55.1 243.6,54.5 245.0,54.1 246.5,53.9 247.9,53.9 249.3,54.1 250.8,54.6 252.2,55.2 253.6,55.9 255.0,56.7 256.4,57.6 257.8,58.4 259.2,59.2 260.6,59.9 262.0,59.1 263.4,58.3 264.8,57.4 266.2,56.4 267.6,55.6 269.0,54.7 270.4,54.1 271.8,53.5 273.1,53.2 274.5,53.1 275.9,53.2 277.3,53.5 278.6,54.1 280.0,54.7 281.3,55.5 282.7,56.3 284.1,57.2 285.4,58.0 286.8,58.7 288.1,58.8 289.4,58.0 290.8,57.1 292.1,56.2 293.4,55.3 294.8,54.5 296.1,53.7 297.4,53.1 298.8,52.7 300.1,52.4 301.4,52.4 302.7,52.6 304.0,53.0 305.3,53.6 306.6,54.3 307.9,55.1 309.2,55.9 310.5,56.8 311.8,57.5 313.1,58.2 314.4,57.7 315.7,56.9 317.0,56.0 318.3,55.1 319.5,54.2 320.8,53.4 322.1,52.7 323.4,52.2 324.6,51.9 325.9,51.7 327.2,51.8 328.4,52.1 329.7,52.6 330.9,53.2 332.2,53.9 333.4,54.8 334.7,55.6 335.9,56.4 337.2,57.1 338.4,57.4 339.7,56.7 340.9,55.8 342.1,54.9 343.4,54.1 344.6,53.2 345.8,52.5 347.0,51.8 348.3,51.4 349.5,51.1 350.7,51.1 351.9,51.3 353.1,51.6 354.3,52.2 355.5,52.9 356.7,53.6 357.9,54.4 359.1,55.2 360.3,56.0 361.5,56.7 362.7,56.4 363.9,55.6 365.1,54.8 366.3,53.9 367.5,53.0 368.6,52.2 369.8,51.5 371.0,51.0 372.2,50.6 373.3,50.5 374.5,50.5 375.7,50.8 376.8,51.2 378.0,51.8 379.1,52.5 380.3,53.3 381.5,54.1 382.6,54.9 383.8,55.6 384.9,56.2 386.1,55.4 387.2,54.6 388.3,53.8 389.5,52.9 390.6,52.1 391.8,51.3 392.9,50.7 394.0,50.2 395.1,49.9 396.3,49.9 397.4,50.0 398.5,50.3 399.6,50.9 400.8,51.5 459.5,107.7 458.4,107.2 457.3,106.8 456.2,106.6 455.1,106.5 454.0,106.7 452.8,107.1 451.7,107.6 450.6,108.4 449.5,109.2 448.4,110.2 447.2,111.2 446.1,112.1 445.0,113.0 443.8,113.9 442.7,113.5 441.6,112.8 440.4,112.1 439.3,111.4 438.1,110.7 437.0,110.1 435.8,109.6 434.7,109.2 433.5,109.0 432.4,109.1 431.2,109.3 430.1,109.8 428.9,110.5 427.7,111.3 426.6,112.2 425.4,113.2 424.2,114.2 423.0,115.2 421.9,116.1 420.7,116.5 419.5,115.9 418.3,115.2 417.1,114.5 416.0,113.7 414.8,113.0 413.6,112.4 412.4,111.9 411.2,111.6 410.0,111.5 408.8,111.7 407.6,112.0 406.4,112.6 405.1,113.3 403.9,114.2 402.7,115.2 401.5,116.3 400.3,117.3 399.1,118.3 397.8,119.2 396.6,119.0 395.4,118.3 394.1,117.5 392.9,116.8 391.7,116.0 390.4,115.3 389.2,114.7 387.9,114.3 386.7,114.0 385.5,114.0 384.2,114.3 382.9,114.7 381.7,115.4 380.4,116.3 379.2,117.2 377.9,118.3 376.6,119.4 375.4,120.4 374.1,121.4 372.8,122.1 371.5,121.4 370.3,120.6 369.0,119.8 367.7,119.0 366.4,118.2 365.1,117.5 363.8,117.0 362.5,116.6 361.2,116.5 359.9,116.6 358.6,116.9 357.3,117.5 356.0,118.3 354.7,119.2 353.4,120.2 352.0,121.3 350.7,122.5 349.4,123.5 348.1,124.5 346.7,124.5 345.4,123.7 344.1,122.9 342.7,122.1 341.4,121.2 340.0,120.4 338.7,119.8 337.3,119.3 336.0,119.0 334.6,118.9 333.3,119.1 331.9,119.6 330.5,120.3 329.2,121.1 327.8,122.1 326.4,123.3 325.1,124.4 323.7,125.5 322.3,126.6 320.9,127.5 319.5,126.8 318.1,126.0 316.7,125.1 315.3,124.2 313.9,123.4 312.5,122.6 311.1,122.0 309.7,121.5 308.3,121.3 306.9,121.4 305.5,121.7 304.0,122.2 302.6,123.0 301.2,124.0 299.8,125.1 298.3,126.3 296.9,127.5 295.5,128.6 294.0,129.7 292.6,129.9 291.1,129.1 289.7,128.2 288.2,127.3 286.7,126.3 285.3,125.5 283.8,124.7 282.3,124.1 280.9,123.8 279.4,123.6 277.9,123.8 276.4,124.2 274.9,124.9 273.5,125.8 272.0,126.9 270.5,128.0 269.0,129.3 267.5,130.5 266.0,131.6 264.5,132.7 262.9,132.1 261.4,131.3 259.9,130.3 258.4,129.3 256.9,128.3 255.3,127.5 253.8,126.7 252.3,126.2 250.7,126.0 249.2,125.9 247.6,126.2 246.1,126.8 244.5,127.6 243.0,128.6 241.4,129.7 239.8,131.0 238.3,132.2 236.7,133.5 235.1,134.6 233.5,135.1 232.0,134.3 230.4,133.3 228.8,132.3 227.2,131.2 225.6,130.3 224.0,129.4 222.4,128.7 220.8,128.3 219.2,128.1 217.5,128.2 215.9,128.6 214.3,129.3 212.7,130.2 211.0,131.3 209.4,132.5 207.8,133.8 206.1,135.1 204.5,136.4 202.8,137.5 201.2,137.2 199.5,136.2 197.8,135.2 196.2,134.1 194.5,133.0 192.8,132.1 191.1,131.2 189.5,130.6 187.8,130.3 186.1,130.2 184.4,130.4 182.7,131.0 181.0,131.8 179.3,132.8 177.6,134.0 175.9,135.3 174.1,136.6 172.4,138.0 170.7,139.2 169.0,140.0 167.2,139.1 165.5,138.1 163.7,136.9 162.0,135.8 160.2,134.7 158.5,133.7 156.7,132.9 155.0,132.4 153.2,132.1 151.4,132.2 149.6,132.6 147.8,133.2 146.1,134.2 144.3,135.3 142.5,136.6 140.7,138.0 138.9,139.3 137.1,140.7 135.2,141.9 133.4,141.8 131.6,140.8 129.8,139.9 127.9,138.9 126.1,138.6 124.3,138.7 122.4,138.8 120.6,138.9 118.7,139.0 116.9,139.1 115.0,139.2" fill="url(#t46)"/>
<polygon points="33.8,42.8 44.8,41.8 144.8,165.8 133.8,166.8" fill="#b5361f" opacity="0.85"/>
</g>
<polyline points="115.0,139.2 116.9,139.1 118.7,139.0 120.6,138.9 122.4,138.8 124.3,138.7 126.1,138.6 127.9,138.9 129.8,139.9 131.6,140.8 133.4,141.8 135.2,141.9 137.1,140.7 138.9,139.3 140.7,138.0 142.5,136.6 144.3,135.3 146.1,134.2 147.8,133.2 149.6,132.6 151.4,132.2 153.2,132.1 155.0,132.4 156.7,132.9 158.5,133.7 160.2,134.7 162.0,135.8 163.7,136.9 165.5,138.1 167.2,139.1 169.0,140.0 170.7,139.2 172.4,138.0 174.1,136.6 175.9,135.3 177.6,134.0 179.3,132.8 181.0,131.8 182.7,131.0 184.4,130.4 186.1,130.2 187.8,130.3 189.5,130.6 191.1,131.2 192.8,132.1 194.5,133.0 196.2,134.1 197.8,135.2 199.5,136.2 201.2,137.2 202.8,137.5 204.5,136.4 206.1,135.1 207.8,133.8 209.4,132.5 211.0,131.3 212.7,130.2 214.3,129.3 215.9,128.6 217.5,128.2 219.2,128.1 220.8,128.3 222.4,128.7 224.0,129.4 225.6,130.3 227.2,131.2 228.8,132.3 230.4,133.3 232.0,134.3 233.5,135.1 235.1,134.6 236.7,133.5 238.3,132.2 239.8,131.0 241.4,129.7 243.0,128.6 244.5,127.6 246.1,126.8 247.6,126.2 249.2,125.9 250.7,126.0 252.3,126.2 253.8,126.7 255.3,127.5 256.9,128.3 258.4,129.3 259.9,130.3 261.4,131.3 262.9,132.1 264.5,132.7 266.0,131.6 267.5,130.5 269.0,129.3 270.5,128.0 272.0,126.9 273.5,125.8 274.9,124.9 276.4,124.2 277.9,123.8 279.4,123.6 280.9,123.8 282.3,124.1 283.8,124.7 285.3,125.5 286.7,126.3 288.2,127.3 289.7,128.2 291.1,129.1 292.6,129.9 294.0,129.7 295.5,128.6 296.9,127.5 298.3,126.3 299.8,125.1 301.2,124.0 302.6,123.0 304.0,122.2 305.5,121.7 306.9,121.4 308.3,121.3 309.7,121.5 311.1,122.0 312.5,122.6 313.9,123.4 315.3,124.2 316.7,125.1 318.1,126.0 319.5,126.8 320.9,127.5 322.3,126.6 323.7,125.5 325.1,124.4 326.4,123.3 327.8,122.1 329.2,121.1 330.5,120.3 331.9,119.6 333.3,119.1 334.6,118.9 336.0,119.0 337.3,119.3 338.7,119.8 340.0,120.4 341.4,121.2 342.7,122.1 344.1,122.9 345.4,123.7 346.7,124.5 348.1,124.5 349.4,123.5 350.7,122.5 352.0,121.3 353.4,120.2 354.7,119.2 356.0,118.3 357.3,117.5 358.6,116.9 359.9,116.6 361.2,116.5 362.5,116.6 363.8,117.0 365.1,117.5 366.4,118.2 367.7,119.0 369.0,119.8 370.3,120.6 371.5,121.4 372.8,122.1 374.1,121.4 375.4,120.4 376.6,119.4 377.9,118.3 379.2,117.2 380.4,116.3 381.7,115.4 382.9,114.7 384.2,114.3 385.5,114.0 386.7,114.0 387.9,114.3 389.2,114.7 390.4,115.3 391.7,116.0 392.9,116.8 394.1,117.5 395.4,118.3 396.6,119.0 397.8,119.2 399.1,118.3 400.3,117.3 401.5,116.3 402.7,115.2 403.9,114.2 405.1,113.3 406.4,112.6 407.6,112.0 408.8,111.7 410.0,111.5 411.2,111.6 412.4,111.9 413.6,112.4 414.8,113.0 416.0,113.7 417.1,114.5 418.3,115.2 419.5,115.9 420.7,116.5 421.9,116.1 423.0,115.2 424.2,114.2 425.4,113.2 426.6,112.2 427.7,111.3 428.9,110.5 430.1,109.8 431.2,109.3 432.4,109.1 433.5,109.0 434.7,109.2 435.8,109.6 437.0,110.1 438.1,110.7 439.3,111.4 440.4,112.1 441.6,112.8 442.7,113.5 443.8,113.9 445.0,113.0 446.1,112.1 447.2,111.2 448.4,110.2 449.5,109.2 450.6,108.4 451.7,107.6 452.8,107.1 454.0,106.7 455.1,106.5 456.2,106.6 457.3,106.8 458.4,107.2 459.5,107.7" fill="none" stroke="#6e2214" stroke-width="2.6" stroke-opacity="0.8" filter="url(#b1)"/>
<g clip-path="url(#c0)">
<polygon points="30.5,23.8 32.4,23.8 34.2,23.8 36.1,23.8 37.9,23.8 39.8,23.8 41.6,23.8 43.4,24.0 45.3,24.7 47.1,25.4 48.9,26.1 50.7,26.2 52.6,25.5 54.4,24.7 56.2,23.9 58.0,23.1 59.8,22.3 61.6,21.6 63.3,21.1 65.1,20.7 66.9,20.6 68.7,20.6 70.5,20.8 72.2,21.3 74.0,21.8 75.7,22.5 77.5,23.3 79.2,24.1 81.0,25.0 82.7,25.7 84.5,26.4 86.2,25.9 87.9,25.2 89.6,24.4 91.4,23.6 93.1,22.8 94.8,22.1 96.5,21.4 98.2,21.0 99.9,20.7 101.6,20.6 103.3,20.7 105.0,21.0 106.6,21.5 108.3,22.2 110.0,22.9 111.7,23.7 113.3,24.5 115.0,25.3 116.7,26.0 118.3,26.3 120.0,25.6 121.6,24.9 123.3,24.1 124.9,23.3 126.5,22.5 128.2,21.8 129.8,21.3 131.4,20.9 133.0,20.7 134.7,20.7 136.3,20.9 137.9,21.3 139.5,21.8 141.1,22.5 142.7,23.3 144.3,24.1 145.9,24.9 147.5,25.6 149.0,26.3 150.6,26.0 152.2,25.3 153.8,24.6 155.3,23.7 156.9,23.0 158.5,22.2 160.0,21.6 161.6,21.1 163.1,20.8 164.7,20.7 166.2,20.8 167.8,21.1 169.3,21.5 170.8,22.1 172.4,22.8 173.9,23.6 175.4,24.4 176.9,25.2 178.4,25.9 180.0,26.4 181.5,25.8 183.0,25.0 184.5,24.2 186.0,23.4 187.5,22.7 189.0,22.0 190.4,21.4 191.9,21.0 193.4,20.8 194.9,20.8 196.4,20.9 197.8,21.3 199.3,21.8 200.8,22.4 202.2,23.2 203.7,24.0 205.2,24.8 206.6,25.5 208.1,26.2 209.5,26.2 211.0,25.5 212.4,24.7 213.8,23.9 215.3,23.1 216.7,22.4 218.1,21.8 219.5,21.3 221.0,20.9 222.4,20.8 223.8,20.8 225.2,21.1 226.6,21.5 228.0,22.1 229.4,22.8 230.8,23.5 232.2,24.3 233.6,25.1 235.0,25.8 236.4,26.5 237.8,25.9 239.2,25.2 240.6,24.4 241.9,23.6 243.3,22.8 244.7,22.1 246.0,21.6 247.4,21.1 248.8,20.9 250.1,20.8 251.5,21.0 252.8,21.3 254.2,21.8 255.5,22.4 256.9,23.1 258.2,23.9 259.6,24.7 260.9,25.4 262.2,26.1 263.6,26.3 264.9,25.6 266.2,24.8 267.5,24.1 268.9,23.3 270.2,22.6 271.5,21.9 272.8,21.4 274.1,21.0 275.4,20.9 276.7,20.9 278.0,21.1 279.3,21.5 280.6,22.1 281.9,22.7 283.2,23.5 284.5,24.2 285.8,25.0 287.0,25.7 288.3,26.4 289.6,26.0 290.9,25.3 292.1,24.5 293.4,23.7 294.7,23.0 295.9,22.3 297.2,21.7 298.4,21.3 299.7,21.0 301.0,20.9 302.2,21.0 303.4,21.3 304.7,21.8 305.9,22.3 307.2,23.0 308.4,23.8 309.6,24.6 310.9,25.3 312.1,26.0 313.3,26.4 314.6,25.7 315.8,25.0 317.0,24.2 318.2,23.4 319.4,22.7 320.6,22.1 321.9,21.5 323.1,21.2 324.3,21.0 325.5,20.9 326.7,21.1 327.9,21.5 329.1,22.0 330.3,22.7 331.5,23.4 332.6,24.2 333.8,24.9 335.0,25.6 336.2,26.3 337.4,26.1 338.5,25.4 339.7,24.7 340.9,23.9 342.1,23.1 343.2,22.4 344.4,21.8 345.6,21.4 346.7,21.1 347.9,21.0 349.0,21.0 350.2,21.3 351.3,21.7 352.5,22.3 353.6,23.0 354.8,23.7 355.9,24.5 357.1,25.2 358.2,25.9 359.3,26.4 360.5,25.8 361.6,25.1 362.7,24.4 363.9,23.6 365.0,22.9 366.1,22.2 367.2,21.7 368.3,21.3 369.5,21.0 370.6,21.0 371.7,21.2 372.8,21.5 373.9,22.0 375.0,22.6 421.0,67.1 419.9,66.6 418.8,66.2 417.7,65.9 416.6,65.8 415.5,65.9 414.4,66.3 413.3,66.7 412.2,67.4 411.1,68.1 410.0,68.9 408.9,69.8 407.8,70.7 406.7,71.5 405.6,72.2 404.5,71.8 403.3,71.1 402.2,70.5 401.1,69.8 400.0,69.1 398.8,68.5 397.7,67.9 396.6,67.6 395.4,67.4 394.3,67.4 393.2,67.6 392.0,68.0 390.9,68.6 389.7,69.3 388.6,70.1 387.4,70.9 386.3,71.8 385.1,72.7 384.0,73.5 382.8,73.8 381.6,73.2 380.5,72.5 379.3,71.8 378.1,71.1 377.0,70.4 375.8,69.8 374.6,69.3 373.4,69.0 372.3,68.9 371.1,69.0 369.9,69.2 368.7,69.7 367.5,70.4 366.3,71.1 365.1,72.0 363.9,72.9 362.7,73.8 361.5,74.7 360.3,75.5 359.1,75.2 357.9,74.5 356.7,73.8 355.5,73.0 354.3,72.3 353.0,71.6 351.8,71.0 350.6,70.6 349.4,70.4 348.1,70.3 346.9,70.5 345.7,70.9 344.4,71.4 343.2,72.2 341.9,73.0 340.7,73.9 339.5,74.9 338.2,75.8 337.0,76.6 335.7,77.2 334.4,76.5 333.2,75.8 331.9,75.0 330.6,74.2 329.4,73.5 328.1,72.8 326.8,72.2 325.6,71.9 324.3,71.7 323.0,71.7 321.7,72.0 320.4,72.5 319.1,73.1 317.8,73.9 316.5,74.8 315.2,75.8 313.9,76.8 312.6,77.7 311.3,78.5 310.0,78.5 308.7,77.7 307.4,76.9 306.1,76.1 304.8,75.3 303.4,74.5 302.1,73.9 300.8,73.4 299.5,73.1 298.1,73.0 296.8,73.1 295.4,73.5 294.1,74.0 292.8,74.8 291.4,75.7 290.1,76.6 288.7,77.6 287.3,78.6 286.0,79.5 284.6,80.3 283.3,79.6 281.9,78.8 280.5,78.0 279.1,77.1 277.8,76.3 276.4,75.5 275.0,74.9 273.6,74.5 272.2,74.2 270.8,74.2 269.4,74.5 268.0,74.9 266.6,75.6 265.2,76.4 263.8,77.3 262.4,78.3 261.0,79.4 259.6,80.4 258.2,81.3 256.7,81.4 255.3,80.6 253.9,79.8 252.4,78.9 251.0,78.0 249.6,77.1 248.1,76.4 246.7,75.8 245.2,75.5 243.8,75.3 242.3,75.4 240.9,75.7 239.4,76.3 237.9,77.0 236.5,77.9 235.0,79.0 233.5,80.0 232.0,81.0 230.6,82.0 229.1,82.9 227.6,82.4 226.1,81.5 224.6,80.6 223.1,79.7 221.6,78.7 220.1,77.9 218.6,77.2 217.1,76.7 215.5,76.3 214.0,76.3 212.5,76.5 211.0,76.9 209.4,77.6 207.9,78.4 206.4,79.4 204.8,80.5 203.3,81.5 201.7,82.6 200.2,83.6 198.6,84.0 197.1,83.1 195.5,82.2 194.0,81.2 192.4,80.2 190.8,79.3 189.2,78.5 187.7,77.8 186.1,77.4 184.5,77.1 182.9,77.2 181.3,77.5 179.7,78.0 178.1,78.8 176.5,79.7 174.9,80.8 173.3,81.9 171.7,83.0 170.0,84.0 168.4,85.0 166.8,84.6 165.2,83.7 163.5,82.7 161.9,81.7 160.2,80.7 158.6,79.7 156.9,78.9 155.3,78.3 153.6,77.9 152.0,77.8 150.3,77.9 148.6,78.3 146.9,79.0 145.3,79.9 143.6,80.9 141.9,82.0 140.2,83.1 138.5,84.2 136.8,85.3 135.1,86.0 133.4,85.1 131.7,84.1 130.0,83.0 128.2,81.9 126.5,80.9 124.8,79.9 123.1,79.2 121.3,78.6 119.6,78.3 117.8,78.3 116.1,78.5 114.3,79.1 112.6,79.8 110.8,80.8 109.0,81.9 107.3,83.0 105.5,84.2 103.7,85.3 101.9,86.3 100.1,86.2 98.3,85.3 96.5,84.3 94.7,83.4 92.9,83.1 91.1,83.1 89.3,83.1 87.5,83.1 85.7,83.1 83.8,83.2 82.0,83.2" fill="#d8462a"/>
<polygon points="0.6,11.3 37.2,11.4 114.0,101.8 78.2,102.3" fill="url(#t47)"/>
<polygon points="37.2,11.4 72.1,11.6 148.0,101.0 114.0,101.8" fill="url(#t48)"/>
<polygon points="72.1,11.6 105.3,11.8 180.5,99.9 148.0,101.0" fill="url(#t49)"/>
<polygon points="105.3,11.8 137.1,12.1 211.5,98.6 180.5,99.9" fill="url(#t50)"/>
<polygon points="137.1,12.1 167.5,12.4 241.2,97.1 211.5,98.6" fill="url(#t51)"/>
<polygon points="167.5,12.4 196.5,12.7 269.5,95.5 241.2,97.1" fill="url(#t52)"/>
<polygon points="196.5,12.7 224.4,13.0 296.7,93.8 269.5,95.5" fill="url(#t53)"/>
<polygon points="224.4,13.0 251.1,13.4 322.8,91.9 296.7,93.8" fill="url(#t54)"/>
<polygon points="251.1,13.4 276.7,13.8 347.8,90.0 322.8,91.9" fill="url(#t55)"/>
<polygon points="276.7,13.8 301.3,14.2 371.8,87.9 347.8,90.0" fill="url(#t56)"/>
<polygon points="301.3,14.2 324.9,14.6 394.8,85.8 371.8,87.9" fill="url(#t57)"/>
<polygon points="324.9,14.6 347.7,15.1 417.0,83.7 394.8,85.8" fill="url(#t58)"/>
<polygon points="347.7,15.1 369.5,15.5 438.4,81.5 417.0,83.7" fill="url(#t59)"/>
<polygon points="15.0,8.3 26.0,7.3 108.5,104.2 97.5,105.2" fill="#b5361f" opacity="0.85"/>
</g>
<polyline points="82.0,83.2 83.8,83.2 85.7,83.1 87.5,83.1 89.3,83.1 91.1,83.1 92.9,83.1 94.7,83.4 96.5,84.3 98.3,85.3 100.1,86.2 101.9,86.3 103.7,85.3 105.5,84.2 107.3,83.0 109.0,81.9 110.8,80.8 112.6,79.8 114.3,79.1 116.1,78.5 117.8,78.3 119.6,78.3 121.3,78.6 123.1,79.2 124.8,79.9 126.5,80.9 128.2,81.9 130.0,83.0 131.7,84.1 133.4,85.1 135.1,86.0 136.8,85.3 138.5,84.2 140.2,83.1 141.9,82.0 143.6,80.9 145.3,79.9 146.9,79.0 148.6,78.3 150.3,77.9 152.0,77.8 153.6,77.9 155.3,78.3 156.9,78.9 158.6,79.7 160.2,80.7 161.9,81.7 163.5,82.7 165.2,83.7 166.8,84.6 168.4,85.0 170.0,84.0 171.7,83.0 173.3,81.9 174.9,80.8 176.5,79.7 178.1,78.8 179.7,78.0 181.3,77.5 182.9,77.2 184.5,77.1 186.1,77.4 187.7,77.8 189.2,78.5 190.8,79.3 192.4,80.2 194.0,81.2 195.5,82.2 197.1,83.1 198.6,84.0 200.2,83.6 201.7,82.6 203.3,81.5 204.8,80.5 206.4,79.4 207.9,78.4 209.4,77.6 211.0,76.9 212.5,76.5 214.0,76.3 215.5,76.3 217.1,76.7 218.6,77.2 220.1,77.9 221.6,78.7 223.1,79.7 224.6,80.6 226.1,81.5 227.6,82.4 229.1,82.9 230.6,82.0 232.0,81.0 233.5,80.0 235.0,79.0 236.5,77.9 237.9,77.0 239.4,76.3 240.9,75.7 242.3,75.4 243.8,75.3 245.2,75.5 246.7,75.8 248.1,76.4 249.6,77.1 251.0,78.0 252.4,78.9 253.9,79.8 255.3,80.6 256.7,81.4 258.2,81.3 259.6,80.4 261.0,79.4 262.4,78.3 263.8,77.3 265.2,76.4 266.6,75.6 268.0,74.9 269.4,74.5 270.8,74.2 272.2,74.2 273.6,74.5 275.0,74.9 276.4,75.5 277.8,76.3 279.1,77.1 280.5,78.0 281.9,78.8 283.3,79.6 284.6,80.3 286.0,79.5 287.3,78.6 288.7,77.6 290.1,76.6 291.4,75.7 292.8,74.8 294.1,74.0 295.4,73.5 296.8,73.1 298.1,73.0 299.5,73.1 300.8,73.4 302.1,73.9 303.4,74.5 304.8,75.3 306.1,76.1 307.4,76.9 308.7,77.7 310.0,78.5 311.3,78.5 312.6,77.7 313.9,76.8 315.2,75.8 316.5,74.8 317.8,73.9 319.1,73.1 320.4,72.5 321.7,72.0 323.0,71.7 324.3,71.7 325.6,71.9 326.8,72.2 328.1,72.8 329.4,73.5 330.6,74.2 331.9,75.0 333.2,75.8 334.4,76.5 335.7,77.2 337.0,76.6 338.2,75.8 339.5,74.9 340.7,73.9 341.9,73.0 343.2,72.2 344.4,71.4 345.7,70.9 346.9,70.5 348.1,70.3 349.4,70.4 350.6,70.6 351.8,71.0 353.0,71.6 354.3,72.3 355.5,73.0 356.7,73.8 357.9,74.5 359.1,75.2 360.3,75.5 361.5,74.7 362.7,73.8 363.9,72.9 365.1,72.0 366.3,71.1 367.5,70.4 368.7,69.7 369.9,69.2 371.1,69.0 372.3,68.9 373.4,69.0 374.6,69.3 375.8,69.8 377.0,70.4 378.1,71.1 379.3,71.8 380.5,72.5 381.6,73.2 382.8,73.8 384.0,73.5 385.1,72.7 386.3,71.8 387.4,70.9 388.6,70.1 389.7,69.3 390.9,68.6 392.0,68.0 393.2,67.6 394.3,67.4 395.4,67.4 396.6,67.6 397.7,67.9 398.8,68.5 400.0,69.1 401.1,69.8 402.2,70.5 403.3,71.1 404.5,71.8 405.6,72.2 406.7,71.5 407.8,70.7 408.9,69.8 410.0,68.9 411.1,68.1 412.2,67.4 413.3,66.7 414.4,66.3 415.5,65.9 416.6,65.8 417.7,65.9 418.8,66.2 419.9,66.6 421.0,67.1" fill="none" stroke="#6e2214" stroke-width="2.6" stroke-opacity="0.8" filter="url(#b1)"/>
</g>
<g id="labels">
<line x1="333" y1="510.4" x2="767.5" y2="510.4" stroke="#1d3b73" stroke-width="1.4"/>
<line x1="364" y1="433.7" x2="484.5" y2="425" stroke="#1d3b73" stroke-width="1.4"/>
<line x1="392" y1="354.5" x2="620" y2="338.7" stroke="#1d3b73" stroke-width="1.4"/>
<line x1="424" y1="275.5" x2="636" y2="250.3" stroke="#1d3b73" stroke-width="1.4"/>
<line x1="462" y1="175.5" x2="553" y2="169.5" stroke="#1d3b73" stroke-width="1.4"/>
<rect x="553" y="139.5" width="364.5" height="59.8" fill="#15387a"/>
<rect x="635.8" y="220.8" width="281.7" height="60.2" fill="#15387a"/>
<rect x="620" y="308.8" width="297.5" height="60.7" fill="#15387a"/>
<rect x="484.3" y="393" width="433.2" height="61.9" fill="#15387a"/>
<rect x="767.5" y="477" width="150.2" height="62.3" fill="#15387a"/>
<text x="579.25" y="178.8" font-family="'Liberation Sans', sans-serif" font-weight="700" font-style="italic" font-size="26" fill="#fff" textLength="319.2" lengthAdjust="spacingAndGlyphs">Contre-lattage et couverture</text>
<text x="666.25" y="260" font-family="'Liberation Sans', sans-serif" font-weight="700" font-style="italic" font-size="26" fill="#fff" textLength="219.2" lengthAdjust="spacingAndGlyphs">Panneau pare-pluie</text>
<text x="642.5" y="348" font-family="'Liberation Sans', sans-serif" font-weight="700" font-style="italic" font-size="26" fill="#fff" textLength="256.0" lengthAdjust="spacingAndGlyphs">180mm d'isolant rigide</text>
<text x="515.5" y="432" font-family="'Liberation Sans', sans-serif" font-weight="700" font-style="italic" font-size="26" fill="#fff" textLength="383.0" lengthAdjust="spacingAndGlyphs">Membrane pare-vapeur praticable</text>
<text x="793" y="516.3" font-family="'Liberation Sans', sans-serif" font-weight="700" font-style="italic" font-size="26" fill="#fff" textLength="105.8" lengthAdjust="spacingAndGlyphs">Platelage</text>
<circle cx="313" cy="509" r="20.6" fill="#15387a"/>
<text x="313" y="518.5" text-anchor="middle" font-family="'Liberation Sans', sans-serif" font-size="27" fill="#fff">1</text>
<circle cx="343.2" cy="431.8" r="20.6" fill="#15387a"/>
<text x="343.2" y="441.3" text-anchor="middle" font-family="'Liberation Sans', sans-serif" font-size="27" fill="#fff">2</text>
<circle cx="371.2" cy="355" r="20.6" fill="#15387a"/>
<text x="371.2" y="364.5" text-anchor="middle" font-family="'Liberation Sans', sans-serif" font-size="27" fill="#fff">3</text>
<circle cx="403.4" cy="273.6" r="20.6" fill="#15387a"/>
<text x="403.4" y="283.1" text-anchor="middle" font-family="'Liberation Sans', sans-serif" font-size="27" fill="#fff">4</text>
<circle cx="441.6" cy="174.5" r="20.6" fill="#15387a"/>
<text x="441.6" y="184.0" text-anchor="middle" font-family="'Liberation Sans', sans-serif" font-size="27" fill="#fff">5</text>
</g>
</svg>
</body></html>
